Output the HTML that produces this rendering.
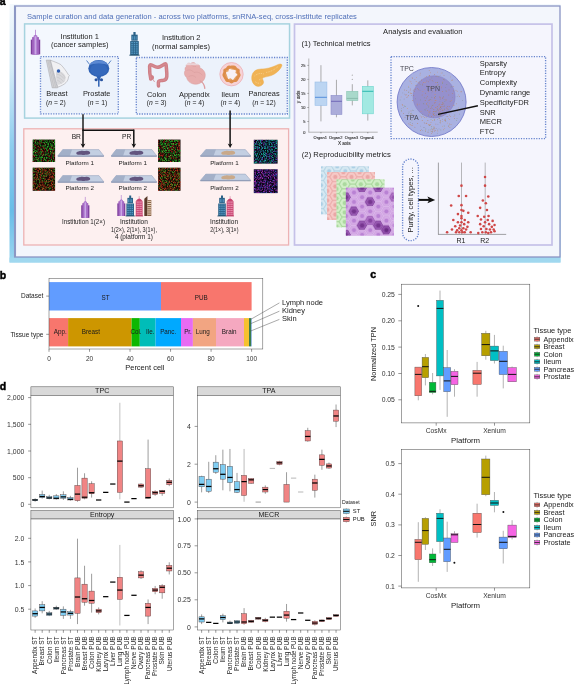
<!DOCTYPE html>
<html lang="en"><head><meta charset="utf-8"><title>Figure</title>
<style>
html,body{margin:0;padding:0;background:#fff;}
body{width:576px;height:685px;overflow:hidden;}
svg{display:block;font-family:"Liberation Sans", sans-serif;}
</style></head><body>
<svg width="576" height="685" viewBox="0 0 576 685">
<defs>

<linearGradient id="gband" x1="0" y1="0" x2="0" y2="1">
<stop offset="0" stop-color="#f4f9fd"/><stop offset="0.25" stop-color="#d6ecf8"/><stop offset="0.55" stop-color="#8ccdee"/><stop offset="0.8" stop-color="#68bde8"/><stop offset="0.95" stop-color="#8fd0ee"/><stop offset="1" stop-color="#a0d8ef"/>
</linearGradient>
<clipPath id="cph1"><rect x="321.0" y="166.4" width="47.8" height="47.8"/></clipPath><clipPath id="cph2"><rect x="327.2" y="172.2" width="47.8" height="47.8"/></clipPath><clipPath id="cph3"><rect x="336.6" y="179.5" width="47.8" height="47.8"/></clipPath><clipPath id="cph4"><rect x="345.9" y="187.8" width="47.8" height="47.8"/></clipPath>
</defs>
<rect x="9.50" y="4.00" width="551.00" height="258.50" fill="url(#gband)" stroke="none" stroke-width="1"/>
<rect x="9.50" y="257.60" width="551.00" height="4.90" fill="#a0d8ef" stroke="none" stroke-width="1"/>
<rect x="14.60" y="6.00" width="545.40" height="251.00" fill="#f3f6fc" stroke="#8a94c4" stroke-width="1.3"/>
<line x1="15.10" y1="6.00" x2="15.10" y2="257.00" stroke="#8d98c4" stroke-width="1.9"/>
<text x="27" y="19" font-size="7.55" fill="#4f6fb8" textLength="329.9">Sample curation and data generation - across two platforms, snRNA-seq, cross-institute replicates</text>
<rect x="24.60" y="23.90" width="264.95" height="94.20" fill="#f4f8fe" stroke="#a6d3df" stroke-width="1.5"/>
<rect x="23.80" y="128.80" width="264.80" height="116.20" fill="#fdf0f0" stroke="#edb2b4" stroke-width="1.3"/>
<rect x="294.50" y="24.10" width="257.50" height="220.90" fill="#f5f5fd" stroke="#c5c1e8" stroke-width="1.7"/>
<rect x="40.50" y="56.60" width="77.80" height="57.20" fill="#ecf2fb" stroke="#6583cd" stroke-width="1.35" stroke-dasharray="1.2 1.35"/>
<rect x="136.30" y="57.50" width="151.00" height="56.50" fill="#ecf2fb" stroke="#6583cd" stroke-width="1.35" stroke-dasharray="1.2 1.35"/>
<text x="79.8" y="38.8" font-size="7.5" text-anchor="middle" fill="#1c1c1c">Institution 1</text>
<text x="79.8" y="47.1" font-size="7.5" text-anchor="middle" fill="#1c1c1c">(cancer samples)</text>
<text x="181.2" y="40.3" font-size="7.5" text-anchor="middle" fill="#1c1c1c">Institution 2</text>
<text x="181" y="48.8" font-size="7.5" text-anchor="middle" fill="#1c1c1c">(normal samples)</text>
<text x="56.9" y="96" font-size="7.4" text-anchor="middle" fill="#1c1c1c">Breast</text>
<text x="55.9" y="104.5" font-size="6.75" text-anchor="middle" fill="#1c1c1c">(<tspan font-style="italic">n</tspan> = 2)</text>
<text x="96.7" y="96" font-size="7.4" text-anchor="middle" fill="#1c1c1c">Prostate</text>
<text x="97.3" y="104.5" font-size="6.75" text-anchor="middle" fill="#1c1c1c">(<tspan font-style="italic">n</tspan> = 1)</text>
<text x="156.6" y="96.5" font-size="7.4" text-anchor="middle" fill="#1c1c1c">Colon</text>
<text x="156.6" y="105" font-size="6.75" text-anchor="middle" fill="#1c1c1c">(<tspan font-style="italic">n</tspan> = 3)</text>
<text x="194.4" y="96.5" font-size="7.4" text-anchor="middle" fill="#1c1c1c">Appendix</text>
<text x="194.4" y="105" font-size="6.75" text-anchor="middle" fill="#1c1c1c">(<tspan font-style="italic">n</tspan> = 4)</text>
<text x="230.3" y="96.5" font-size="7.4" text-anchor="middle" fill="#1c1c1c">Ileum</text>
<text x="230.3" y="105" font-size="6.75" text-anchor="middle" fill="#1c1c1c">(<tspan font-style="italic">n</tspan> = 4)</text>
<text x="264" y="95.9" font-size="7.4" text-anchor="middle" fill="#1c1c1c">Pancreas</text>
<text x="264" y="104.5" font-size="6.75" text-anchor="middle" fill="#1c1c1c">(<tspan font-style="italic">n</tspan> = 12)</text>
<line x1="35.50" y1="29.80" x2="35.50" y2="36.20" stroke="#b482d0" stroke-width="0.799"/>
<rect x="30.80" y="39.64" width="9.40" height="14.76" fill="#7d3f9c" stroke="none" stroke-width="1"/>
<rect x="32.12" y="37.18" width="6.77" height="17.22" fill="#9450b2" stroke="none" stroke-width="1"/>
<path d="M33.62,54.40 V35.83 L35.50,34.72 L37.38,35.83 V54.40Z" fill="#a96fcb"/>
<rect x="34.65" y="36.20" width="1.69" height="18.20" fill="#caa8e4" stroke="none" stroke-width="1"/>
<rect x="32.68" y="38.16" width="0.56" height="16.24" fill="#b98ad6" stroke="none" stroke-width="1"/>
<rect x="37.76" y="38.16" width="0.56" height="16.24" fill="#b98ad6" stroke="none" stroke-width="1"/>
<rect x="133.38" y="32.00" width="2.24" height="3.02" fill="#2b6288" stroke="none" stroke-width="1"/>
<rect x="131.32" y="34.67" width="6.36" height="6.03" fill="#2b6288" stroke="none" stroke-width="1"/>
<rect x="130.20" y="41.05" width="8.60" height="14.15" fill="#2b6288" stroke="none" stroke-width="1"/>
<rect x="132.18" y="36.18" width="1.03" height="3.48" fill="#62aad6" stroke="none" stroke-width="1" opacity=".7"/>
<rect x="133.90" y="36.18" width="1.03" height="3.48" fill="#62aad6" stroke="none" stroke-width="1" opacity=".7"/>
<rect x="135.62" y="36.18" width="1.03" height="3.48" fill="#62aad6" stroke="none" stroke-width="1" opacity=".7"/>
<rect x="131.32" y="42.14" width="1.46" height="1.05" fill="#62aad6" stroke="none" stroke-width="1"/>
<rect x="133.73" y="42.14" width="1.46" height="1.05" fill="#62aad6" stroke="none" stroke-width="1"/>
<rect x="136.13" y="42.14" width="1.46" height="1.05" fill="#62aad6" stroke="none" stroke-width="1"/>
<rect x="131.32" y="44.25" width="1.46" height="1.05" fill="#62aad6" stroke="none" stroke-width="1"/>
<rect x="133.73" y="44.25" width="1.46" height="1.05" fill="#62aad6" stroke="none" stroke-width="1"/>
<rect x="136.13" y="44.25" width="1.46" height="1.05" fill="#62aad6" stroke="none" stroke-width="1"/>
<rect x="131.32" y="46.35" width="1.46" height="1.05" fill="#62aad6" stroke="none" stroke-width="1"/>
<rect x="133.73" y="46.35" width="1.46" height="1.05" fill="#62aad6" stroke="none" stroke-width="1"/>
<rect x="136.13" y="46.35" width="1.46" height="1.05" fill="#62aad6" stroke="none" stroke-width="1"/>
<rect x="131.32" y="48.45" width="1.46" height="1.05" fill="#62aad6" stroke="none" stroke-width="1"/>
<rect x="133.73" y="48.45" width="1.46" height="1.05" fill="#62aad6" stroke="none" stroke-width="1"/>
<rect x="136.13" y="48.45" width="1.46" height="1.05" fill="#62aad6" stroke="none" stroke-width="1"/>
<rect x="131.32" y="50.55" width="1.46" height="1.05" fill="#62aad6" stroke="none" stroke-width="1"/>
<rect x="133.73" y="50.55" width="1.46" height="1.05" fill="#62aad6" stroke="none" stroke-width="1"/>
<rect x="136.13" y="50.55" width="1.46" height="1.05" fill="#62aad6" stroke="none" stroke-width="1"/>
<rect x="131.32" y="52.66" width="1.46" height="1.05" fill="#62aad6" stroke="none" stroke-width="1"/>
<rect x="133.73" y="52.66" width="1.46" height="1.05" fill="#62aad6" stroke="none" stroke-width="1"/>
<rect x="136.13" y="52.66" width="1.46" height="1.05" fill="#62aad6" stroke="none" stroke-width="1"/>
<rect x="129.34" y="54.70" width="10.32" height="0.90" fill="#1f4f6c" stroke="none" stroke-width="1"/>
<g stroke-linejoin="round">
<path d="M46.2,60.1 L50.5,60.1 C52.4,69 54.6,79 57.6,87.9 L52.2,87.9 C50.2,79 48.2,69 46.2,60.1Z" fill="#d2d2d5" stroke="#a2a2a6" stroke-width=".45"/>
<path d="M47.9,60.3 C49.8,69 51.8,79 54,87.7 M49.2,60.3 C51.2,69 53.4,79 55.8,87.7" fill="none" stroke="#b0b0b4" stroke-width=".4"/>
<path d="M50.5,60.2 C54,61.6 58,63 60.8,64.6 C63.6,67.4 66.4,71.4 68.2,74.4 L69.4,75.6 L68.5,76.8 C68.4,79.4 67.4,81 66,82.6 C63.8,84.8 61,86 57.9,87.2 C55.4,79 52.6,69 50.5,60.2Z" fill="#f1f1f3" stroke="#9c9ca0" stroke-width=".5"/>
<path d="M56,72 C58,70.6 62,71.6 64.4,74.4 C66.4,77 65.8,80.6 63.4,82.6 C61.2,84.4 58.6,85 57.4,84.6 C56.2,80.6 55.8,76 56,72Z" fill="#d9d9dc"/>
<path d="M56.6,74 C59.5,74.6 62.5,76.5 64.6,79 M56.8,77 C59.5,77.8 62,79.5 63.6,81.8 M57.2,80.2 C59,80.8 60.6,82 61.6,83.6 M58.4,70.6 C61,72.4 63.6,75 65.2,78" fill="none" stroke="#b4b4b8" stroke-width=".35"/>
</g>
<circle cx="58.50" cy="71.10" r="1.75" fill="#2c5cb0" stroke="none" stroke-width="1"/>
<path d="M89.4,64.2 L86.8,60.8 M108.2,64.2 L110.8,60.8" fill="none" stroke="#4a79c2" stroke-width=".9" stroke-linecap="round"/>
<ellipse cx="98.8" cy="68.5" rx="10.5" ry="8.4" fill="#2f62b4"/>
<path d="M89.6,65.2 C91,61.6 95,60.4 98.8,60.4 C102.6,60.4 106.6,61.6 108,65.2 C105,63.4 92.6,63.4 89.6,65.2Z" fill="#5a88d2"/>
<ellipse cx="98.8" cy="69.6" rx="8.6" ry="6.2" fill="#3569bc"/>
<path d="M96.4,76 L101.2,76 L99.6,80.6 L98,80.6Z" fill="#2f62b4"/>
<rect x="98.05" y="76.00" width="1.50" height="10.70" fill="#2f62b4" stroke="none" stroke-width="1"/>
<circle cx="96.10" cy="79.80" r="1.55" fill="#28539f" stroke="none" stroke-width="1"/>
<circle cx="101.50" cy="79.80" r="1.55" fill="#28539f" stroke="none" stroke-width="1"/>
<path d="M150.8,79 C149.8,75 149.5,70 149.6,66.4 Q149.7,64.2 151.6,65 C153.6,65.9 155.4,67.1 157.4,67.3 C159.6,67.4 162.6,65.2 164.6,64 Q166.2,63.2 166.2,65.6 C166.4,69 167.1,73 166.8,76.6 Q166.5,80.2 162.6,80.5 C161,80.7 159.4,80.5 158.7,81.4 C158,82.6 158.4,84.4 158.5,86" fill="none" stroke="#cf7f86" stroke-width="3.5" stroke-linecap="round" stroke-linejoin="round"/>
<circle cx="151.50" cy="77.60" r="2.50" fill="#cf7f86" stroke="none" stroke-width="1"/>
<path d="M153.2,79.8 L154.4,81.7" stroke="#d48e94" stroke-width=".8" stroke-linecap="round" fill="none"/>
<path d="M150.8,79 C149.8,75 149.5,70 149.6,66.4 Q149.7,64.2 151.6,65 C153.6,65.9 155.4,67.1 157.4,67.3 C159.6,67.4 162.6,65.2 164.6,64 Q166.2,63.2 166.2,65.6 C166.4,69 167.1,73 166.8,76.6 Q166.5,80.2 162.6,80.5 C161,80.7 159.4,80.5 158.7,81.4 C158,82.6 158.4,84.4 158.5,86" fill="none" stroke="#d68b92" stroke-width="1.2" stroke-linecap="round" stroke-linejoin="round" stroke-dasharray="1.6 1.2"/>
<path d="M186.2,66.5 C185.6,63.6 188.6,62.4 190.6,63.6 C192,62 195.2,62.2 196,64.2 C198.6,63.6 200.4,65.6 199.8,67.8 C204,69.4 206.2,73.4 205,77.4 C203.8,81.6 199.6,84.4 195,84.2 C190.6,84 187.4,81.2 186.6,77.6 C184.2,75.6 183.8,72.4 185.2,70.2 C184.6,68.8 185.2,67.2 186.2,66.5Z" fill="#e7adad" stroke="#d69a9a" stroke-width=".45"/>
<path d="M186.6,70.4 C189.6,69.2 192.6,70.2 194,72.6 M190.6,64 C191.6,66 194,67 196,66.4 M194,72.6 C197,71.4 200.6,72.6 202.4,75.4 M188.6,76.6 C191.6,75 194.2,75.4 196,77.6" fill="none" stroke="#d69a9a" stroke-width=".5"/>
<path d="M186,63.2 L200,63.2 L200,65.2 L186,65.2Z" fill="#eef4fc" opacity=".55"/>
<path d="M200.2,81 C202.6,82 204.4,84.6 204.8,88.4" fill="none" stroke="#dc9ea0" stroke-width="1.3" stroke-linecap="round"/>
<circle cx="231.50" cy="74.20" r="11.70" fill="#f7d3d6" stroke="#e9aab2" stroke-width="0.7"/>
<path d="M240.5,74.2 L240.6,75.4 L240.1,76.5 L239.5,77.5 L239.0,78.5 L238.4,79.5 L237.8,80.5 L237.0,81.4 L236.0,82.0 L234.8,82.1 L233.7,82.3 L232.7,83.0 L231.5,83.5 L230.3,83.1 L229.3,82.3 L228.3,82.0 L227.0,82.0 L225.9,81.5 L225.2,80.5 L224.7,79.4 L224.0,78.5 L223.5,77.5 L222.9,76.5 L222.5,75.4 L222.5,74.2 L223.0,73.1 L223.4,72.0 L223.3,70.8 L223.4,69.5 L224.4,68.7 L225.6,68.3 L226.4,67.5 L227.0,66.4 L228.0,65.7 L229.2,65.6 L230.4,65.7 L231.5,65.6 L232.6,65.6 L233.8,65.6 L235.0,65.8 L236.0,66.4 L236.7,67.4 L237.4,68.3 L238.6,68.8 L239.6,69.5 L239.8,70.8 L239.6,72.0 L239.9,73.1Z" fill="#dd8d4a"/>
<path d="M237.9,74.2 L238.0,75.1 L237.3,75.8 L236.7,76.3 L236.3,77.0 L236.0,77.7 L235.7,78.4 L235.2,79.0 L234.6,79.6 L233.9,80.0 L233.0,80.0 L232.2,79.6 L231.5,79.4 L230.8,79.9 L229.8,80.4 L229.0,80.3 L228.5,79.4 L228.2,78.5 L227.7,78.0 L226.9,77.7 L226.2,77.3 L225.8,76.6 L225.6,75.8 L225.5,75.0 L225.6,74.2 L226.0,73.5 L226.3,72.8 L226.2,72.0 L225.9,71.0 L226.3,70.2 L227.2,69.9 L228.2,70.0 L228.9,69.7 L229.3,68.9 L229.9,68.1 L230.7,67.9 L231.5,68.1 L232.3,68.4 L233.0,68.7 L233.7,69.0 L234.3,69.3 L235.1,69.5 L236.0,69.7 L236.6,70.3 L236.7,71.2 L236.5,72.1 L236.5,72.9 L237.2,73.5Z" fill="#e6a468"/>
<path d="M237.0,74.2 L237.2,74.9 L236.7,75.6 L236.1,76.1 L235.6,76.5 L235.2,77.0 L234.8,77.5 L234.4,78.0 L234.0,78.5 L233.6,79.2 L233.0,79.7 L232.2,79.7 L231.5,79.0 L231.0,78.4 L230.4,78.2 L229.7,78.6 L228.7,79.0 L228.0,78.8 L227.7,78.0 L227.6,77.2 L227.4,76.5 L227.2,76.0 L227.0,75.4 L226.8,74.8 L226.6,74.2 L226.2,73.5 L226.0,72.7 L226.4,72.1 L227.3,71.8 L228.2,71.6 L228.5,71.2 L228.6,70.4 L228.7,69.4 L229.3,68.9 L230.1,69.0 L230.9,69.3 L231.5,69.5 L232.1,69.6 L232.7,69.7 L233.3,69.8 L234.0,69.9 L234.8,69.9 L235.5,70.2 L235.9,70.8 L235.7,71.8 L235.4,72.6 L235.5,73.1 L236.3,73.6Z" fill="#f7f0f5"/>
<path d="M251.7,78.6 C251.6,76 252.2,74 253.3,72.5 C254.4,71 255.8,70 257.5,69.5 C260,68.8 262.6,69 265.1,68.7 C267.8,68.4 270.2,67.7 272.7,66.8 C274.6,66.1 276.4,65.2 278.1,64.5 C278.8,64.2 279.4,64 280,64 C281.4,64 282.2,64.6 281.9,65.6 C281.7,66.4 281.3,67.2 280.8,67.9 C279.6,69.6 278.2,71.2 276.6,72.5 C275,73.8 273.2,74.9 271.2,75.6 C269.2,76.3 267.2,76.7 265.1,77.1 C264,77.4 263,77.8 262.4,78.6 C262.6,79.6 263.4,80.6 263.6,81.7 C263.7,83 263,84.2 262,85.1 C261,86 259.6,86.4 258.2,86.4 C256.8,86.4 255.4,85.8 254.4,84.7 C253.2,83.6 252.5,82.3 252.1,80.9 C251.9,80.1 251.7,79.4 251.7,78.6Z" fill="#f0b355" stroke="#eaa844" stroke-width=".4"/>
<path d="M254.5,76 C257.5,73.4 261,73 264,74 M259,80 C260.4,79 261.6,78.8 262.6,79.2 M266,72.4 C270,72 274,70 278,66.6 M255,81.5 C256.5,83 258.5,83.6 260.5,83" fill="none" stroke="#f6cf8c" stroke-width=".9" stroke-dasharray=".9 .9"/>
<path d="M83,114.2 V130.2 H133.8" fill="none" stroke="#111" stroke-width="1.4"/>
<line x1="83.00" y1="129.60" x2="83.00" y2="145.00" stroke="#111" stroke-width="1.5"/>
<path d="M80.60,143.50 L83.00,148.00 L85.40,143.50 L83.00,144.70Z" fill="#111"/>
<line x1="133.80" y1="129.60" x2="133.80" y2="145.00" stroke="#111" stroke-width="1.5"/>
<path d="M131.40,143.50 L133.80,148.00 L136.20,143.50 L133.80,144.70Z" fill="#111"/>
<line x1="230.10" y1="110.50" x2="230.10" y2="145.00" stroke="#111" stroke-width="1.5"/>
<path d="M227.70,143.50 L230.10,148.00 L232.50,143.50 L230.10,144.70Z" fill="#111"/>
<text x="76.3" y="138.5" font-size="6.7" text-anchor="middle" fill="#1c1c1c">BR</text>
<text x="126.6" y="138.5" font-size="6.7" text-anchor="middle" fill="#1c1c1c">PR</text>
<path d="M62.78,149.60 L98.92,149.60 L103.90,155.90 L57.80,155.90Z" fill="#c3cfe2" stroke="#8e9cb8" stroke-width=".5"/>
<path d="M62.78,149.60 L72.03,149.60 L69.79,155.90 L57.80,155.90Z" fill="#a3b0c8"/>
<line x1="57.80" y1="156.25" x2="103.90" y2="156.25" stroke="#7f8dac" stroke-width="0.9"/>
<path d="M76.29,153.15 C76.49,151.35 79.89,151.55 81.09,150.85 C82.79,150.35 84.79,151.25 86.29,150.85 C88.79,150.65 90.49,151.85 90.19,153.15 C89.89,154.45 87.29,154.35 85.69,154.85 C83.79,155.25 81.79,154.45 80.29,154.75 C78.29,155.05 76.19,154.35 76.29,153.15Z" fill="#62557f"/>
<path d="M62.78,175.60 L98.92,175.60 L103.90,181.90 L57.80,181.90Z" fill="#c3cfe2" stroke="#8e9cb8" stroke-width=".5"/>
<path d="M62.78,175.60 L72.03,175.60 L69.79,181.90 L57.80,181.90Z" fill="#a3b0c8"/>
<line x1="57.80" y1="182.25" x2="103.90" y2="182.25" stroke="#7f8dac" stroke-width="0.9"/>
<path d="M76.29,179.15 C76.49,177.35 79.89,177.55 81.09,176.85 C82.79,176.35 84.79,177.25 86.29,176.85 C88.79,176.65 90.49,177.85 90.19,179.15 C89.89,180.45 87.29,180.35 85.69,180.85 C83.79,181.25 81.79,180.45 80.29,180.75 C78.29,181.05 76.19,180.35 76.29,179.15Z" fill="#62557f"/>
<text x="79.64999999999999" y="164.8" font-size="6.25" text-anchor="middle" fill="#1c1c1c">Platform 1</text>
<text x="79.64999999999999" y="190.1" font-size="6.25" text-anchor="middle" fill="#1c1c1c">Platform 2</text>
<path d="M116.12,149.60 L151.88,149.60 L156.80,155.90 L111.20,155.90Z" fill="#c3cfe2" stroke="#8e9cb8" stroke-width=".5"/>
<path d="M116.12,149.60 L125.27,149.60 L123.06,155.90 L111.20,155.90Z" fill="#a3b0c8"/>
<line x1="111.20" y1="156.25" x2="156.80" y2="156.25" stroke="#7f8dac" stroke-width="0.9"/>
<path d="M129.42,153.15 C129.62,151.35 133.02,151.55 134.22,150.85 C135.92,150.35 137.92,151.25 139.42,150.85 C141.92,150.65 143.62,151.85 143.32,153.15 C143.02,154.45 140.42,154.35 138.82,154.85 C136.92,155.25 134.92,154.45 133.42,154.75 C131.42,155.05 129.32,154.35 129.42,153.15Z" fill="#62557f"/>
<path d="M116.12,175.60 L151.88,175.60 L156.80,181.90 L111.20,181.90Z" fill="#c3cfe2" stroke="#8e9cb8" stroke-width=".5"/>
<path d="M116.12,175.60 L125.27,175.60 L123.06,181.90 L111.20,181.90Z" fill="#a3b0c8"/>
<line x1="111.20" y1="182.25" x2="156.80" y2="182.25" stroke="#7f8dac" stroke-width="0.9"/>
<path d="M129.42,179.15 C129.62,177.35 133.02,177.55 134.22,176.85 C135.92,176.35 137.92,177.25 139.42,176.85 C141.92,176.65 143.62,177.85 143.32,179.15 C143.02,180.45 140.42,180.35 138.82,180.85 C136.92,181.25 134.92,180.45 133.42,180.75 C131.42,181.05 129.32,180.35 129.42,179.15Z" fill="#62557f"/>
<text x="132.8" y="164.8" font-size="6.25" text-anchor="middle" fill="#1c1c1c">Platform 1</text>
<text x="132.8" y="190.1" font-size="6.25" text-anchor="middle" fill="#1c1c1c">Platform 2</text>
<path d="M205.84,149.60 L245.36,149.60 L250.80,155.90 L200.40,155.90Z" fill="#c3cfe2" stroke="#8e9cb8" stroke-width=".5"/>
<path d="M205.84,149.60 L215.95,149.60 L213.50,155.90 L200.40,155.90Z" fill="#a3b0c8"/>
<line x1="200.40" y1="156.25" x2="250.80" y2="156.25" stroke="#7f8dac" stroke-width="0.9"/>
<path d="M221.27,153.15 C221.47,151.35 224.87,151.55 226.07,150.85 C227.77,150.35 229.77,151.25 231.27,150.85 C233.77,150.65 235.47,151.85 235.17,153.15 C234.87,154.45 232.27,154.35 230.67,154.85 C228.77,155.25 226.77,154.45 225.27,154.75 C223.27,155.05 221.17,154.35 221.27,153.15Z" fill="#c9a98a"/>
<path d="M205.84,174.10 L245.36,174.10 L250.80,180.40 L200.40,180.40Z" fill="#c3cfe2" stroke="#8e9cb8" stroke-width=".5"/>
<path d="M205.84,174.10 L215.95,174.10 L213.50,180.40 L200.40,180.40Z" fill="#a3b0c8"/>
<line x1="200.40" y1="180.75" x2="250.80" y2="180.75" stroke="#7f8dac" stroke-width="0.9"/>
<path d="M221.27,177.65 C221.47,175.85 224.87,176.05 226.07,175.35 C227.77,174.85 229.77,175.75 231.27,175.35 C233.77,175.15 235.47,176.35 235.17,177.65 C234.87,178.95 232.27,178.85 230.67,179.35 C228.77,179.75 226.77,178.95 225.27,179.25 C223.27,179.55 221.17,178.85 221.27,177.65Z" fill="#c9a98a"/>
<text x="224.40000000000003" y="164.8" font-size="6.25" text-anchor="middle" fill="#1c1c1c">Platform 1</text>
<text x="224.40000000000003" y="190.1" font-size="6.25" text-anchor="middle" fill="#1c1c1c">Platform 2</text>
<rect x="32.7" y="139.6" width="22.4" height="22.4" fill="#120806"/>
<path d="M33.6 140.1h0M33.2 141.7h0M33.2 144.4h0M33.2 146.1h0M33.2 149.6h0M33.5 152.3h0M33.6 154.2h0M33.3 160.2h0M34.7 146.1h0M34.3 148.1h0M34.5 150.0h0M34.7 151.6h0M35.3 154.9h0M34.5 155.4h0M34.9 159.1h0M36.1 140.1h0M35.7 141.3h0M35.6 142.5h0M36.0 143.9h0M35.7 147.7h0M35.9 150.5h0M36.8 151.5h0M36.5 155.7h0M35.9 157.5h0M36.2 159.7h0M37.8 142.3h0M37.3 144.1h0M38.0 149.9h0M37.0 157.7h0M37.7 161.0h0M39.5 140.1h0M38.4 146.3h0M39.1 152.9h0M39.1 157.7h0M38.5 158.4h0M38.5 160.1h0M40.9 140.9h0M40.0 144.3h0M40.5 145.8h0M40.8 151.2h0M40.9 153.3h0M40.9 154.4h0M39.8 155.9h0M41.0 157.3h0M40.8 158.0h0M40.2 160.0h0M39.9 161.3h0M41.4 140.1h0M41.6 142.0h0M42.1 146.0h0M41.8 149.1h0M41.2 152.4h0M41.5 157.0h0M41.5 159.1h0M41.2 161.2h0M43.1 142.5h0M43.3 145.9h0M43.8 148.3h0M42.7 157.5h0M43.6 160.2h0M44.1 140.1h0M44.9 142.3h0M44.6 143.3h0M44.9 145.7h0M44.0 147.0h0M45.2 152.0h0M45.2 155.3h0M44.6 157.7h0M45.1 159.9h0M45.8 141.2h0M46.4 142.5h0M45.4 148.2h0M46.5 149.8h0M46.3 157.3h0M46.5 158.0h0M45.7 160.2h0M46.2 161.0h0M47.0 140.1h0M47.2 144.0h0M47.5 146.4h0M47.3 147.3h0M46.8 148.4h0M47.4 150.3h0M47.1 151.2h0M48.0 153.3h0M46.8 154.6h0M46.9 158.1h0M49.3 141.9h0M48.5 143.3h0M48.3 144.5h0M48.5 146.0h0M49.4 148.9h0M49.0 155.3h0M49.2 158.2h0M48.5 161.2h0M50.7 143.6h0M50.0 147.1h0M49.9 148.5h0M50.8 149.7h0M50.7 153.9h0M49.9 160.5h0M50.5 161.1h0M51.9 140.8h0M51.6 145.0h0M51.1 149.5h0M52.2 152.0h0M51.1 152.4h0M51.3 159.5h0M52.6 145.1h0M53.3 147.9h0M52.6 149.8h0M53.1 155.9h0M53.2 157.0h0M53.6 158.3h0M52.9 160.4h0M52.6 161.5h0M54.6 140.2h0M54.6 141.7h0M54.5 143.3h0M54.6 144.3h0M54.1 145.9h0M54.4 147.7h0M53.9 149.3h0M54.5 161.2h0" stroke="#2ee034" stroke-width="1.0" stroke-linecap="round" fill="none"/>
<path d="M33.3 147.9h0M33.3 155.4h0M33.2 157.2h0M33.2 161.5h0M35.3 140.1h0M34.9 141.6h0M35.0 145.1h0M34.5 156.5h0M34.9 160.1h0M35.8 145.6h0M36.2 148.2h0M35.6 152.9h0M38.1 146.3h0M38.0 146.8h0M37.2 152.4h0M38.1 158.4h0M39.5 141.6h0M39.0 143.1h0M39.3 147.4h0M39.1 149.1h0M38.7 149.8h0M39.1 151.8h0M38.9 154.3h0M40.4 148.2h0M41.4 142.9h0M42.3 146.8h0M42.0 150.7h0M41.5 153.9h0M41.5 160.5h0M42.8 140.3h0M43.5 147.8h0M42.6 150.5h0M43.5 151.9h0M43.2 153.3h0M42.9 155.1h0M43.4 158.7h0M43.4 160.8h0M44.8 144.0h0M44.8 148.4h0M44.6 149.6h0M45.6 151.3h0M47.5 155.1h0M48.0 160.2h0M47.3 161.4h0M48.5 149.8h0M48.6 150.9h0M48.7 152.6h0M48.8 156.7h0M48.5 160.5h0M49.6 156.5h0M51.4 147.1h0M51.5 154.0h0M51.8 156.0h0M51.1 157.5h0M51.4 158.8h0M51.4 161.2h0M52.7 140.7h0M53.2 148.3h0M52.6 150.9h0M52.6 152.7h0M53.8 150.6h0M54.3 155.2h0M54.6 156.5h0M53.8 158.9h0M54.5 160.1h0" stroke="#a81c14" stroke-width="1.0" stroke-linecap="round" fill="none"/>
<path d="M33.2 151.6h0M35.3 152.6h0M37.2 159.6h0M40.0 143.0h0M41.0 149.6h0M42.1 151.7h0M42.3 155.9h0M43.3 154.8h0M45.2 154.2h0M44.6 159.0h0M45.5 145.0h0M50.6 151.4h0M51.9 146.3h0M51.1 148.3h0M53.5 142.5h0M53.1 153.7h0M54.0 152.8h0M54.0 153.9h0" stroke="#9ad84a" stroke-width="1.0" stroke-linecap="round" fill="none"/>
<path d="M33.7 158.2h0M34.8 143.3h0M35.2 161.5h0M36.4 154.0h0M36.6 158.9h0M38.2 143.7h0M38.0 149.0h0M37.5 151.4h0M38.0 153.9h0M37.8 155.5h0M39.3 156.2h0M38.6 161.5h0M40.3 141.7h0M45.7 145.7h0M46.1 147.1h0M46.4 153.1h0M46.1 154.6h0M47.4 141.3h0M47.3 142.6h0M47.8 157.5h0M48.5 153.7h0M49.8 140.2h0M49.7 141.1h0M50.7 144.3h0M50.5 145.3h0M49.6 155.6h0M49.9 158.8h0M51.0 141.4h0M52.2 143.0h0M52.5 141.7h0M52.8 146.4h0M54.6 151.9h0" stroke="#167a1a" stroke-width="1.0" stroke-linecap="round" fill="none"/>
<rect x="32.7" y="167.7" width="22.4" height="23.1" fill="#140a04"/>
<path d="M33.3 168.2h0M33.2 170.2h0M33.2 171.3h0M33.2 174.4h0M33.7 175.7h0M33.2 177.7h0M34.0 178.8h0M33.9 185.4h0M33.2 186.6h0M34.6 168.9h0M35.3 169.4h0M34.7 171.7h0M34.4 174.5h0M34.6 177.9h0M34.7 181.4h0M34.4 188.8h0M36.0 171.5h0M36.4 178.9h0M36.5 180.8h0M36.2 183.2h0M36.4 187.6h0M35.9 190.3h0M37.8 184.6h0M37.4 186.2h0M39.2 168.2h0M38.8 172.5h0M39.4 174.4h0M39.3 176.9h0M38.6 179.0h0M38.6 179.3h0M39.6 180.8h0M39.4 182.4h0M39.4 188.8h0M40.6 172.6h0M40.0 181.2h0M40.3 185.4h0M40.6 190.1h0M41.3 168.6h0M42.3 169.8h0M41.7 171.0h0M42.0 174.1h0M41.3 175.5h0M42.0 176.8h0M42.0 178.4h0M42.0 187.6h0M43.4 175.6h0M43.6 178.5h0M42.7 180.4h0M42.9 181.3h0M42.6 189.4h0M44.3 168.2h0M45.0 173.0h0M45.0 173.8h0M44.9 175.6h0M44.3 176.7h0M44.0 178.5h0M44.6 180.0h0M45.0 182.7h0M46.3 168.2h0M45.9 171.3h0M46.6 173.0h0M46.4 175.0h0M46.4 180.5h0M46.2 181.7h0M45.6 183.1h0M45.5 183.9h0M46.1 188.3h0M47.5 171.9h0M47.0 175.2h0M47.0 182.3h0M47.8 184.6h0M47.7 185.7h0M48.3 168.2h0M48.7 174.0h0M48.6 179.9h0M48.5 182.2h0M48.5 187.6h0M49.3 188.4h0M49.2 189.7h0M49.8 169.5h0M50.1 170.8h0M49.9 172.9h0M50.0 181.4h0M50.1 187.8h0M50.8 188.3h0M51.8 180.6h0M53.2 169.8h0M53.0 171.5h0M52.6 179.9h0M52.5 189.7h0M54.0 168.2h0M54.4 169.6h0M54.6 171.7h0M53.8 174.6h0M54.6 175.6h0M54.6 178.2h0M54.2 179.5h0M53.8 181.4h0M53.9 183.1h0M53.8 186.2h0M54.4 187.2h0" stroke="#52a428" stroke-width="1.0" stroke-linecap="round" fill="none"/>
<path d="M33.3 172.2h0M34.0 180.0h0M33.2 183.2h0M33.9 188.9h0M33.8 189.6h0M35.0 177.7h0M34.5 183.1h0M34.6 186.8h0M35.4 189.7h0M36.4 168.9h0M35.9 169.2h0M36.2 174.1h0M36.6 175.0h0M35.9 179.4h0M35.7 184.0h0M36.3 188.6h0M38.1 168.2h0M37.9 170.4h0M38.1 171.1h0M37.2 177.2h0M38.0 190.3h0M39.3 169.5h0M38.4 171.0h0M39.4 184.0h0M38.6 186.0h0M39.2 186.6h0M38.9 190.3h0M40.4 171.4h0M40.8 174.4h0M40.3 176.0h0M40.4 177.6h0M40.1 178.8h0M40.0 179.6h0M40.3 184.9h0M40.0 187.0h0M41.8 182.0h0M42.2 184.9h0M41.9 185.8h0M42.4 188.3h0M42.1 189.6h0M42.6 168.2h0M43.1 169.8h0M42.9 171.0h0M42.8 173.7h0M43.8 176.9h0M42.8 182.2h0M42.9 184.0h0M43.4 186.0h0M44.9 169.7h0M45.0 181.4h0M44.7 186.0h0M45.2 187.2h0M45.1 189.9h0M46.1 170.3h0M45.8 173.9h0M45.6 179.1h0M45.8 190.0h0M47.3 172.9h0M48.0 179.4h0M46.8 181.7h0M48.0 187.5h0M49.3 169.8h0M48.9 171.2h0M49.2 172.6h0M49.4 177.3h0M48.9 179.1h0M49.0 181.5h0M48.9 184.7h0M49.2 186.2h0M49.8 175.2h0M50.3 177.0h0M49.6 179.2h0M50.4 180.3h0M51.1 168.2h0M51.7 171.2h0M52.2 176.3h0M51.3 176.9h0M51.9 182.0h0M51.7 183.2h0M51.3 183.8h0M51.3 185.3h0M51.9 186.8h0M52.1 190.3h0M52.9 168.2h0M52.4 173.0h0M53.5 173.9h0M52.7 176.1h0M53.0 176.8h0M53.6 178.0h0M52.6 181.2h0M52.4 187.6h0M52.9 189.2h0M53.9 173.1h0M54.6 188.3h0M54.1 190.3h0" stroke="#e23c22" stroke-width="1.0" stroke-linecap="round" fill="none"/>
<path d="M33.2 181.8h0M33.2 184.7h0M37.8 173.0h0M37.5 175.9h0M37.2 177.9h0M37.1 187.7h0M39.8 168.2h0M40.4 169.7h0M42.1 173.0h0M43.6 188.2h0M45.0 170.9h0M44.0 188.9h0M46.1 176.5h0M46.2 187.0h0M50.2 174.2h0M50.2 185.8h0M51.5 170.4h0M52.0 177.9h0M52.4 184.6h0M54.2 184.6h0" stroke="#e08a30" stroke-width="1.0" stroke-linecap="round" fill="none"/>
<path d="M34.9 172.6h0M36.5 172.4h0M35.7 176.7h0M37.6 174.6h0M37.4 179.5h0M37.1 188.3h0M40.7 182.3h0M41.4 180.2h0M43.2 172.4h0M43.6 186.6h0M44.1 184.5h0M46.8 168.5h0M47.4 174.1h0M49.2 175.7h0M49.9 168.6h0M51.3 172.8h0M51.8 174.1h0M53.5 182.3h0M52.4 186.1h0" stroke="#7a2a10" stroke-width="1.0" stroke-linecap="round" fill="none"/>
<rect x="158.1" y="139.6" width="22.4" height="22.4" fill="#120806"/>
<path d="M158.6 141.1h0M158.8 143.4h0M158.8 145.6h0M159.4 154.7h0M158.6 158.5h0M158.8 159.3h0M160.8 145.6h0M159.7 147.4h0M159.9 148.7h0M160.6 153.0h0M159.8 154.6h0M160.3 155.7h0M159.6 158.3h0M161.9 147.3h0M162.1 148.2h0M161.9 154.0h0M161.5 155.5h0M163.5 142.0h0M163.6 149.9h0M163.4 154.9h0M162.6 155.4h0M162.6 156.7h0M162.8 159.1h0M162.4 161.1h0M164.6 140.1h0M164.1 141.9h0M164.1 153.7h0M165.3 147.0h0M167.0 140.3h0M166.9 143.0h0M166.6 150.9h0M166.8 156.1h0M166.9 157.0h0M168.5 142.0h0M168.5 145.3h0M168.6 147.8h0M168.3 150.9h0M168.8 154.0h0M168.5 156.2h0M169.4 149.2h0M170.5 150.3h0M170.4 161.5h0M171.1 147.5h0M171.2 148.6h0M171.5 151.3h0M171.8 155.1h0M171.1 157.2h0M171.6 158.2h0M170.9 161.5h0M172.7 140.3h0M172.3 143.6h0M172.5 146.0h0M172.9 146.8h0M173.1 149.6h0M172.3 151.9h0M173.3 158.6h0M173.7 145.3h0M174.0 148.3h0M174.4 150.5h0M173.7 156.9h0M175.3 142.8h0M175.6 151.7h0M175.5 152.3h0M175.4 158.1h0M176.6 145.8h0M177.5 147.5h0M177.6 148.8h0M176.9 154.5h0M176.4 159.0h0M178.5 141.8h0M178.2 143.4h0M178.7 144.8h0M179.0 146.8h0M178.7 149.9h0M178.9 156.7h0M179.7 142.2h0M179.7 143.6h0M179.5 144.2h0M179.5 145.5h0M179.5 147.9h0M179.4 149.2h0M179.9 152.8h0M179.3 159.5h0" stroke="#c8281c" stroke-width="1.0" stroke-linecap="round" fill="none"/>
<path d="M159.1 143.9h0M158.8 151.4h0M159.3 156.8h0M159.1 161.5h0M160.4 144.2h0M159.9 161.5h0M162.0 145.9h0M161.7 151.4h0M161.7 152.7h0M161.6 157.0h0M162.2 160.9h0M162.4 140.1h0M163.0 143.1h0M163.2 145.9h0M163.6 148.7h0M164.5 143.0h0M164.5 153.5h0M164.2 156.2h0M164.1 158.4h0M165.4 152.1h0M165.6 161.5h0M168.8 144.8h0M169.7 152.5h0M170.5 153.9h0M171.4 140.3h0M171.9 154.9h0M170.8 159.5h0M172.4 160.2h0M174.6 152.3h0M174.3 157.9h0M175.0 146.0h0M175.9 147.5h0M175.8 149.9h0M175.4 161.5h0M176.6 152.7h0M176.4 160.0h0M178.2 155.3h0M179.3 140.6h0M179.4 154.8h0M179.5 156.5h0M179.2 159.0h0" stroke="#167a1a" stroke-width="1.0" stroke-linecap="round" fill="none"/>
<path d="M158.6 147.4h0M158.9 149.0h0M160.4 142.8h0M159.7 149.6h0M159.9 151.2h0M159.8 157.1h0M160.3 159.9h0M162.1 140.2h0M161.5 142.0h0M162.2 143.4h0M161.4 144.7h0M161.9 150.2h0M161.2 158.6h0M162.1 159.7h0M162.8 144.6h0M162.9 147.4h0M162.9 160.3h0M164.7 144.0h0M164.4 146.3h0M164.7 148.5h0M163.9 150.6h0M164.3 151.4h0M164.5 157.7h0M164.2 160.4h0M166.4 140.1h0M165.8 141.6h0M165.3 143.5h0M165.4 144.2h0M166.0 145.7h0M165.7 149.1h0M165.6 150.4h0M165.7 152.4h0M166.3 154.4h0M165.9 155.3h0M165.8 157.2h0M165.7 159.4h0M167.0 141.4h0M166.6 146.1h0M167.1 147.5h0M167.6 148.5h0M166.7 150.6h0M167.0 152.7h0M166.6 158.9h0M166.6 160.3h0M166.9 160.8h0M169.1 140.6h0M168.1 143.7h0M168.7 150.7h0M168.2 152.7h0M169.1 156.6h0M169.0 158.6h0M168.8 160.0h0M169.6 140.1h0M170.3 141.6h0M170.0 142.9h0M169.4 145.1h0M170.3 146.5h0M170.0 147.2h0M169.5 150.9h0M170.4 158.2h0M171.5 141.2h0M171.3 143.7h0M171.3 144.1h0M171.8 146.3h0M171.2 152.9h0M172.3 141.3h0M172.8 144.2h0M172.7 149.2h0M173.4 153.0h0M173.1 153.7h0M172.2 155.8h0M173.1 157.0h0M174.5 140.9h0M174.3 141.2h0M173.8 144.4h0M174.0 151.1h0M174.6 155.6h0M174.2 160.0h0M173.6 161.4h0M175.5 140.9h0M175.7 144.5h0M175.3 149.1h0M176.2 154.3h0M175.3 155.5h0M176.1 157.0h0M175.4 160.2h0M176.6 140.4h0M177.3 141.6h0M177.0 143.6h0M176.4 144.1h0M177.0 152.0h0M176.9 155.1h0M177.0 157.2h0M176.5 160.9h0M178.7 151.0h0M178.4 154.4h0M179.0 159.9h0M178.8 161.2h0M180.0 150.5h0M179.8 152.0h0M179.6 161.5h0" stroke="#2ee034" stroke-width="1.0" stroke-linecap="round" fill="none"/>
<path d="M159.4 150.0h0M158.6 152.6h0M159.2 155.1h0M160.7 140.8h0M162.6 151.3h0M163.0 152.4h0M163.8 146.7h0M164.1 160.9h0M165.7 158.7h0M167.7 145.0h0M168.0 149.0h0M169.0 160.8h0M170.3 155.5h0M169.8 156.9h0M171.9 149.7h0M173.0 161.5h0M173.7 143.6h0M173.8 147.4h0M174.4 154.2h0M177.5 149.9h0M177.9 140.7h0M179.0 145.8h0M180.0 155.3h0" stroke="#9ad84a" stroke-width="1.0" stroke-linecap="round" fill="none"/>
<rect x="158.1" y="167.7" width="22.4" height="23.1" fill="#140a04"/>
<path d="M159.4 168.2h0M159.1 187.1h0M159.9 170.0h0M160.7 189.5h0M162.9 172.7h0M163.1 188.6h0M164.5 172.2h0M164.0 185.2h0M167.2 176.6h0M166.7 178.5h0M166.7 190.2h0M171.0 188.7h0M172.7 184.7h0M174.2 178.6h0M173.7 179.8h0M174.5 187.6h0M173.7 188.9h0M177.4 184.3h0M178.3 175.1h0M179.2 176.1h0" stroke="#e08a30" stroke-width="1.0" stroke-linecap="round" fill="none"/>
<path d="M159.0 169.3h0M158.9 186.0h0M160.7 172.2h0M160.3 177.7h0M160.5 178.4h0M159.9 183.4h0M160.2 184.3h0M160.6 186.9h0M160.1 188.8h0M162.0 168.2h0M161.5 170.8h0M161.9 173.7h0M161.0 178.1h0M161.4 189.5h0M162.4 170.0h0M163.4 171.2h0M163.2 174.5h0M162.5 176.7h0M162.5 178.0h0M162.4 180.2h0M162.4 181.7h0M163.6 183.3h0M164.1 168.2h0M164.2 169.8h0M164.2 171.7h0M164.3 174.3h0M164.5 177.0h0M164.9 178.0h0M163.8 180.4h0M164.0 182.0h0M164.4 183.1h0M165.0 187.1h0M165.4 170.4h0M165.4 171.7h0M165.7 175.9h0M165.3 177.6h0M165.8 180.5h0M166.3 181.5h0M165.5 184.9h0M165.4 190.3h0M167.3 169.8h0M167.0 181.0h0M167.7 183.7h0M167.6 185.8h0M169.0 168.7h0M169.0 172.5h0M169.1 173.6h0M168.8 176.6h0M169.0 181.9h0M168.2 183.0h0M168.1 184.6h0M169.0 189.0h0M169.0 190.3h0M169.7 170.9h0M169.9 174.6h0M170.6 176.1h0M170.4 178.9h0M169.9 182.6h0M170.4 186.7h0M171.9 168.3h0M171.0 171.3h0M171.2 177.6h0M170.9 178.7h0M171.2 183.5h0M171.6 184.4h0M171.9 186.0h0M172.6 171.9h0M172.5 172.3h0M173.2 174.0h0M173.3 175.2h0M172.3 181.1h0M172.6 185.3h0M172.9 187.4h0M174.5 171.5h0M173.7 172.5h0M174.1 183.0h0M174.6 184.7h0M174.5 185.7h0M173.9 189.5h0M175.3 168.2h0M175.0 176.1h0M175.2 178.9h0M176.0 180.0h0M175.9 184.4h0M175.7 185.4h0M175.8 190.3h0M177.3 173.4h0M177.2 176.8h0M176.9 180.9h0M177.6 189.3h0M176.9 190.3h0M177.8 171.8h0M178.6 173.8h0M178.7 178.4h0M177.8 179.9h0M178.7 181.1h0M178.4 182.4h0M177.8 184.0h0M178.7 186.6h0M180.0 169.6h0M179.4 173.2h0M179.3 174.6h0M179.8 177.2h0M179.3 177.9h0" stroke="#52a428" stroke-width="1.0" stroke-linecap="round" fill="none"/>
<path d="M158.7 170.8h0M159.3 173.7h0M158.7 175.2h0M159.1 177.1h0M158.8 179.1h0M159.4 180.5h0M158.6 181.1h0M158.8 182.7h0M158.6 184.5h0M159.4 188.5h0M158.6 190.3h0M159.8 170.8h0M160.4 174.3h0M160.2 180.1h0M160.4 181.5h0M160.7 185.8h0M161.1 169.7h0M161.6 175.3h0M161.5 176.5h0M161.4 179.6h0M161.8 181.9h0M162.0 183.0h0M161.5 184.1h0M161.5 185.9h0M161.5 187.3h0M162.2 188.9h0M163.0 168.4h0M163.2 175.7h0M162.8 184.3h0M162.7 186.9h0M162.8 190.3h0M164.8 175.4h0M164.0 184.7h0M164.9 188.9h0M164.6 189.5h0M165.5 168.5h0M165.2 172.6h0M165.9 173.7h0M165.3 182.6h0M165.6 188.6h0M167.3 168.2h0M167.4 172.3h0M167.0 174.4h0M167.8 175.4h0M167.2 179.5h0M166.7 182.5h0M167.5 186.7h0M167.1 188.7h0M168.7 170.5h0M168.5 175.1h0M168.2 178.2h0M169.2 186.0h0M169.0 187.8h0M170.6 168.5h0M170.6 170.2h0M170.0 173.3h0M170.2 177.5h0M169.5 181.8h0M170.4 184.5h0M169.7 186.0h0M170.4 188.2h0M170.9 175.7h0M171.4 181.6h0M171.2 186.7h0M171.3 190.3h0M173.1 168.2h0M173.4 170.1h0M172.6 176.5h0M173.4 179.1h0M173.4 179.6h0M173.4 182.6h0M172.6 189.2h0M173.0 189.8h0M174.6 168.5h0M174.8 176.0h0M174.6 176.9h0M174.2 181.9h0M175.8 170.5h0M175.9 170.8h0M175.0 172.9h0M175.0 174.1h0M175.8 176.9h0M175.6 182.8h0M176.6 168.3h0M177.3 169.9h0M177.3 170.9h0M176.6 175.0h0M177.2 179.2h0M176.6 179.8h0M177.3 182.8h0M176.5 185.8h0M176.7 186.6h0M177.8 168.2h0M177.8 170.3h0M178.2 172.9h0M178.0 177.0h0M178.3 186.1h0M180.0 170.8h0M179.7 179.3h0M180.0 181.8h0M180.0 182.5h0M180.0 184.4h0M180.0 186.2h0M179.6 186.9h0M179.9 189.3h0M179.3 189.6h0" stroke="#e23c22" stroke-width="1.0" stroke-linecap="round" fill="none"/>
<path d="M159.6 176.0h0M161.8 172.7h0M165.8 178.3h0M165.6 187.8h0M169.2 180.4h0M169.8 189.7h0M171.4 170.5h0M171.3 174.6h0M171.2 180.2h0M173.9 169.5h0M174.4 174.4h0M176.0 187.8h0M175.1 188.6h0M177.5 174.5h0M178.8 188.0h0M179.4 168.6h0" stroke="#7a2a10" stroke-width="1.0" stroke-linecap="round" fill="none"/>
<rect x="253.8" y="139.8" width="23.8" height="23.8" fill="#08060e"/>
<path d="M254.5 140.4h0M254.7 142.4h0M254.3 147.2h0M255.0 150.6h0M255.1 158.3h0M254.5 160.7h0M256.5 141.5h0M256.1 143.6h0M256.1 147.6h0M255.6 153.4h0M257.8 149.7h0M257.9 157.4h0M257.0 161.1h0M259.0 140.3h0M258.9 148.5h0M259.3 161.7h0M260.0 150.2h0M260.6 152.3h0M259.8 162.6h0M261.7 140.3h0M261.5 142.1h0M261.1 145.3h0M260.9 156.1h0M261.7 159.0h0M261.1 162.3h0M262.6 140.3h0M262.3 143.0h0M263.5 144.1h0M262.7 147.4h0M262.5 157.6h0M262.4 159.7h0M264.8 142.9h0M264.0 144.3h0M264.6 159.0h0M265.9 140.3h0M266.3 156.9h0M265.1 161.8h0M266.5 153.6h0M266.9 154.9h0M267.6 163.1h0M268.4 147.0h0M268.1 156.5h0M268.9 156.9h0M268.8 159.2h0M270.2 147.8h0M269.6 149.3h0M270.1 153.7h0M269.5 158.7h0M271.8 144.6h0M271.3 154.3h0M271.1 157.2h0M273.2 142.8h0M273.3 146.9h0M273.3 151.5h0M272.5 161.4h0M273.9 147.3h0M273.8 153.6h0M274.6 156.0h0M273.8 160.4h0M273.8 162.7h0M275.3 147.2h0M275.8 151.5h0M275.9 163.1h0M276.5 145.2h0M277.0 150.9h0M276.4 157.7h0M277.1 159.3h0M276.3 159.5h0" stroke="#7a3ad0" stroke-width="1.0" stroke-linecap="round" fill="none"/>
<path d="M255.0 143.7h0M257.0 144.5h0M258.7 147.2h0M260.6 160.7h0M261.3 149.1h0M263.2 151.5h0M262.6 158.2h0M264.7 146.4h0M264.1 147.3h0M266.0 141.8h0M265.5 155.6h0M266.8 145.2h0M268.9 149.9h0M268.1 154.6h0M269.8 140.6h0M269.6 144.4h0M269.6 154.1h0M271.4 149.1h0M271.0 158.5h0M273.0 142.4h0M272.8 160.0h0M274.1 142.7h0M275.8 141.8h0M275.1 144.9h0M275.7 161.8h0" stroke="#3a70e0" stroke-width="1.0" stroke-linecap="round" fill="none"/>
<path d="M254.7 145.1h0M254.3 148.8h0M254.3 152.8h0M254.3 163.1h0M255.6 144.1h0M255.6 146.7h0M255.4 148.4h0M255.4 151.7h0M255.7 154.4h0M256.2 155.4h0M256.3 156.7h0M256.3 159.1h0M255.3 159.7h0M256.1 161.6h0M255.5 162.4h0M257.5 140.6h0M256.7 142.3h0M257.0 146.5h0M257.6 147.2h0M257.2 148.7h0M257.2 153.4h0M257.3 154.1h0M256.8 155.4h0M257.6 158.8h0M256.8 162.6h0M258.3 142.1h0M259.3 143.3h0M258.9 144.7h0M258.3 156.2h0M258.7 160.1h0M260.7 140.3h0M260.3 141.3h0M260.5 142.7h0M260.0 144.8h0M259.8 145.6h0M259.6 147.5h0M259.5 154.2h0M259.8 158.9h0M260.6 161.6h0M261.5 143.5h0M261.4 146.7h0M262.1 148.0h0M261.2 149.9h0M261.0 151.6h0M261.6 153.7h0M261.8 154.4h0M262.1 157.6h0M261.8 159.8h0M262.3 148.4h0M263.1 150.5h0M263.4 153.2h0M263.1 154.4h0M263.3 156.3h0M263.1 161.2h0M262.9 163.1h0M264.0 142.1h0M264.4 148.4h0M264.8 152.2h0M263.8 153.1h0M264.6 154.5h0M263.8 155.8h0M264.5 156.9h0M264.8 160.6h0M264.2 161.7h0M264.9 163.1h0M265.2 143.9h0M266.0 144.2h0M265.3 146.1h0M265.3 147.8h0M265.2 148.6h0M265.4 150.6h0M265.7 153.4h0M265.3 155.1h0M265.3 159.0h0M265.6 160.5h0M266.9 141.4h0M267.3 147.3h0M267.1 148.7h0M267.5 150.7h0M267.7 152.0h0M266.9 156.7h0M266.6 158.2h0M267.1 160.0h0M269.1 144.9h0M269.8 141.9h0M269.3 143.1h0M270.0 146.6h0M270.5 150.2h0M270.3 151.9h0M270.0 155.7h0M269.4 156.9h0M270.0 161.1h0M270.2 163.1h0M271.2 140.3h0M270.9 142.4h0M271.7 143.6h0M271.4 146.3h0M271.8 152.1h0M271.3 156.4h0M271.8 160.1h0M271.7 161.1h0M270.9 162.3h0M272.4 140.3h0M272.3 145.0h0M272.2 146.6h0M272.1 149.2h0M272.3 149.9h0M272.6 152.8h0M272.3 155.7h0M272.7 157.5h0M274.0 140.7h0M274.3 144.8h0M274.7 146.7h0M274.2 151.3h0M273.6 159.2h0M274.1 161.8h0M276.1 143.3h0M275.5 148.4h0M275.0 153.5h0M275.5 154.3h0M277.1 140.6h0M276.4 141.9h0M276.7 143.4h0M276.5 148.4h0M277.1 151.9h0M277.1 154.2h0M276.3 156.0h0" stroke="#20d8cc" stroke-width="1.0" stroke-linecap="round" fill="none"/>
<path d="M254.3 146.7h0M254.8 151.4h0M254.3 154.8h0M254.9 155.9h0M254.3 157.5h0M254.7 162.1h0M257.1 143.6h0M257.0 151.1h0M257.8 159.6h0M259.0 150.8h0M258.3 151.4h0M258.2 152.7h0M258.6 157.5h0M258.3 163.1h0M259.5 148.6h0M260.0 152.5h0M260.6 155.8h0M260.5 157.5h0M261.6 161.9h0M263.5 145.7h0M265.7 152.3h0M266.3 162.7h0M266.8 140.3h0M267.0 143.5h0M267.4 146.4h0M266.7 155.7h0M266.9 161.7h0M268.6 140.3h0M268.5 141.9h0M268.7 142.9h0M267.9 146.2h0M268.9 148.7h0M268.4 151.5h0M268.1 152.9h0M268.1 159.5h0M269.0 162.1h0M268.6 162.5h0M269.9 160.7h0M270.9 147.3h0M271.4 150.2h0M273.3 154.8h0M273.2 163.0h0M274.5 149.3h0M274.3 150.1h0M274.4 154.1h0M273.6 157.6h0M276.1 140.4h0M275.6 146.4h0M274.9 150.3h0M275.5 156.3h0M275.1 157.8h0M275.8 158.9h0M275.4 159.6h0M277.1 145.6h0M276.8 147.6h0M277.1 152.9h0M276.7 161.6h0" stroke="#106a70" stroke-width="1.0" stroke-linecap="round" fill="none"/>
<rect x="253.8" y="169.3" width="23.8" height="23.8" fill="#0a0612"/>
<path d="M254.6 170.4h0M254.4 175.8h0M255.1 180.4h0M256.0 169.8h0M256.2 175.5h0M255.7 186.5h0M255.4 191.0h0M257.5 180.8h0M257.1 185.9h0M257.4 187.4h0M257.4 187.8h0M258.5 191.4h0M259.6 184.6h0M259.8 185.5h0M260.2 190.9h0M261.0 170.0h0M261.3 176.8h0M261.7 189.8h0M263.2 180.9h0M262.5 187.3h0M262.8 192.6h0M264.7 170.3h0M263.9 173.1h0M264.1 178.4h0M264.3 184.0h0M265.3 170.9h0M267.0 175.8h0M266.6 178.2h0M266.5 180.0h0M267.1 180.7h0M268.4 169.9h0M268.3 171.6h0M268.3 181.3h0M268.0 191.9h0M270.5 179.0h0M269.5 182.3h0M271.8 171.1h0M271.7 174.4h0M271.1 178.8h0M270.7 188.5h0M272.2 177.9h0M274.2 170.1h0M274.5 180.3h0M274.3 186.8h0M273.5 191.4h0M274.9 176.7h0M275.1 178.8h0M275.9 185.1h0M276.0 190.8h0M276.6 171.6h0M276.5 176.5h0M277.1 186.8h0M277.1 188.1h0M276.6 189.3h0M276.9 192.3h0" stroke="#401a80" stroke-width="1.0" stroke-linecap="round" fill="none"/>
<path d="M254.9 172.3h0M255.0 174.2h0M254.3 178.2h0M255.0 182.3h0M254.3 184.1h0M254.5 185.5h0M254.6 186.2h0M254.3 191.3h0M255.7 170.9h0M255.5 174.0h0M255.4 177.4h0M256.1 177.8h0M255.4 180.1h0M255.5 184.9h0M255.8 188.4h0M255.4 189.7h0M256.1 192.4h0M257.8 170.4h0M257.3 170.9h0M257.6 178.1h0M256.7 183.8h0M258.6 175.4h0M259.0 177.3h0M259.1 178.6h0M258.1 181.8h0M258.2 184.4h0M258.3 189.3h0M260.6 169.9h0M259.5 172.6h0M260.3 174.4h0M260.3 175.7h0M260.5 177.5h0M259.9 182.5h0M260.5 187.2h0M259.8 189.8h0M259.8 192.6h0M261.0 170.9h0M261.0 180.0h0M261.3 181.6h0M261.7 184.2h0M261.2 185.8h0M262.7 173.0h0M262.8 177.6h0M263.3 182.6h0M262.7 187.7h0M263.4 191.5h0M264.8 171.5h0M264.6 176.0h0M264.6 180.1h0M263.9 181.0h0M264.6 185.2h0M264.0 187.0h0M264.4 187.8h0M264.7 189.3h0M265.3 173.8h0M265.7 175.6h0M265.1 178.7h0M265.7 182.1h0M266.1 185.9h0M265.2 186.5h0M266.1 189.9h0M265.1 190.8h0M267.4 169.9h0M266.9 170.9h0M267.2 185.2h0M267.6 189.0h0M266.7 190.9h0M266.6 192.4h0M268.8 172.5h0M268.4 174.7h0M268.6 178.3h0M269.0 182.1h0M268.0 186.4h0M268.9 188.1h0M268.9 189.0h0M269.1 190.9h0M269.8 171.1h0M269.6 173.0h0M270.4 176.7h0M269.9 184.3h0M269.8 188.0h0M271.6 170.3h0M271.4 175.2h0M270.9 177.3h0M271.2 179.2h0M270.7 181.7h0M271.9 182.3h0M270.8 184.3h0M271.9 187.3h0M273.2 171.2h0M273.0 173.3h0M273.3 180.4h0M272.2 182.5h0M273.3 185.3h0M272.8 190.2h0M272.1 190.5h0M274.3 172.3h0M274.1 174.1h0M274.6 178.6h0M274.0 185.5h0M275.5 174.1h0M275.0 181.0h0M275.9 184.4h0M277.0 169.8h0M277.1 173.1h0M276.6 174.5h0M277.1 177.9h0M276.7 180.9h0M276.8 183.7h0" stroke="#8a3ae0" stroke-width="1.0" stroke-linecap="round" fill="none"/>
<path d="M255.1 176.5h0M254.3 189.1h0M254.9 192.3h0M257.4 173.4h0M256.8 175.4h0M256.8 182.4h0M258.7 171.1h0M259.1 174.2h0M259.3 183.0h0M259.2 187.2h0M260.1 188.8h0M261.3 187.1h0M261.2 192.6h0M264.2 173.8h0M264.2 176.7h0M264.0 192.6h0M266.1 169.9h0M265.4 181.3h0M265.3 184.1h0M266.1 192.6h0M267.1 173.8h0M267.4 182.2h0M266.8 187.2h0M267.9 183.8h0M269.9 173.9h0M270.0 179.4h0M269.3 186.4h0M270.1 189.5h0M270.5 192.4h0M271.4 190.0h0M271.4 192.6h0M272.9 180.8h0M272.8 186.5h0M274.5 175.7h0M275.2 169.9h0M275.5 171.5h0M275.1 175.7h0M275.0 188.5h0M275.9 192.5h0M276.5 175.1h0M277.1 182.6h0M276.5 185.2h0" stroke="#3a60e0" stroke-width="1.0" stroke-linecap="round" fill="none"/>
<path d="M254.3 181.5h0M254.3 188.5h0M255.7 172.8h0M255.5 181.4h0M255.4 183.1h0M257.6 176.8h0M256.7 179.3h0M257.1 189.4h0M257.0 190.7h0M257.2 192.6h0M258.4 170.3h0M258.5 172.5h0M258.9 179.5h0M258.5 185.1h0M258.6 188.0h0M258.3 192.6h0M259.8 170.8h0M260.2 178.2h0M260.2 181.2h0M261.5 172.5h0M262.1 173.8h0M261.3 176.1h0M261.2 177.9h0M262.1 182.4h0M261.1 190.6h0M262.5 170.0h0M262.4 171.4h0M263.3 174.3h0M263.3 175.7h0M262.4 178.5h0M263.3 185.6h0M262.4 189.2h0M264.2 182.6h0M264.4 191.2h0M265.3 172.4h0M266.1 176.4h0M265.3 180.2h0M265.4 187.9h0M267.0 172.7h0M267.2 176.7h0M267.3 183.4h0M267.5 187.7h0M268.8 175.3h0M268.4 177.6h0M267.9 185.0h0M270.2 169.8h0M269.9 175.9h0M270.3 181.3h0M269.4 185.4h0M269.5 191.6h0M271.1 172.6h0M271.0 185.1h0M271.0 190.9h0M273.2 170.4h0M273.3 174.6h0M273.0 175.4h0M273.1 176.7h0M272.6 188.4h0M273.1 192.6h0M274.6 177.6h0M273.9 180.9h0M273.9 182.7h0M274.6 184.1h0M274.4 188.8h0M276.1 173.2h0M276.0 179.3h0M275.0 183.0h0M275.9 190.2h0M277.1 179.7h0M277.1 190.6h0" stroke="#d038d8" stroke-width="1.0" stroke-linecap="round" fill="none"/>
<line x1="85.30" y1="196.90" x2="85.30" y2="202.36" stroke="#b482d0" stroke-width="0.697"/>
<rect x="81.20" y="205.30" width="8.20" height="12.60" fill="#7d3f9c" stroke="none" stroke-width="1"/>
<rect x="82.35" y="203.20" width="5.90" height="14.70" fill="#9450b2" stroke="none" stroke-width="1"/>
<path d="M83.66,217.90 V202.05 L85.30,201.10 L86.94,202.05 V217.90Z" fill="#a96fcb"/>
<rect x="84.56" y="202.36" width="1.48" height="15.54" fill="#caa8e4" stroke="none" stroke-width="1"/>
<rect x="82.84" y="204.04" width="0.49" height="13.86" fill="#b98ad6" stroke="none" stroke-width="1"/>
<rect x="87.27" y="204.04" width="0.49" height="13.86" fill="#b98ad6" stroke="none" stroke-width="1"/>
<line x1="121.30" y1="195.00" x2="121.30" y2="200.46" stroke="#b482d0" stroke-width="0.68"/>
<rect x="117.30" y="203.40" width="8.00" height="12.60" fill="#7d3f9c" stroke="none" stroke-width="1"/>
<rect x="118.42" y="201.30" width="5.76" height="14.70" fill="#9450b2" stroke="none" stroke-width="1"/>
<path d="M119.70,216.00 V200.15 L121.30,199.20 L122.90,200.15 V216.00Z" fill="#a96fcb"/>
<rect x="120.58" y="200.46" width="1.44" height="15.54" fill="#caa8e4" stroke="none" stroke-width="1"/>
<rect x="118.90" y="202.14" width="0.48" height="13.86" fill="#b98ad6" stroke="none" stroke-width="1"/>
<rect x="123.22" y="202.14" width="0.48" height="13.86" fill="#b98ad6" stroke="none" stroke-width="1"/>
<rect x="129.21" y="195.50" width="1.98" height="2.67" fill="#2b6288" stroke="none" stroke-width="1"/>
<rect x="127.39" y="197.86" width="5.62" height="5.33" fill="#2b6288" stroke="none" stroke-width="1"/>
<rect x="126.40" y="203.50" width="7.60" height="12.50" fill="#2b6288" stroke="none" stroke-width="1"/>
<rect x="128.15" y="199.19" width="0.91" height="3.07" fill="#62aad6" stroke="none" stroke-width="1" opacity=".7"/>
<rect x="129.67" y="199.19" width="0.91" height="3.07" fill="#62aad6" stroke="none" stroke-width="1" opacity=".7"/>
<rect x="131.19" y="199.19" width="0.91" height="3.07" fill="#62aad6" stroke="none" stroke-width="1" opacity=".7"/>
<rect x="127.39" y="204.46" width="1.29" height="0.93" fill="#62aad6" stroke="none" stroke-width="1"/>
<rect x="129.52" y="204.46" width="1.29" height="0.93" fill="#62aad6" stroke="none" stroke-width="1"/>
<rect x="131.64" y="204.46" width="1.29" height="0.93" fill="#62aad6" stroke="none" stroke-width="1"/>
<rect x="127.39" y="206.32" width="1.29" height="0.93" fill="#62aad6" stroke="none" stroke-width="1"/>
<rect x="129.52" y="206.32" width="1.29" height="0.93" fill="#62aad6" stroke="none" stroke-width="1"/>
<rect x="131.64" y="206.32" width="1.29" height="0.93" fill="#62aad6" stroke="none" stroke-width="1"/>
<rect x="127.39" y="208.18" width="1.29" height="0.93" fill="#62aad6" stroke="none" stroke-width="1"/>
<rect x="129.52" y="208.18" width="1.29" height="0.93" fill="#62aad6" stroke="none" stroke-width="1"/>
<rect x="131.64" y="208.18" width="1.29" height="0.93" fill="#62aad6" stroke="none" stroke-width="1"/>
<rect x="127.39" y="210.04" width="1.29" height="0.93" fill="#62aad6" stroke="none" stroke-width="1"/>
<rect x="129.52" y="210.04" width="1.29" height="0.93" fill="#62aad6" stroke="none" stroke-width="1"/>
<rect x="131.64" y="210.04" width="1.29" height="0.93" fill="#62aad6" stroke="none" stroke-width="1"/>
<rect x="127.39" y="211.89" width="1.29" height="0.93" fill="#62aad6" stroke="none" stroke-width="1"/>
<rect x="129.52" y="211.89" width="1.29" height="0.93" fill="#62aad6" stroke="none" stroke-width="1"/>
<rect x="131.64" y="211.89" width="1.29" height="0.93" fill="#62aad6" stroke="none" stroke-width="1"/>
<rect x="127.39" y="213.75" width="1.29" height="0.93" fill="#62aad6" stroke="none" stroke-width="1"/>
<rect x="129.52" y="213.75" width="1.29" height="0.93" fill="#62aad6" stroke="none" stroke-width="1"/>
<rect x="131.64" y="213.75" width="1.29" height="0.93" fill="#62aad6" stroke="none" stroke-width="1"/>
<rect x="125.64" y="215.50" width="9.12" height="0.90" fill="#1f4f6c" stroke="none" stroke-width="1"/>
<line x1="139.20" y1="196.20" x2="139.20" y2="199.17" stroke="#cf5a86" stroke-width="0.5"/>
<path d="M135.75,201.35 Q139.20,195.80 142.65,201.35Z" fill="#c8456f"/>
<rect x="135.75" y="201.25" width="6.90" height="14.75" fill="#cc4a76" stroke="none" stroke-width="1"/>
<rect x="136.58" y="202.41" width="5.24" height="0.80" fill="#eb9ab6" stroke="none" stroke-width="1"/>
<rect x="136.58" y="204.31" width="5.24" height="0.80" fill="#eb9ab6" stroke="none" stroke-width="1"/>
<rect x="136.58" y="206.21" width="5.24" height="0.80" fill="#eb9ab6" stroke="none" stroke-width="1"/>
<rect x="136.58" y="208.11" width="5.24" height="0.80" fill="#eb9ab6" stroke="none" stroke-width="1"/>
<rect x="136.58" y="210.01" width="5.24" height="0.80" fill="#eb9ab6" stroke="none" stroke-width="1"/>
<rect x="136.58" y="211.91" width="5.24" height="0.80" fill="#eb9ab6" stroke="none" stroke-width="1"/>
<rect x="136.58" y="213.81" width="5.24" height="0.80" fill="#eb9ab6" stroke="none" stroke-width="1"/>
<line x1="139.20" y1="201.35" x2="139.20" y2="216.00" stroke="#cc4a76" stroke-width="0.5"/>
<rect x="135.34" y="215.50" width="7.73" height="0.90" fill="#b83a64" stroke="none" stroke-width="1"/>
<path d="M144.30,216.00 V198.80 L147.45,196.00 V216.00Z" fill="#5a3a2a"/>
<rect x="147.45" y="200.00" width="3.85" height="16.00" fill="#8a6248" stroke="none" stroke-width="1"/>
<rect x="147.45" y="200.85" width="3.85" height="0.96" fill="#e8d8c0" stroke="none" stroke-width="1"/>
<rect x="147.45" y="202.99" width="3.85" height="0.96" fill="#e8d8c0" stroke="none" stroke-width="1"/>
<rect x="147.45" y="205.12" width="3.85" height="0.96" fill="#e8d8c0" stroke="none" stroke-width="1"/>
<rect x="147.45" y="207.25" width="3.85" height="0.96" fill="#e8d8c0" stroke="none" stroke-width="1"/>
<rect x="147.45" y="209.39" width="3.85" height="0.96" fill="#e8d8c0" stroke="none" stroke-width="1"/>
<rect x="147.45" y="211.52" width="3.85" height="0.96" fill="#e8d8c0" stroke="none" stroke-width="1"/>
<rect x="147.45" y="213.65" width="3.85" height="0.96" fill="#e8d8c0" stroke="none" stroke-width="1"/>
<rect x="221.01" y="195.50" width="1.98" height="2.67" fill="#2b6288" stroke="none" stroke-width="1"/>
<rect x="219.19" y="197.86" width="5.62" height="5.33" fill="#2b6288" stroke="none" stroke-width="1"/>
<rect x="218.20" y="203.50" width="7.60" height="12.50" fill="#2b6288" stroke="none" stroke-width="1"/>
<rect x="219.95" y="199.19" width="0.91" height="3.07" fill="#62aad6" stroke="none" stroke-width="1" opacity=".7"/>
<rect x="221.47" y="199.19" width="0.91" height="3.07" fill="#62aad6" stroke="none" stroke-width="1" opacity=".7"/>
<rect x="222.99" y="199.19" width="0.91" height="3.07" fill="#62aad6" stroke="none" stroke-width="1" opacity=".7"/>
<rect x="219.19" y="204.46" width="1.29" height="0.93" fill="#62aad6" stroke="none" stroke-width="1"/>
<rect x="221.32" y="204.46" width="1.29" height="0.93" fill="#62aad6" stroke="none" stroke-width="1"/>
<rect x="223.44" y="204.46" width="1.29" height="0.93" fill="#62aad6" stroke="none" stroke-width="1"/>
<rect x="219.19" y="206.32" width="1.29" height="0.93" fill="#62aad6" stroke="none" stroke-width="1"/>
<rect x="221.32" y="206.32" width="1.29" height="0.93" fill="#62aad6" stroke="none" stroke-width="1"/>
<rect x="223.44" y="206.32" width="1.29" height="0.93" fill="#62aad6" stroke="none" stroke-width="1"/>
<rect x="219.19" y="208.18" width="1.29" height="0.93" fill="#62aad6" stroke="none" stroke-width="1"/>
<rect x="221.32" y="208.18" width="1.29" height="0.93" fill="#62aad6" stroke="none" stroke-width="1"/>
<rect x="223.44" y="208.18" width="1.29" height="0.93" fill="#62aad6" stroke="none" stroke-width="1"/>
<rect x="219.19" y="210.04" width="1.29" height="0.93" fill="#62aad6" stroke="none" stroke-width="1"/>
<rect x="221.32" y="210.04" width="1.29" height="0.93" fill="#62aad6" stroke="none" stroke-width="1"/>
<rect x="223.44" y="210.04" width="1.29" height="0.93" fill="#62aad6" stroke="none" stroke-width="1"/>
<rect x="219.19" y="211.89" width="1.29" height="0.93" fill="#62aad6" stroke="none" stroke-width="1"/>
<rect x="221.32" y="211.89" width="1.29" height="0.93" fill="#62aad6" stroke="none" stroke-width="1"/>
<rect x="223.44" y="211.89" width="1.29" height="0.93" fill="#62aad6" stroke="none" stroke-width="1"/>
<rect x="219.19" y="213.75" width="1.29" height="0.93" fill="#62aad6" stroke="none" stroke-width="1"/>
<rect x="221.32" y="213.75" width="1.29" height="0.93" fill="#62aad6" stroke="none" stroke-width="1"/>
<rect x="223.44" y="213.75" width="1.29" height="0.93" fill="#62aad6" stroke="none" stroke-width="1"/>
<rect x="217.44" y="215.50" width="9.12" height="0.90" fill="#1f4f6c" stroke="none" stroke-width="1"/>
<line x1="230.10" y1="196.20" x2="230.10" y2="199.17" stroke="#cf5a86" stroke-width="0.5"/>
<path d="M226.65,201.35 Q230.10,195.80 233.55,201.35Z" fill="#c8456f"/>
<rect x="226.65" y="201.25" width="6.90" height="14.75" fill="#cc4a76" stroke="none" stroke-width="1"/>
<rect x="227.48" y="202.41" width="5.24" height="0.80" fill="#eb9ab6" stroke="none" stroke-width="1"/>
<rect x="227.48" y="204.31" width="5.24" height="0.80" fill="#eb9ab6" stroke="none" stroke-width="1"/>
<rect x="227.48" y="206.21" width="5.24" height="0.80" fill="#eb9ab6" stroke="none" stroke-width="1"/>
<rect x="227.48" y="208.11" width="5.24" height="0.80" fill="#eb9ab6" stroke="none" stroke-width="1"/>
<rect x="227.48" y="210.01" width="5.24" height="0.80" fill="#eb9ab6" stroke="none" stroke-width="1"/>
<rect x="227.48" y="211.91" width="5.24" height="0.80" fill="#eb9ab6" stroke="none" stroke-width="1"/>
<rect x="227.48" y="213.81" width="5.24" height="0.80" fill="#eb9ab6" stroke="none" stroke-width="1"/>
<line x1="230.10" y1="201.35" x2="230.10" y2="216.00" stroke="#cc4a76" stroke-width="0.5"/>
<rect x="226.24" y="215.50" width="7.73" height="0.90" fill="#b83a64" stroke="none" stroke-width="1"/>
<text x="83.5" y="224.3" font-size="6.5" text-anchor="middle" fill="#1c1c1c" textLength="43" lengthAdjust="spacingAndGlyphs">Institution 1(2×)</text>
<text x="133.9" y="224.1" font-size="6.55" text-anchor="middle" fill="#1c1c1c">Institution</text>
<text x="133.9" y="231.5" font-size="6.4" text-anchor="middle" fill="#1c1c1c" textLength="46" lengthAdjust="spacingAndGlyphs">1(2×), 2(1×), 3(1×),</text>
<text x="133.9" y="238.7" font-size="6.4" text-anchor="middle" fill="#1c1c1c">4 (platform 1)</text>
<text x="224.1" y="224.1" font-size="6.55" text-anchor="middle" fill="#1c1c1c">Institution</text>
<text x="224.4" y="231.5" font-size="6.4" text-anchor="middle" fill="#1c1c1c" textLength="28.2" lengthAdjust="spacingAndGlyphs">2(1×), 3(1×)</text>
<text x="383.1" y="34.3" font-size="7.55" fill="#1c1c1c">Analysis and evaluation</text>
<text x="301.5" y="46" font-size="7.55" fill="#1c1c1c">(1) Technical metrics</text>
<text x="301.8" y="156.9" font-size="7.65" fill="#1c1c1c" textLength="89">(2) Reproducibility metrics</text>
<line x1="308.80" y1="58.50" x2="308.80" y2="132.40" stroke="#9a9a9a" stroke-width="0.7"/>
<line x1="308.50" y1="132.20" x2="377.70" y2="132.20" stroke="#9a9a9a" stroke-width="0.7"/>
<line x1="307.30" y1="65.40" x2="308.80" y2="65.40" stroke="#555" stroke-width="0.5"/>
<text x="305.3" y="66.80000000000001" font-size="3.9" text-anchor="end" fill="#333" stroke="#333" stroke-width=".12">25</text>
<line x1="307.30" y1="79.40" x2="308.80" y2="79.40" stroke="#555" stroke-width="0.5"/>
<text x="305.3" y="80.80000000000001" font-size="3.9" text-anchor="end" fill="#333" stroke="#333" stroke-width=".12">20</text>
<line x1="307.30" y1="93.40" x2="308.80" y2="93.40" stroke="#555" stroke-width="0.5"/>
<text x="305.3" y="94.80000000000001" font-size="3.9" text-anchor="end" fill="#333" stroke="#333" stroke-width=".12">15</text>
<line x1="307.30" y1="107.50" x2="308.80" y2="107.50" stroke="#555" stroke-width="0.5"/>
<text x="305.3" y="108.9" font-size="3.9" text-anchor="end" fill="#333" stroke="#333" stroke-width=".12">10</text>
<line x1="307.30" y1="121.50" x2="308.80" y2="121.50" stroke="#555" stroke-width="0.5"/>
<text x="305.3" y="122.9" font-size="3.9" text-anchor="end" fill="#333" stroke="#333" stroke-width=".12">5</text>
<text x="305.3" y="134.2" font-size="3.9" text-anchor="end" fill="#333" stroke="#333" stroke-width=".12">0</text>
<line x1="320.95" y1="65.20" x2="320.95" y2="121.40" stroke="#8a8a8a" stroke-width="0.7"/>
<rect x="315.00" y="82.00" width="11.90" height="23.40" fill="#bcd5f2" stroke="#9abfe8" stroke-width="0.6"/>
<line x1="315.00" y1="97.30" x2="326.90" y2="97.30" stroke="#4a86d8" stroke-width="0.9"/>
<line x1="320.95" y1="132.00" x2="320.95" y2="133.40" stroke="#555" stroke-width="0.5"/>
<line x1="336.45" y1="79.80" x2="336.45" y2="117.30" stroke="#8a8a8a" stroke-width="0.7"/>
<rect x="331.00" y="95.40" width="10.90" height="19.00" fill="#abacda" stroke="#8c8dcb" stroke-width="0.6"/>
<line x1="331.00" y1="101.30" x2="341.90" y2="101.30" stroke="#6a60b2" stroke-width="0.9"/>
<line x1="336.45" y1="132.00" x2="336.45" y2="133.40" stroke="#555" stroke-width="0.5"/>
<line x1="352.30" y1="84.20" x2="352.30" y2="105.40" stroke="#8a8a8a" stroke-width="0.7"/>
<rect x="346.70" y="91.30" width="11.20" height="9.30" fill="#a9d9cb" stroke="#8cc6b4" stroke-width="0.6"/>
<line x1="346.70" y1="98.40" x2="357.90" y2="98.40" stroke="#86b8a8" stroke-width="0.9"/>
<line x1="352.30" y1="132.00" x2="352.30" y2="133.40" stroke="#555" stroke-width="0.5"/>
<line x1="367.80" y1="80.40" x2="367.80" y2="120.60" stroke="#8a8a8a" stroke-width="0.7"/>
<rect x="362.30" y="86.30" width="11.00" height="27.50" fill="#a2e9e2" stroke="#6ed6ce" stroke-width="0.6"/>
<line x1="362.30" y1="91.30" x2="373.30" y2="91.30" stroke="#22b2aa" stroke-width="0.9"/>
<line x1="367.80" y1="132.00" x2="367.80" y2="133.40" stroke="#555" stroke-width="0.5"/>
<circle cx="352.30" cy="75.20" r="0.60" fill="#a8a8a8" stroke="none" stroke-width="1"/>
<circle cx="352.30" cy="79.40" r="0.60" fill="#a8a8a8" stroke="none" stroke-width="1"/>
<text x="320.2" y="139" font-size="4.0" text-anchor="middle" fill="#333" stroke="#333" stroke-width=".12">Organ1</text>
<text x="335.7" y="139" font-size="4.0" text-anchor="middle" fill="#333" stroke="#333" stroke-width=".12">Organ2</text>
<text x="351.5" y="139" font-size="4.0" text-anchor="middle" fill="#333" stroke="#333" stroke-width=".12">Organ3</text>
<text x="367.0" y="139" font-size="4.0" text-anchor="middle" fill="#333" stroke="#333" stroke-width=".12">Organ4</text>
<text x="344.3" y="144.9" font-size="4.7" text-anchor="middle" fill="#333" stroke="#333" stroke-width=".12">X axis</text>
<text x="299.8" y="96.8" font-size="5.0" text-anchor="middle" fill="#333" transform="rotate(-90 299.8 96.8)" stroke="#333" stroke-width=".12">y axis</text>
<rect x="391.00" y="56.60" width="154.60" height="82.00" fill="none" stroke="#6583cd" stroke-width="1.35" stroke-dasharray="1.2 1.35"/>
<circle cx="431.60" cy="102.00" r="34.50" fill="#a9b1e1" stroke="#6c72c6" stroke-width="0.8"/>
<circle cx="434.10" cy="96.80" r="21.00" fill="#9590cd" stroke="#837dc2" stroke-width="0.5"/>
<g opacity=".9"><circle cx="424.7" cy="109.8" r=".42" fill="#7a9860"/><circle cx="416.5" cy="77.7" r=".42" fill="#d89050"/><circle cx="425.2" cy="100.7" r=".42" fill="#c87a3a"/><circle cx="434.2" cy="111.3" r=".42" fill="#7a9860"/><circle cx="439.0" cy="86.2" r=".42" fill="#7a9860"/><circle cx="422.2" cy="120.5" r=".42" fill="#c87a3a"/><circle cx="433.1" cy="115.6" r=".42" fill="#8a8a90"/><circle cx="418.5" cy="89.8" r=".42" fill="#c87a3a"/><circle cx="423.5" cy="127.7" r=".42" fill="#8a8a90"/><circle cx="408.8" cy="123.8" r=".42" fill="#c87a3a"/><circle cx="424.7" cy="127.4" r=".42" fill="#8a8a90"/><circle cx="426.7" cy="123.7" r=".42" fill="#c07038"/><circle cx="451.6" cy="100.5" r=".42" fill="#d89050"/><circle cx="444.2" cy="126.0" r=".42" fill="#7a9860"/><circle cx="437.5" cy="109.9" r=".42" fill="#7a9860"/><circle cx="420.0" cy="90.7" r=".42" fill="#8a8a90"/><circle cx="447.7" cy="106.3" r=".42" fill="#c07038"/><circle cx="416.1" cy="85.2" r=".42" fill="#8a8a90"/><circle cx="442.0" cy="112.6" r=".42" fill="#8a8a90"/><circle cx="439.0" cy="128.9" r=".42" fill="#8a8a90"/><circle cx="456.7" cy="120.3" r=".42" fill="#7a9860"/><circle cx="408.3" cy="116.6" r=".42" fill="#c87a3a"/><circle cx="453.5" cy="105.5" r=".42" fill="#d89050"/><circle cx="460.9" cy="91.8" r=".42" fill="#c87a3a"/><circle cx="435.4" cy="96.5" r=".42" fill="#7a9860"/><circle cx="438.2" cy="86.7" r=".42" fill="#7a9860"/><circle cx="430.8" cy="108.4" r=".42" fill="#c07038"/><circle cx="430.7" cy="87.5" r=".42" fill="#c87a3a"/><circle cx="419.2" cy="81.2" r=".42" fill="#8a8a90"/><circle cx="445.7" cy="87.5" r=".42" fill="#8a8a90"/><circle cx="430.0" cy="111.1" r=".42" fill="#c87a3a"/><circle cx="437.9" cy="109.3" r=".42" fill="#c07038"/><circle cx="446.2" cy="116.4" r=".42" fill="#8a8a90"/><circle cx="408.5" cy="86.2" r=".42" fill="#d89050"/><circle cx="447.3" cy="123.1" r=".42" fill="#d89050"/><circle cx="410.0" cy="124.6" r=".42" fill="#c87a3a"/><circle cx="436.6" cy="111.8" r=".42" fill="#7a9860"/><circle cx="426.8" cy="123.1" r=".42" fill="#c87a3a"/><circle cx="449.0" cy="89.9" r=".42" fill="#c07038"/><circle cx="426.9" cy="81.0" r=".42" fill="#c87a3a"/><circle cx="457.2" cy="91.2" r=".42" fill="#c87a3a"/><circle cx="456.0" cy="90.2" r=".42" fill="#c07038"/><circle cx="446.8" cy="84.4" r=".42" fill="#7a9860"/><circle cx="428.3" cy="132.1" r=".42" fill="#8a8a90"/><circle cx="403.6" cy="113.4" r=".42" fill="#c07038"/><circle cx="450.5" cy="76.9" r=".42" fill="#d89050"/><circle cx="431.5" cy="133.4" r=".42" fill="#c87a3a"/><circle cx="440.4" cy="107.7" r=".42" fill="#8a8a90"/><circle cx="425.5" cy="93.2" r=".42" fill="#c07038"/><circle cx="404.6" cy="90.0" r=".42" fill="#c87a3a"/><circle cx="443.0" cy="110.4" r=".42" fill="#7a9860"/><circle cx="419.1" cy="83.1" r=".42" fill="#c87a3a"/><circle cx="410.5" cy="113.7" r=".42" fill="#d89050"/><circle cx="437.1" cy="82.5" r=".42" fill="#c87a3a"/><circle cx="443.5" cy="115.6" r=".42" fill="#d89050"/><circle cx="412.1" cy="114.8" r=".42" fill="#c87a3a"/><circle cx="430.0" cy="113.1" r=".42" fill="#c87a3a"/><circle cx="437.1" cy="85.4" r=".42" fill="#c07038"/><circle cx="420.1" cy="84.6" r=".42" fill="#7a9860"/><circle cx="425.4" cy="131.7" r=".42" fill="#7a9860"/><circle cx="410.9" cy="81.8" r=".42" fill="#c07038"/><circle cx="434.7" cy="103.0" r=".42" fill="#c07038"/><circle cx="410.2" cy="122.7" r=".42" fill="#7a9860"/><circle cx="459.6" cy="96.4" r=".42" fill="#c07038"/><circle cx="427.6" cy="96.6" r=".42" fill="#c87a3a"/><circle cx="448.7" cy="112.6" r=".42" fill="#c87a3a"/><circle cx="435.6" cy="94.3" r=".42" fill="#d89050"/><circle cx="432.7" cy="120.5" r=".42" fill="#d89050"/><circle cx="429.2" cy="70.6" r=".42" fill="#c87a3a"/><circle cx="449.3" cy="124.0" r=".42" fill="#c87a3a"/><circle cx="435.9" cy="124.1" r=".42" fill="#c07038"/><circle cx="429.5" cy="125.7" r=".42" fill="#7a9860"/><circle cx="428.8" cy="106.1" r=".42" fill="#c87a3a"/><circle cx="425.0" cy="77.2" r=".42" fill="#d89050"/><circle cx="440.8" cy="129.9" r=".42" fill="#7a9860"/><circle cx="441.5" cy="87.8" r=".42" fill="#c87a3a"/><circle cx="454.0" cy="116.7" r=".42" fill="#d89050"/><circle cx="446.7" cy="108.0" r=".42" fill="#c87a3a"/><circle cx="446.0" cy="100.2" r=".42" fill="#c87a3a"/><circle cx="433.6" cy="117.1" r=".42" fill="#7a9860"/><circle cx="435.7" cy="111.3" r=".42" fill="#8a8a90"/><circle cx="410.9" cy="93.6" r=".42" fill="#c07038"/><circle cx="422.3" cy="85.1" r=".42" fill="#7a9860"/><circle cx="441.0" cy="113.9" r=".42" fill="#d89050"/><circle cx="447.7" cy="109.0" r=".42" fill="#c87a3a"/><circle cx="421.5" cy="117.0" r=".42" fill="#c87a3a"/><circle cx="432.0" cy="100.0" r=".42" fill="#d89050"/><circle cx="430.5" cy="72.8" r=".42" fill="#c87a3a"/><circle cx="429.2" cy="75.5" r=".42" fill="#c87a3a"/><circle cx="402.8" cy="105.7" r=".42" fill="#c87a3a"/><circle cx="429.7" cy="99.9" r=".42" fill="#c07038"/><circle cx="434.3" cy="119.9" r=".42" fill="#c87a3a"/><circle cx="432.3" cy="108.4" r=".42" fill="#8a8a90"/><circle cx="440.4" cy="106.6" r=".42" fill="#c87a3a"/><circle cx="402.2" cy="104.5" r=".42" fill="#c87a3a"/><circle cx="443.6" cy="96.6" r=".42" fill="#7a9860"/><circle cx="405.4" cy="94.9" r=".42" fill="#c07038"/><circle cx="438.3" cy="112.8" r=".42" fill="#d89050"/><circle cx="421.0" cy="111.7" r=".42" fill="#d89050"/><circle cx="420.0" cy="75.0" r=".42" fill="#d89050"/><circle cx="420.1" cy="115.9" r=".42" fill="#d89050"/><circle cx="430.0" cy="79.8" r=".42" fill="#c07038"/><circle cx="442.6" cy="82.8" r=".42" fill="#7a9860"/><circle cx="401.4" cy="111.1" r=".42" fill="#c07038"/><circle cx="417.4" cy="88.6" r=".42" fill="#c87a3a"/><circle cx="422.8" cy="130.6" r=".42" fill="#8a8a90"/><circle cx="454.5" cy="118.7" r=".42" fill="#c07038"/><circle cx="435.3" cy="115.1" r=".42" fill="#8a8a90"/><circle cx="444.3" cy="109.8" r=".42" fill="#7a9860"/><circle cx="458.3" cy="94.9" r=".42" fill="#d89050"/><circle cx="433.1" cy="126.3" r=".42" fill="#d89050"/><circle cx="441.2" cy="73.0" r=".42" fill="#d89050"/><circle cx="436.4" cy="128.3" r=".42" fill="#8a8a90"/><circle cx="424.9" cy="123.2" r=".42" fill="#c07038"/><circle cx="407.3" cy="108.5" r=".42" fill="#d89050"/><circle cx="427.9" cy="120.5" r=".42" fill="#c87a3a"/><circle cx="434.5" cy="120.0" r=".42" fill="#7a9860"/><circle cx="407.9" cy="96.8" r=".42" fill="#c87a3a"/><circle cx="449.6" cy="115.1" r=".42" fill="#c87a3a"/><circle cx="444.7" cy="120.1" r=".42" fill="#c07038"/><circle cx="429.4" cy="112.1" r=".42" fill="#c87a3a"/><circle cx="442.7" cy="98.7" r=".42" fill="#c07038"/><circle cx="439.9" cy="101.2" r=".42" fill="#8a8a90"/><circle cx="437.8" cy="131.0" r=".42" fill="#d89050"/><circle cx="456.3" cy="103.8" r=".42" fill="#c87a3a"/><circle cx="442.5" cy="91.5" r=".42" fill="#c87a3a"/><circle cx="446.7" cy="112.1" r=".42" fill="#8a8a90"/><circle cx="437.3" cy="106.5" r=".42" fill="#c87a3a"/><circle cx="420.2" cy="73.1" r=".42" fill="#c07038"/><circle cx="408.7" cy="92.6" r=".42" fill="#7a9860"/><circle cx="441.4" cy="104.3" r=".42" fill="#c87a3a"/><circle cx="440.7" cy="107.0" r=".42" fill="#8a8a90"/><circle cx="405.2" cy="106.5" r=".42" fill="#7a9860"/><circle cx="430.0" cy="125.1" r=".42" fill="#8a8a90"/><circle cx="439.8" cy="96.9" r=".42" fill="#c07038"/><circle cx="430.9" cy="131.0" r=".42" fill="#d89050"/><circle cx="421.4" cy="80.0" r=".42" fill="#c07038"/><circle cx="425.4" cy="82.4" r=".42" fill="#d89050"/><circle cx="426.2" cy="98.0" r=".42" fill="#c87a3a"/><circle cx="438.5" cy="84.8" r=".42" fill="#7a9860"/><circle cx="430.8" cy="99.4" r=".42" fill="#7a9860"/><circle cx="434.1" cy="113.7" r=".42" fill="#7a9860"/><circle cx="454.8" cy="115.0" r=".42" fill="#7a9860"/><circle cx="431.0" cy="119.3" r=".42" fill="#7a9860"/><circle cx="433.3" cy="114.5" r=".42" fill="#c87a3a"/><circle cx="439.3" cy="108.1" r=".42" fill="#d89050"/><circle cx="442.4" cy="126.2" r=".42" fill="#d89050"/><circle cx="442.6" cy="83.4" r=".42" fill="#7a9860"/><circle cx="430.7" cy="124.6" r=".42" fill="#d89050"/><circle cx="431.0" cy="122.3" r=".42" fill="#c87a3a"/><circle cx="439.7" cy="104.8" r=".42" fill="#c87a3a"/><circle cx="445.9" cy="90.9" r=".42" fill="#7a9860"/><circle cx="416.2" cy="81.4" r=".42" fill="#c87a3a"/><circle cx="410.7" cy="124.3" r=".42" fill="#d89050"/><circle cx="439.6" cy="118.6" r=".42" fill="#c87a3a"/><circle cx="438.9" cy="104.9" r=".42" fill="#c87a3a"/><circle cx="426.1" cy="108.2" r=".42" fill="#8a8a90"/><circle cx="437.9" cy="124.2" r=".42" fill="#8a8a90"/><circle cx="451.0" cy="124.7" r=".42" fill="#c87a3a"/><circle cx="437.5" cy="72.1" r=".42" fill="#d89050"/><circle cx="440.7" cy="107.5" r=".42" fill="#c07038"/><circle cx="434.6" cy="131.0" r=".42" fill="#c07038"/><circle cx="431.9" cy="92.8" r=".42" fill="#8a8a90"/><circle cx="431.4" cy="116.5" r=".42" fill="#c87a3a"/><circle cx="452.6" cy="97.7" r=".42" fill="#8a8a90"/><circle cx="412.5" cy="110.1" r=".42" fill="#7a9860"/><circle cx="443.6" cy="79.3" r=".42" fill="#c87a3a"/><circle cx="434.4" cy="127.1" r=".42" fill="#c87a3a"/><circle cx="440.2" cy="99.0" r=".42" fill="#c87a3a"/><circle cx="413.1" cy="90.8" r=".42" fill="#8a8a90"/><circle cx="435.2" cy="102.7" r=".42" fill="#c87a3a"/><circle cx="420.5" cy="99.9" r=".42" fill="#7a9860"/><circle cx="425.6" cy="109.9" r=".42" fill="#7a9860"/><circle cx="445.0" cy="119.2" r=".42" fill="#7a9860"/><circle cx="433.8" cy="109.7" r=".42" fill="#c07038"/><circle cx="440.1" cy="97.7" r=".42" fill="#c87a3a"/><circle cx="428.5" cy="124.5" r=".42" fill="#d89050"/><circle cx="445.1" cy="120.7" r=".42" fill="#8a8a90"/><circle cx="454.5" cy="105.1" r=".42" fill="#8a8a90"/><circle cx="435.5" cy="91.3" r=".42" fill="#c87a3a"/><circle cx="442.8" cy="102.5" r=".42" fill="#c87a3a"/><circle cx="451.6" cy="111.8" r=".42" fill="#c07038"/><circle cx="410.5" cy="92.9" r=".42" fill="#d89050"/><circle cx="439.8" cy="103.3" r=".42" fill="#d89050"/><circle cx="404.4" cy="106.0" r=".42" fill="#7a9860"/><circle cx="411.5" cy="83.3" r=".42" fill="#d89050"/><circle cx="442.4" cy="121.6" r=".42" fill="#d89050"/><circle cx="406.4" cy="94.8" r=".42" fill="#c87a3a"/><circle cx="428.4" cy="81.8" r=".42" fill="#c07038"/><circle cx="453.7" cy="86.4" r=".42" fill="#c87a3a"/><circle cx="427.8" cy="102.6" r=".42" fill="#8a8a90"/><circle cx="431.9" cy="77.9" r=".42" fill="#7a9860"/><circle cx="435.9" cy="76.3" r=".42" fill="#8a8a90"/><circle cx="437.5" cy="129.9" r=".42" fill="#8a8a90"/><circle cx="437.2" cy="76.4" r=".42" fill="#d89050"/><circle cx="442.8" cy="82.0" r=".42" fill="#d89050"/><circle cx="412.4" cy="125.2" r=".42" fill="#c87a3a"/><circle cx="437.3" cy="119.6" r=".42" fill="#8a8a90"/><circle cx="434.3" cy="119.7" r=".42" fill="#d89050"/><circle cx="418.2" cy="82.7" r=".42" fill="#d89050"/><circle cx="440.3" cy="115.3" r=".42" fill="#7a9860"/><circle cx="462.3" cy="109.5" r=".42" fill="#c07038"/><circle cx="444.1" cy="99.7" r=".42" fill="#8a8a90"/><circle cx="428.5" cy="91.7" r=".42" fill="#c87a3a"/><circle cx="408.8" cy="87.3" r=".42" fill="#7a9860"/><circle cx="426.5" cy="76.3" r=".42" fill="#c87a3a"/><circle cx="462.7" cy="100.5" r=".42" fill="#8a8a90"/><circle cx="435.4" cy="82.6" r=".42" fill="#c87a3a"/><circle cx="406.7" cy="90.3" r=".42" fill="#c07038"/><circle cx="410.2" cy="90.1" r=".42" fill="#c87a3a"/><circle cx="428.9" cy="129.9" r=".42" fill="#7a9860"/><circle cx="412.4" cy="78.6" r=".42" fill="#c87a3a"/><circle cx="448.8" cy="95.0" r=".42" fill="#c07038"/><circle cx="444.7" cy="128.6" r=".42" fill="#d89050"/><circle cx="408.5" cy="113.4" r=".42" fill="#8a8a90"/><circle cx="436.6" cy="115.0" r=".42" fill="#7a9860"/><circle cx="444.5" cy="106.0" r=".42" fill="#7a9860"/><circle cx="431.5" cy="107.0" r=".42" fill="#c87a3a"/><circle cx="411.9" cy="120.2" r=".42" fill="#7a9860"/><circle cx="420.5" cy="130.5" r=".42" fill="#c87a3a"/><circle cx="434.5" cy="97.5" r=".42" fill="#c87a3a"/><circle cx="414.9" cy="79.6" r=".42" fill="#c87a3a"/><circle cx="434.5" cy="115.4" r=".42" fill="#c87a3a"/><circle cx="411.4" cy="113.2" r=".42" fill="#7a9860"/><circle cx="428.4" cy="107.1" r=".42" fill="#7a9860"/><circle cx="423.9" cy="104.0" r=".42" fill="#8a8a90"/><circle cx="404.3" cy="94.1" r=".42" fill="#8a8a90"/><circle cx="433.0" cy="81.4" r=".42" fill="#8a8a90"/><circle cx="432.8" cy="129.2" r=".42" fill="#c07038"/><circle cx="441.3" cy="108.5" r=".42" fill="#8a8a90"/><circle cx="443.8" cy="103.9" r=".42" fill="#c87a3a"/><circle cx="437.6" cy="84.6" r=".42" fill="#d89050"/><circle cx="448.4" cy="118.7" r=".42" fill="#d89050"/><circle cx="424.6" cy="89.6" r=".42" fill="#d89050"/><circle cx="442.9" cy="103.2" r=".42" fill="#7a9860"/><circle cx="440.1" cy="75.2" r=".42" fill="#8a8a90"/><circle cx="426.4" cy="103.4" r=".42" fill="#d89050"/><circle cx="443.0" cy="97.7" r=".42" fill="#c07038"/><circle cx="434.9" cy="128.2" r=".42" fill="#c87a3a"/><circle cx="423.3" cy="103.3" r=".42" fill="#7a9860"/><circle cx="461.4" cy="91.8" r=".42" fill="#c07038"/><circle cx="419.4" cy="104.2" r=".42" fill="#d89050"/><circle cx="439.8" cy="112.0" r=".42" fill="#c87a3a"/><circle cx="428.7" cy="112.0" r=".42" fill="#d89050"/><circle cx="424.6" cy="117.7" r=".42" fill="#c87a3a"/><circle cx="437.3" cy="133.2" r=".42" fill="#8a8a90"/><circle cx="403.6" cy="107.3" r=".42" fill="#8a8a90"/><circle cx="433.4" cy="111.6" r=".42" fill="#c87a3a"/><circle cx="435.2" cy="100.4" r=".42" fill="#c87a3a"/><circle cx="409.0" cy="112.0" r=".42" fill="#7a9860"/><circle cx="433.7" cy="128.8" r=".42" fill="#c07038"/><circle cx="422.9" cy="91.5" r=".42" fill="#d89050"/><circle cx="426.8" cy="85.9" r=".42" fill="#c87a3a"/><circle cx="402.8" cy="92.9" r=".42" fill="#8a8a90"/><circle cx="451.0" cy="87.0" r=".42" fill="#7a9860"/><circle cx="423.4" cy="82.3" r=".42" fill="#c87a3a"/><circle cx="435.5" cy="107.4" r=".42" fill="#c87a3a"/><circle cx="423.1" cy="116.3" r=".42" fill="#c87a3a"/><circle cx="442.4" cy="119.2" r=".42" fill="#c87a3a"/><circle cx="451.9" cy="80.3" r=".42" fill="#c87a3a"/><circle cx="452.2" cy="80.0" r=".42" fill="#c87a3a"/><circle cx="440.0" cy="122.3" r=".42" fill="#7a9860"/><circle cx="431.7" cy="131.6" r=".42" fill="#7a9860"/><circle cx="401.3" cy="110.6" r=".42" fill="#7a9860"/><circle cx="408.3" cy="95.5" r=".42" fill="#c07038"/><circle cx="409.8" cy="80.9" r=".42" fill="#d89050"/><circle cx="412.5" cy="123.5" r=".42" fill="#8a8a90"/><circle cx="436.4" cy="107.3" r=".42" fill="#d89050"/><circle cx="424.0" cy="82.5" r=".42" fill="#d89050"/><circle cx="425.8" cy="129.0" r=".42" fill="#7a9860"/><circle cx="425.5" cy="130.3" r=".42" fill="#d89050"/><circle cx="432.6" cy="88.1" r=".42" fill="#c87a3a"/><circle cx="421.6" cy="129.3" r=".42" fill="#8a8a90"/><circle cx="442.4" cy="109.3" r=".42" fill="#d89050"/><circle cx="413.9" cy="90.0" r=".42" fill="#c87a3a"/><circle cx="449.9" cy="127.4" r=".42" fill="#c87a3a"/><circle cx="453.7" cy="90.9" r=".42" fill="#c87a3a"/><circle cx="432.2" cy="80.6" r=".42" fill="#c07038"/><circle cx="445.4" cy="118.9" r=".42" fill="#c87a3a"/><circle cx="445.4" cy="120.5" r=".42" fill="#c87a3a"/><circle cx="440.3" cy="122.9" r=".42" fill="#c87a3a"/><circle cx="436.9" cy="76.1" r=".42" fill="#8a8a90"/><circle cx="436.1" cy="86.6" r=".42" fill="#7a9860"/><circle cx="457.4" cy="110.5" r=".42" fill="#d89050"/><circle cx="440.8" cy="111.9" r=".42" fill="#c07038"/><circle cx="444.9" cy="101.6" r=".42" fill="#7a9860"/><circle cx="413.7" cy="95.7" r=".42" fill="#c07038"/><circle cx="432.2" cy="105.5" r=".42" fill="#7a9860"/><circle cx="428.0" cy="88.9" r=".42" fill="#7a9860"/><circle cx="442.3" cy="104.5" r=".42" fill="#c07038"/><circle cx="459.3" cy="114.1" r=".42" fill="#7a9860"/><circle cx="436.2" cy="100.2" r=".42" fill="#d89050"/><circle cx="445.8" cy="121.5" r=".42" fill="#8a8a90"/><circle cx="446.7" cy="91.1" r=".42" fill="#c87a3a"/><circle cx="427.9" cy="132.1" r=".42" fill="#c07038"/><circle cx="408.8" cy="91.9" r=".42" fill="#c87a3a"/><circle cx="411.0" cy="110.9" r=".42" fill="#c07038"/><circle cx="431.5" cy="126.7" r=".42" fill="#7a9860"/><circle cx="422.4" cy="84.1" r=".42" fill="#c07038"/><circle cx="426.5" cy="104.0" r=".42" fill="#c87a3a"/><circle cx="452.7" cy="93.3" r=".42" fill="#c87a3a"/><circle cx="444.6" cy="79.9" r=".42" fill="#8a8a90"/><circle cx="448.9" cy="125.6" r=".42" fill="#7a9860"/><circle cx="436.4" cy="110.4" r=".42" fill="#8a8a90"/><circle cx="439.3" cy="108.9" r=".42" fill="#c87a3a"/><circle cx="438.4" cy="110.8" r=".42" fill="#c07038"/><circle cx="435.5" cy="111.8" r=".42" fill="#c87a3a"/><circle cx="429.5" cy="75.8" r=".42" fill="#c87a3a"/><circle cx="449.7" cy="119.5" r=".42" fill="#d89050"/><circle cx="446.0" cy="99.3" r=".42" fill="#c87a3a"/><circle cx="434.3" cy="128.9" r=".42" fill="#8a8a90"/><circle cx="432.4" cy="132.1" r=".42" fill="#c07038"/><circle cx="451.9" cy="86.5" r=".42" fill="#8a8a90"/><circle cx="404.1" cy="99.0" r=".42" fill="#8a8a90"/><circle cx="458.4" cy="107.9" r=".42" fill="#d89050"/><circle cx="441.9" cy="106.6" r=".42" fill="#c87a3a"/><circle cx="415.7" cy="85.6" r=".42" fill="#d89050"/><circle cx="432.9" cy="129.9" r=".42" fill="#c87a3a"/><circle cx="431.8" cy="97.2" r=".42" fill="#7a9860"/><circle cx="430.9" cy="88.6" r=".42" fill="#c07038"/><circle cx="441.7" cy="86.2" r=".42" fill="#d89050"/><circle cx="433.8" cy="127.8" r=".42" fill="#7a9860"/><circle cx="450.2" cy="101.2" r=".42" fill="#c07038"/><circle cx="440.5" cy="121.1" r=".42" fill="#c87a3a"/><circle cx="417.1" cy="104.0" r=".42" fill="#d89050"/><circle cx="415.6" cy="119.0" r=".42" fill="#8a8a90"/><circle cx="405.0" cy="117.3" r=".42" fill="#c07038"/><circle cx="415.6" cy="89.1" r=".42" fill="#c07038"/><circle cx="448.6" cy="126.3" r=".42" fill="#c07038"/><circle cx="432.3" cy="131.2" r=".42" fill="#c07038"/><circle cx="425.2" cy="100.3" r=".42" fill="#8a8a90"/><circle cx="437.5" cy="82.5" r=".42" fill="#7a9860"/><circle cx="411.7" cy="95.5" r=".42" fill="#8a8a90"/><circle cx="439.0" cy="118.6" r=".42" fill="#7a9860"/><circle cx="443.1" cy="106.3" r=".42" fill="#c87a3a"/><circle cx="457.4" cy="111.0" r=".42" fill="#d89050"/><circle cx="444.0" cy="75.2" r=".42" fill="#c07038"/><circle cx="417.1" cy="85.6" r=".42" fill="#8a8a90"/><circle cx="457.0" cy="118.3" r=".42" fill="#7a9860"/><circle cx="440.2" cy="109.7" r=".42" fill="#c07038"/><circle cx="450.4" cy="111.2" r=".42" fill="#7a9860"/><circle cx="442.2" cy="110.5" r=".42" fill="#c07038"/><circle cx="440.0" cy="120.8" r=".42" fill="#d89050"/><circle cx="439.0" cy="115.1" r=".42" fill="#7a9860"/><circle cx="429.1" cy="125.0" r=".42" fill="#c07038"/><circle cx="422.5" cy="114.3" r=".42" fill="#7a9860"/><circle cx="449.2" cy="106.5" r=".42" fill="#c87a3a"/><circle cx="412.8" cy="100.5" r=".42" fill="#c07038"/><circle cx="437.2" cy="108.2" r=".42" fill="#7a9860"/><circle cx="410.9" cy="114.1" r=".42" fill="#7a9860"/><circle cx="438.8" cy="76.8" r=".42" fill="#7a9860"/><circle cx="420.7" cy="126.1" r=".42" fill="#8a8a90"/><circle cx="427.7" cy="110.4" r=".42" fill="#c87a3a"/><circle cx="406.9" cy="97.6" r=".42" fill="#c07038"/><circle cx="414.5" cy="91.6" r=".42" fill="#c87a3a"/><circle cx="433.5" cy="111.4" r=".42" fill="#c87a3a"/><circle cx="440.5" cy="120.4" r=".42" fill="#8a8a90"/><circle cx="434.5" cy="74.4" r=".42" fill="#c07038"/><circle cx="410.7" cy="88.9" r=".42" fill="#c87a3a"/><circle cx="429.6" cy="103.1" r=".42" fill="#d89050"/><circle cx="427.8" cy="105.1" r=".42" fill="#7a9860"/><circle cx="414.2" cy="115.5" r=".42" fill="#c07038"/><circle cx="415.6" cy="98.8" r=".42" fill="#7a9860"/><circle cx="438.2" cy="115.9" r=".42" fill="#7a9860"/><circle cx="439.9" cy="115.8" r=".42" fill="#c87a3a"/><circle cx="411.2" cy="125.6" r=".42" fill="#c87a3a"/><circle cx="424.3" cy="97.8" r=".42" fill="#7a9860"/><circle cx="428.8" cy="100.2" r=".42" fill="#c87a3a"/><circle cx="443.6" cy="129.8" r=".42" fill="#c87a3a"/><circle cx="442.7" cy="72.9" r=".42" fill="#8a8a90"/><circle cx="446.1" cy="110.9" r=".42" fill="#8a8a90"/><circle cx="413.7" cy="110.7" r=".42" fill="#8a8a90"/><circle cx="435.6" cy="100.3" r=".42" fill="#d89050"/><circle cx="431.7" cy="128.1" r=".42" fill="#7a9860"/><circle cx="417.4" cy="104.9" r=".42" fill="#c87a3a"/><circle cx="417.7" cy="123.5" r=".42" fill="#c07038"/><circle cx="428.5" cy="115.1" r=".42" fill="#7a9860"/><circle cx="433.5" cy="114.2" r=".42" fill="#c87a3a"/><circle cx="400.1" cy="99.9" r=".42" fill="#7a9860"/><circle cx="444.5" cy="108.9" r=".42" fill="#c87a3a"/><circle cx="447.8" cy="116.5" r=".42" fill="#c07038"/><circle cx="448.6" cy="109.4" r=".42" fill="#8a8a90"/><circle cx="411.8" cy="93.5" r=".42" fill="#c87a3a"/><circle cx="422.1" cy="95.0" r=".42" fill="#c87a3a"/><circle cx="426.2" cy="117.7" r=".42" fill="#d89050"/><circle cx="443.9" cy="79.7" r=".42" fill="#8a8a90"/><circle cx="434.6" cy="94.8" r=".42" fill="#d89050"/><circle cx="414.9" cy="127.2" r=".42" fill="#c07038"/><circle cx="412.2" cy="119.1" r=".42" fill="#c87a3a"/><circle cx="428.7" cy="114.8" r=".42" fill="#d89050"/><circle cx="430.0" cy="124.8" r=".42" fill="#c87a3a"/><circle cx="433.0" cy="113.1" r=".42" fill="#c87a3a"/><circle cx="450.7" cy="116.3" r=".42" fill="#c07038"/><circle cx="401.4" cy="108.4" r=".42" fill="#8a8a90"/><circle cx="435.7" cy="130.2" r=".42" fill="#c07038"/><circle cx="434.8" cy="98.2" r=".42" fill="#c87a3a"/><circle cx="401.1" cy="96.9" r=".42" fill="#d89050"/><circle cx="432.7" cy="91.1" r=".42" fill="#c07038"/><circle cx="433.0" cy="105.1" r=".42" fill="#c87a3a"/><circle cx="412.2" cy="77.8" r=".42" fill="#c07038"/><circle cx="424.2" cy="122.6" r=".42" fill="#8a8a90"/><circle cx="457.1" cy="96.5" r=".42" fill="#8a8a90"/><circle cx="431.0" cy="129.6" r=".42" fill="#7a9860"/><circle cx="439.4" cy="112.6" r=".42" fill="#7a9860"/></g>
<text x="399.9" y="70.9" font-size="7.0" fill="#4a4a55">TPC</text>
<text x="433" y="90.5" font-size="7.0" text-anchor="middle" fill="#4a4a55">TPN</text>
<text x="405.6" y="120" font-size="7.0" fill="#4a4a55">TPA</text>
<line x1="438.00" y1="114.40" x2="477.90" y2="105.70" stroke="#111" stroke-width="1.4"/>
<text x="479.8" y="65.6" font-size="7.5" fill="#1c1c1c">Sparsity</text>
<text x="479.8" y="75.39999999999999" font-size="7.5" fill="#1c1c1c">Entropy</text>
<text x="479.8" y="85.19999999999999" font-size="7.5" fill="#1c1c1c">Complexity</text>
<text x="479.8" y="95.0" font-size="7.5" fill="#1c1c1c">Dynamic range</text>
<text x="479.8" y="104.8" font-size="7.5" fill="#1c1c1c">SpecificityFDR</text>
<text x="479.8" y="114.6" font-size="7.5" fill="#1c1c1c">SNR</text>
<text x="479.8" y="124.4" font-size="7.5" fill="#1c1c1c">MECR</text>
<text x="479.8" y="134.2" font-size="7.5" fill="#1c1c1c">FTC</text>
<g clip-path="url(#cph1)"><rect x="321.0" y="166.4" width="47.8" height="47.8" fill="#d0e4ef"/><path d="M326.4,166.4 L323.7,171.1 L318.3,171.1 L315.6,166.4 L318.3,161.7 L323.7,161.7Z" fill="#d0e4ef" stroke="#a8cce0" stroke-width=".45"/><path d="M324.7,166.4 L322.8,169.6 L319.2,169.6 L317.3,166.4 L319.2,163.2 L322.8,163.2Z" fill="none" stroke="#d9ebf4" stroke-width=".9"/><circle cx="321.0" cy="166.4" r="1.9" fill="#accfe5"/><path d="M326.4,175.8 L323.7,180.5 L318.3,180.5 L315.6,175.8 L318.3,171.1 L323.7,171.1Z" fill="#d0e4ef" stroke="#a8cce0" stroke-width=".45"/><path d="M324.7,175.8 L322.8,179.0 L319.2,179.0 L317.3,175.8 L319.2,172.6 L322.8,172.6Z" fill="none" stroke="#d9ebf4" stroke-width=".9"/><circle cx="321.0" cy="175.8" r="1.9" fill="#accfe5"/><path d="M326.4,185.2 L323.7,189.9 L318.3,189.9 L315.6,185.2 L318.3,180.5 L323.7,180.5Z" fill="#d0e4ef" stroke="#a8cce0" stroke-width=".45"/><path d="M324.7,185.2 L322.8,188.4 L319.2,188.4 L317.3,185.2 L319.2,182.0 L322.8,182.0Z" fill="none" stroke="#d9ebf4" stroke-width=".9"/><circle cx="321.0" cy="185.2" r="1.9" fill="#accfe5"/><path d="M326.4,194.6 L323.7,199.3 L318.3,199.3 L315.6,194.6 L318.3,189.9 L323.7,189.9Z" fill="#d0e4ef" stroke="#a8cce0" stroke-width=".45"/><path d="M324.7,194.6 L322.8,197.8 L319.2,197.8 L317.3,194.6 L319.2,191.4 L322.8,191.4Z" fill="none" stroke="#d9ebf4" stroke-width=".9"/><circle cx="321.0" cy="194.6" r="1.9" fill="#accfe5"/><path d="M326.4,204.0 L323.7,208.7 L318.3,208.7 L315.6,204.0 L318.3,199.3 L323.7,199.3Z" fill="#d0e4ef" stroke="#a8cce0" stroke-width=".45"/><path d="M324.7,204.0 L322.8,207.2 L319.2,207.2 L317.3,204.0 L319.2,200.8 L322.8,200.8Z" fill="none" stroke="#d9ebf4" stroke-width=".9"/><circle cx="321.0" cy="204.0" r="1.9" fill="#accfe5"/><path d="M326.4,213.4 L323.7,218.1 L318.3,218.1 L315.6,213.4 L318.3,208.7 L323.7,208.7Z" fill="#d0e4ef" stroke="#a8cce0" stroke-width=".45"/><path d="M324.7,213.4 L322.8,216.6 L319.2,216.6 L317.3,213.4 L319.2,210.2 L322.8,210.2Z" fill="none" stroke="#d9ebf4" stroke-width=".9"/><circle cx="321.0" cy="213.4" r="1.9" fill="#accfe5"/><path d="M334.5,161.7 L331.8,166.4 L326.4,166.4 L323.7,161.7 L326.4,157.0 L331.8,157.0Z" fill="#d0e4ef" stroke="#a8cce0" stroke-width=".45"/><path d="M332.8,161.7 L330.9,164.9 L327.3,164.9 L325.4,161.7 L327.3,158.5 L330.9,158.5Z" fill="none" stroke="#d9ebf4" stroke-width=".9"/><circle cx="329.1" cy="161.7" r="1.9" fill="#accfe5"/><path d="M334.5,171.1 L331.8,175.8 L326.4,175.8 L323.7,171.1 L326.4,166.4 L331.8,166.4Z" fill="#d0e4ef" stroke="#a8cce0" stroke-width=".45"/><path d="M332.8,171.1 L330.9,174.3 L327.3,174.3 L325.4,171.1 L327.3,167.9 L330.9,167.9Z" fill="none" stroke="#d9ebf4" stroke-width=".9"/><circle cx="329.1" cy="171.1" r="1.9" fill="#accfe5"/><path d="M334.5,180.5 L331.8,185.2 L326.4,185.2 L323.7,180.5 L326.4,175.8 L331.8,175.8Z" fill="#d0e4ef" stroke="#a8cce0" stroke-width=".45"/><path d="M332.8,180.5 L330.9,183.7 L327.3,183.7 L325.4,180.5 L327.3,177.3 L330.9,177.3Z" fill="none" stroke="#d9ebf4" stroke-width=".9"/><circle cx="329.1" cy="180.5" r="1.9" fill="#accfe5"/><path d="M334.5,189.9 L331.8,194.6 L326.4,194.6 L323.7,189.9 L326.4,185.2 L331.8,185.2Z" fill="#d0e4ef" stroke="#a8cce0" stroke-width=".45"/><path d="M332.8,189.9 L330.9,193.1 L327.3,193.1 L325.4,189.9 L327.3,186.7 L330.9,186.7Z" fill="none" stroke="#d9ebf4" stroke-width=".9"/><circle cx="329.1" cy="189.9" r="1.9" fill="#accfe5"/><path d="M334.5,199.3 L331.8,204.0 L326.4,204.0 L323.7,199.3 L326.4,194.6 L331.8,194.6Z" fill="#d0e4ef" stroke="#a8cce0" stroke-width=".45"/><path d="M332.8,199.3 L330.9,202.5 L327.3,202.5 L325.4,199.3 L327.3,196.1 L330.9,196.1Z" fill="none" stroke="#d9ebf4" stroke-width=".9"/><circle cx="329.1" cy="199.3" r="1.9" fill="#accfe5"/><path d="M334.5,208.7 L331.8,213.4 L326.4,213.4 L323.7,208.7 L326.4,204.0 L331.8,204.0Z" fill="#d0e4ef" stroke="#a8cce0" stroke-width=".45"/><path d="M332.8,208.7 L330.9,211.9 L327.3,211.9 L325.4,208.7 L327.3,205.5 L330.9,205.5Z" fill="none" stroke="#d9ebf4" stroke-width=".9"/><circle cx="329.1" cy="208.7" r="1.9" fill="#accfe5"/><path d="M334.5,218.1 L331.8,222.8 L326.4,222.8 L323.7,218.1 L326.4,213.4 L331.8,213.4Z" fill="#d0e4ef" stroke="#a8cce0" stroke-width=".45"/><path d="M332.8,218.1 L330.9,221.3 L327.3,221.3 L325.4,218.1 L327.3,214.9 L330.9,214.9Z" fill="none" stroke="#d9ebf4" stroke-width=".9"/><circle cx="329.1" cy="218.1" r="1.9" fill="#accfe5"/><path d="M342.6,166.4 L339.9,171.1 L334.5,171.1 L331.8,166.4 L334.5,161.7 L339.9,161.7Z" fill="#d0e4ef" stroke="#a8cce0" stroke-width=".45"/><path d="M340.9,166.4 L339.0,169.6 L335.4,169.6 L333.5,166.4 L335.4,163.2 L339.0,163.2Z" fill="none" stroke="#d9ebf4" stroke-width=".9"/><circle cx="337.2" cy="166.4" r="1.9" fill="#accfe5"/><path d="M342.6,175.8 L339.9,180.5 L334.5,180.5 L331.8,175.8 L334.5,171.1 L339.9,171.1Z" fill="#d0e4ef" stroke="#a8cce0" stroke-width=".45"/><path d="M340.9,175.8 L339.0,179.0 L335.4,179.0 L333.5,175.8 L335.4,172.6 L339.0,172.6Z" fill="none" stroke="#d9ebf4" stroke-width=".9"/><circle cx="337.2" cy="175.8" r="1.9" fill="#accfe5"/><path d="M342.6,185.2 L339.9,189.9 L334.5,189.9 L331.8,185.2 L334.5,180.5 L339.9,180.5Z" fill="#d0e4ef" stroke="#a8cce0" stroke-width=".45"/><path d="M340.9,185.2 L339.0,188.4 L335.4,188.4 L333.5,185.2 L335.4,182.0 L339.0,182.0Z" fill="none" stroke="#d9ebf4" stroke-width=".9"/><circle cx="337.2" cy="185.2" r="1.9" fill="#accfe5"/><path d="M342.6,194.6 L339.9,199.3 L334.5,199.3 L331.8,194.6 L334.5,189.9 L339.9,189.9Z" fill="#d0e4ef" stroke="#a8cce0" stroke-width=".45"/><path d="M340.9,194.6 L339.0,197.8 L335.4,197.8 L333.5,194.6 L335.4,191.4 L339.0,191.4Z" fill="none" stroke="#d9ebf4" stroke-width=".9"/><circle cx="337.2" cy="194.6" r="1.9" fill="#accfe5"/><path d="M342.6,204.0 L339.9,208.7 L334.5,208.7 L331.8,204.0 L334.5,199.3 L339.9,199.3Z" fill="#d0e4ef" stroke="#a8cce0" stroke-width=".45"/><path d="M340.9,204.0 L339.0,207.2 L335.4,207.2 L333.5,204.0 L335.4,200.8 L339.0,200.8Z" fill="none" stroke="#d9ebf4" stroke-width=".9"/><circle cx="337.2" cy="204.0" r="1.9" fill="#accfe5"/><path d="M342.6,213.4 L339.9,218.1 L334.5,218.1 L331.8,213.4 L334.5,208.7 L339.9,208.7Z" fill="#d0e4ef" stroke="#a8cce0" stroke-width=".45"/><path d="M340.9,213.4 L339.0,216.6 L335.4,216.6 L333.5,213.4 L335.4,210.2 L339.0,210.2Z" fill="none" stroke="#d9ebf4" stroke-width=".9"/><circle cx="337.2" cy="213.4" r="1.9" fill="#accfe5"/><path d="M350.7,161.7 L348.0,166.4 L342.6,166.4 L339.9,161.7 L342.6,157.0 L348.0,157.0Z" fill="#d0e4ef" stroke="#a8cce0" stroke-width=".45"/><path d="M349.0,161.7 L347.1,164.9 L343.5,164.9 L341.6,161.7 L343.5,158.5 L347.1,158.5Z" fill="none" stroke="#d9ebf4" stroke-width=".9"/><circle cx="345.3" cy="161.7" r="1.9" fill="#accfe5"/><path d="M350.7,171.1 L348.0,175.8 L342.6,175.8 L339.9,171.1 L342.6,166.4 L348.0,166.4Z" fill="#d0e4ef" stroke="#a8cce0" stroke-width=".45"/><path d="M349.0,171.1 L347.1,174.3 L343.5,174.3 L341.6,171.1 L343.5,167.9 L347.1,167.9Z" fill="none" stroke="#d9ebf4" stroke-width=".9"/><circle cx="345.3" cy="171.1" r="1.9" fill="#accfe5"/><path d="M350.7,180.5 L348.0,185.2 L342.6,185.2 L339.9,180.5 L342.6,175.8 L348.0,175.8Z" fill="#d0e4ef" stroke="#a8cce0" stroke-width=".45"/><path d="M349.0,180.5 L347.1,183.7 L343.5,183.7 L341.6,180.5 L343.5,177.3 L347.1,177.3Z" fill="none" stroke="#d9ebf4" stroke-width=".9"/><circle cx="345.3" cy="180.5" r="1.9" fill="#accfe5"/><path d="M350.7,189.9 L348.0,194.6 L342.6,194.6 L339.9,189.9 L342.6,185.2 L348.0,185.2Z" fill="#d0e4ef" stroke="#a8cce0" stroke-width=".45"/><path d="M349.0,189.9 L347.1,193.1 L343.5,193.1 L341.6,189.9 L343.5,186.7 L347.1,186.7Z" fill="none" stroke="#d9ebf4" stroke-width=".9"/><circle cx="345.3" cy="189.9" r="1.9" fill="#accfe5"/><path d="M350.7,199.3 L348.0,204.0 L342.6,204.0 L339.9,199.3 L342.6,194.6 L348.0,194.6Z" fill="#d0e4ef" stroke="#a8cce0" stroke-width=".45"/><path d="M349.0,199.3 L347.1,202.5 L343.5,202.5 L341.6,199.3 L343.5,196.1 L347.1,196.1Z" fill="none" stroke="#d9ebf4" stroke-width=".9"/><circle cx="345.3" cy="199.3" r="1.9" fill="#accfe5"/><path d="M350.7,208.7 L348.0,213.4 L342.6,213.4 L339.9,208.7 L342.6,204.0 L348.0,204.0Z" fill="#d0e4ef" stroke="#a8cce0" stroke-width=".45"/><path d="M349.0,208.7 L347.1,211.9 L343.5,211.9 L341.6,208.7 L343.5,205.5 L347.1,205.5Z" fill="none" stroke="#d9ebf4" stroke-width=".9"/><circle cx="345.3" cy="208.7" r="1.9" fill="#accfe5"/><path d="M350.7,218.1 L348.0,222.8 L342.6,222.8 L339.9,218.1 L342.6,213.4 L348.0,213.4Z" fill="#d0e4ef" stroke="#a8cce0" stroke-width=".45"/><path d="M349.0,218.1 L347.1,221.3 L343.5,221.3 L341.6,218.1 L343.5,214.9 L347.1,214.9Z" fill="none" stroke="#d9ebf4" stroke-width=".9"/><circle cx="345.3" cy="218.1" r="1.9" fill="#accfe5"/><path d="M358.8,166.4 L356.1,171.1 L350.7,171.1 L348.0,166.4 L350.7,161.7 L356.1,161.7Z" fill="#d0e4ef" stroke="#a8cce0" stroke-width=".45"/><path d="M357.1,166.4 L355.2,169.6 L351.6,169.6 L349.7,166.4 L351.6,163.2 L355.2,163.2Z" fill="none" stroke="#d9ebf4" stroke-width=".9"/><circle cx="353.4" cy="166.4" r="1.9" fill="#accfe5"/><path d="M358.8,175.8 L356.1,180.5 L350.7,180.5 L348.0,175.8 L350.7,171.1 L356.1,171.1Z" fill="#d0e4ef" stroke="#a8cce0" stroke-width=".45"/><path d="M357.1,175.8 L355.2,179.0 L351.6,179.0 L349.7,175.8 L351.6,172.6 L355.2,172.6Z" fill="none" stroke="#d9ebf4" stroke-width=".9"/><circle cx="353.4" cy="175.8" r="1.9" fill="#accfe5"/><path d="M358.8,185.2 L356.1,189.9 L350.7,189.9 L348.0,185.2 L350.7,180.5 L356.1,180.5Z" fill="#d0e4ef" stroke="#a8cce0" stroke-width=".45"/><path d="M357.1,185.2 L355.2,188.4 L351.6,188.4 L349.7,185.2 L351.6,182.0 L355.2,182.0Z" fill="none" stroke="#d9ebf4" stroke-width=".9"/><circle cx="353.4" cy="185.2" r="1.9" fill="#accfe5"/><path d="M358.8,194.6 L356.1,199.3 L350.7,199.3 L348.0,194.6 L350.7,189.9 L356.1,189.9Z" fill="#d0e4ef" stroke="#a8cce0" stroke-width=".45"/><path d="M357.1,194.6 L355.2,197.8 L351.6,197.8 L349.7,194.6 L351.6,191.4 L355.2,191.4Z" fill="none" stroke="#d9ebf4" stroke-width=".9"/><circle cx="353.4" cy="194.6" r="1.9" fill="#accfe5"/><path d="M358.8,204.0 L356.1,208.7 L350.7,208.7 L348.0,204.0 L350.7,199.3 L356.1,199.3Z" fill="#d0e4ef" stroke="#a8cce0" stroke-width=".45"/><path d="M357.1,204.0 L355.2,207.2 L351.6,207.2 L349.7,204.0 L351.6,200.8 L355.2,200.8Z" fill="none" stroke="#d9ebf4" stroke-width=".9"/><circle cx="353.4" cy="204.0" r="1.9" fill="#accfe5"/><path d="M358.8,213.4 L356.1,218.1 L350.7,218.1 L348.0,213.4 L350.7,208.7 L356.1,208.7Z" fill="#d0e4ef" stroke="#a8cce0" stroke-width=".45"/><path d="M357.1,213.4 L355.2,216.6 L351.6,216.6 L349.7,213.4 L351.6,210.2 L355.2,210.2Z" fill="none" stroke="#d9ebf4" stroke-width=".9"/><circle cx="353.4" cy="213.4" r="1.9" fill="#accfe5"/><path d="M366.9,161.7 L364.2,166.4 L358.8,166.4 L356.1,161.7 L358.8,157.0 L364.2,157.0Z" fill="#d0e4ef" stroke="#a8cce0" stroke-width=".45"/><path d="M365.2,161.7 L363.3,164.9 L359.7,164.9 L357.8,161.7 L359.7,158.5 L363.3,158.5Z" fill="none" stroke="#d9ebf4" stroke-width=".9"/><circle cx="361.5" cy="161.7" r="1.9" fill="#accfe5"/><path d="M366.9,171.1 L364.2,175.8 L358.8,175.8 L356.1,171.1 L358.8,166.4 L364.2,166.4Z" fill="#d0e4ef" stroke="#a8cce0" stroke-width=".45"/><path d="M365.2,171.1 L363.3,174.3 L359.7,174.3 L357.8,171.1 L359.7,167.9 L363.3,167.9Z" fill="none" stroke="#d9ebf4" stroke-width=".9"/><circle cx="361.5" cy="171.1" r="1.9" fill="#accfe5"/><path d="M366.9,180.5 L364.2,185.2 L358.8,185.2 L356.1,180.5 L358.8,175.8 L364.2,175.8Z" fill="#d0e4ef" stroke="#a8cce0" stroke-width=".45"/><path d="M365.2,180.5 L363.3,183.7 L359.7,183.7 L357.8,180.5 L359.7,177.3 L363.3,177.3Z" fill="none" stroke="#d9ebf4" stroke-width=".9"/><circle cx="361.5" cy="180.5" r="1.9" fill="#accfe5"/><path d="M366.9,189.9 L364.2,194.6 L358.8,194.6 L356.1,189.9 L358.8,185.2 L364.2,185.2Z" fill="#d0e4ef" stroke="#a8cce0" stroke-width=".45"/><path d="M365.2,189.9 L363.3,193.1 L359.7,193.1 L357.8,189.9 L359.7,186.7 L363.3,186.7Z" fill="none" stroke="#d9ebf4" stroke-width=".9"/><circle cx="361.5" cy="189.9" r="1.9" fill="#accfe5"/><path d="M366.9,199.3 L364.2,204.0 L358.8,204.0 L356.1,199.3 L358.8,194.6 L364.2,194.6Z" fill="#d0e4ef" stroke="#a8cce0" stroke-width=".45"/><path d="M365.2,199.3 L363.3,202.5 L359.7,202.5 L357.8,199.3 L359.7,196.1 L363.3,196.1Z" fill="none" stroke="#d9ebf4" stroke-width=".9"/><circle cx="361.5" cy="199.3" r="1.9" fill="#accfe5"/><path d="M366.9,208.7 L364.2,213.4 L358.8,213.4 L356.1,208.7 L358.8,204.0 L364.2,204.0Z" fill="#d0e4ef" stroke="#a8cce0" stroke-width=".45"/><path d="M365.2,208.7 L363.3,211.9 L359.7,211.9 L357.8,208.7 L359.7,205.5 L363.3,205.5Z" fill="none" stroke="#d9ebf4" stroke-width=".9"/><circle cx="361.5" cy="208.7" r="1.9" fill="#accfe5"/><path d="M366.9,218.1 L364.2,222.8 L358.8,222.8 L356.1,218.1 L358.8,213.4 L364.2,213.4Z" fill="#d0e4ef" stroke="#a8cce0" stroke-width=".45"/><path d="M365.2,218.1 L363.3,221.3 L359.7,221.3 L357.8,218.1 L359.7,214.9 L363.3,214.9Z" fill="none" stroke="#d9ebf4" stroke-width=".9"/><circle cx="361.5" cy="218.1" r="1.9" fill="#accfe5"/><path d="M375.0,166.4 L372.3,171.1 L366.9,171.1 L364.2,166.4 L366.9,161.7 L372.3,161.7Z" fill="#d0e4ef" stroke="#a8cce0" stroke-width=".45"/><path d="M373.3,166.4 L371.4,169.6 L367.8,169.6 L365.9,166.4 L367.8,163.2 L371.4,163.2Z" fill="none" stroke="#d9ebf4" stroke-width=".9"/><circle cx="369.6" cy="166.4" r="1.9" fill="#accfe5"/><path d="M375.0,175.8 L372.3,180.5 L366.9,180.5 L364.2,175.8 L366.9,171.1 L372.3,171.1Z" fill="#d0e4ef" stroke="#a8cce0" stroke-width=".45"/><path d="M373.3,175.8 L371.4,179.0 L367.8,179.0 L365.9,175.8 L367.8,172.6 L371.4,172.6Z" fill="none" stroke="#d9ebf4" stroke-width=".9"/><circle cx="369.6" cy="175.8" r="1.9" fill="#accfe5"/><path d="M375.0,185.2 L372.3,189.9 L366.9,189.9 L364.2,185.2 L366.9,180.5 L372.3,180.5Z" fill="#d0e4ef" stroke="#a8cce0" stroke-width=".45"/><path d="M373.3,185.2 L371.4,188.4 L367.8,188.4 L365.9,185.2 L367.8,182.0 L371.4,182.0Z" fill="none" stroke="#d9ebf4" stroke-width=".9"/><circle cx="369.6" cy="185.2" r="1.9" fill="#accfe5"/><path d="M375.0,194.6 L372.3,199.3 L366.9,199.3 L364.2,194.6 L366.9,189.9 L372.3,189.9Z" fill="#d0e4ef" stroke="#a8cce0" stroke-width=".45"/><path d="M373.3,194.6 L371.4,197.8 L367.8,197.8 L365.9,194.6 L367.8,191.4 L371.4,191.4Z" fill="none" stroke="#d9ebf4" stroke-width=".9"/><circle cx="369.6" cy="194.6" r="1.9" fill="#accfe5"/><path d="M375.0,204.0 L372.3,208.7 L366.9,208.7 L364.2,204.0 L366.9,199.3 L372.3,199.3Z" fill="#d0e4ef" stroke="#a8cce0" stroke-width=".45"/><path d="M373.3,204.0 L371.4,207.2 L367.8,207.2 L365.9,204.0 L367.8,200.8 L371.4,200.8Z" fill="none" stroke="#d9ebf4" stroke-width=".9"/><circle cx="369.6" cy="204.0" r="1.9" fill="#accfe5"/><path d="M375.0,213.4 L372.3,218.1 L366.9,218.1 L364.2,213.4 L366.9,208.7 L372.3,208.7Z" fill="#d0e4ef" stroke="#a8cce0" stroke-width=".45"/><path d="M373.3,213.4 L371.4,216.6 L367.8,216.6 L365.9,213.4 L367.8,210.2 L371.4,210.2Z" fill="none" stroke="#d9ebf4" stroke-width=".9"/><circle cx="369.6" cy="213.4" r="1.9" fill="#accfe5"/></g>
<g clip-path="url(#cph2)"><rect x="327.2" y="172.2" width="47.8" height="47.8" fill="#f4c1bf"/><path d="M332.6,172.2 L329.9,176.9 L324.5,176.9 L321.8,172.2 L324.5,167.5 L329.9,167.5Z" fill="#f4c1bf" stroke="#e6a3a1" stroke-width=".45"/><path d="M330.9,172.2 L329.0,175.4 L325.4,175.4 L323.5,172.2 L325.4,169.0 L329.0,169.0Z" fill="none" stroke="#f7cecc" stroke-width=".9"/><circle cx="327.2" cy="172.2" r="1.9" fill="#eaa7a6"/><path d="M332.6,181.6 L329.9,186.3 L324.5,186.3 L321.8,181.6 L324.5,176.9 L329.9,176.9Z" fill="#f4c1bf" stroke="#e6a3a1" stroke-width=".45"/><path d="M330.9,181.6 L329.0,184.8 L325.4,184.8 L323.5,181.6 L325.4,178.4 L329.0,178.4Z" fill="none" stroke="#f7cecc" stroke-width=".9"/><circle cx="327.2" cy="181.6" r="1.9" fill="#eaa7a6"/><path d="M332.6,191.0 L329.9,195.7 L324.5,195.7 L321.8,191.0 L324.5,186.3 L329.9,186.3Z" fill="#f4c1bf" stroke="#e6a3a1" stroke-width=".45"/><path d="M330.9,191.0 L329.0,194.2 L325.4,194.2 L323.5,191.0 L325.4,187.8 L329.0,187.8Z" fill="none" stroke="#f7cecc" stroke-width=".9"/><circle cx="327.2" cy="191.0" r="1.9" fill="#eaa7a6"/><path d="M332.6,200.4 L329.9,205.1 L324.5,205.1 L321.8,200.4 L324.5,195.7 L329.9,195.7Z" fill="#f4c1bf" stroke="#e6a3a1" stroke-width=".45"/><path d="M330.9,200.4 L329.0,203.6 L325.4,203.6 L323.5,200.4 L325.4,197.2 L329.0,197.2Z" fill="none" stroke="#f7cecc" stroke-width=".9"/><circle cx="327.2" cy="200.4" r="1.9" fill="#eaa7a6"/><path d="M332.6,209.8 L329.9,214.5 L324.5,214.5 L321.8,209.8 L324.5,205.1 L329.9,205.1Z" fill="#f4c1bf" stroke="#e6a3a1" stroke-width=".45"/><path d="M330.9,209.8 L329.0,213.0 L325.4,213.0 L323.5,209.8 L325.4,206.6 L329.0,206.6Z" fill="none" stroke="#f7cecc" stroke-width=".9"/><circle cx="327.2" cy="209.8" r="1.9" fill="#eaa7a6"/><path d="M332.6,219.2 L329.9,223.9 L324.5,223.9 L321.8,219.2 L324.5,214.5 L329.9,214.5Z" fill="#f4c1bf" stroke="#e6a3a1" stroke-width=".45"/><path d="M330.9,219.2 L329.0,222.4 L325.4,222.4 L323.5,219.2 L325.4,216.0 L329.0,216.0Z" fill="none" stroke="#f7cecc" stroke-width=".9"/><circle cx="327.2" cy="219.2" r="1.9" fill="#eaa7a6"/><path d="M340.7,167.5 L338.0,172.2 L332.6,172.2 L329.9,167.5 L332.6,162.8 L338.0,162.8Z" fill="#f4c1bf" stroke="#e6a3a1" stroke-width=".45"/><path d="M339.0,167.5 L337.1,170.7 L333.5,170.7 L331.6,167.5 L333.5,164.3 L337.1,164.3Z" fill="none" stroke="#f7cecc" stroke-width=".9"/><circle cx="335.3" cy="167.5" r="1.9" fill="#eaa7a6"/><path d="M340.7,176.9 L338.0,181.6 L332.6,181.6 L329.9,176.9 L332.6,172.2 L338.0,172.2Z" fill="#f4c1bf" stroke="#e6a3a1" stroke-width=".45"/><path d="M339.0,176.9 L337.1,180.1 L333.5,180.1 L331.6,176.9 L333.5,173.7 L337.1,173.7Z" fill="none" stroke="#f7cecc" stroke-width=".9"/><circle cx="335.3" cy="176.9" r="1.9" fill="#eaa7a6"/><path d="M340.7,186.3 L338.0,191.0 L332.6,191.0 L329.9,186.3 L332.6,181.6 L338.0,181.6Z" fill="#f4c1bf" stroke="#e6a3a1" stroke-width=".45"/><path d="M339.0,186.3 L337.1,189.5 L333.5,189.5 L331.6,186.3 L333.5,183.1 L337.1,183.1Z" fill="none" stroke="#f7cecc" stroke-width=".9"/><circle cx="335.3" cy="186.3" r="1.9" fill="#eaa7a6"/><path d="M340.7,195.7 L338.0,200.4 L332.6,200.4 L329.9,195.7 L332.6,191.0 L338.0,191.0Z" fill="#f4c1bf" stroke="#e6a3a1" stroke-width=".45"/><path d="M339.0,195.7 L337.1,198.9 L333.5,198.9 L331.6,195.7 L333.5,192.5 L337.1,192.5Z" fill="none" stroke="#f7cecc" stroke-width=".9"/><circle cx="335.3" cy="195.7" r="1.9" fill="#eaa7a6"/><path d="M340.7,205.1 L338.0,209.8 L332.6,209.8 L329.9,205.1 L332.6,200.4 L338.0,200.4Z" fill="#f4c1bf" stroke="#e6a3a1" stroke-width=".45"/><path d="M339.0,205.1 L337.1,208.3 L333.5,208.3 L331.6,205.1 L333.5,201.9 L337.1,201.9Z" fill="none" stroke="#f7cecc" stroke-width=".9"/><circle cx="335.3" cy="205.1" r="1.9" fill="#eaa7a6"/><path d="M340.7,214.5 L338.0,219.2 L332.6,219.2 L329.9,214.5 L332.6,209.8 L338.0,209.8Z" fill="#f4c1bf" stroke="#e6a3a1" stroke-width=".45"/><path d="M339.0,214.5 L337.1,217.7 L333.5,217.7 L331.6,214.5 L333.5,211.3 L337.1,211.3Z" fill="none" stroke="#f7cecc" stroke-width=".9"/><circle cx="335.3" cy="214.5" r="1.9" fill="#eaa7a6"/><path d="M340.7,223.9 L338.0,228.6 L332.6,228.6 L329.9,223.9 L332.6,219.2 L338.0,219.2Z" fill="#f4c1bf" stroke="#e6a3a1" stroke-width=".45"/><path d="M339.0,223.9 L337.1,227.1 L333.5,227.1 L331.6,223.9 L333.5,220.7 L337.1,220.7Z" fill="none" stroke="#f7cecc" stroke-width=".9"/><circle cx="335.3" cy="223.9" r="1.9" fill="#eaa7a6"/><path d="M348.8,172.2 L346.1,176.9 L340.7,176.9 L338.0,172.2 L340.7,167.5 L346.1,167.5Z" fill="#f4c1bf" stroke="#e6a3a1" stroke-width=".45"/><path d="M347.1,172.2 L345.2,175.4 L341.6,175.4 L339.7,172.2 L341.6,169.0 L345.2,169.0Z" fill="none" stroke="#f7cecc" stroke-width=".9"/><circle cx="343.4" cy="172.2" r="1.9" fill="#eaa7a6"/><path d="M348.8,181.6 L346.1,186.3 L340.7,186.3 L338.0,181.6 L340.7,176.9 L346.1,176.9Z" fill="#f4c1bf" stroke="#e6a3a1" stroke-width=".45"/><path d="M347.1,181.6 L345.2,184.8 L341.6,184.8 L339.7,181.6 L341.6,178.4 L345.2,178.4Z" fill="none" stroke="#f7cecc" stroke-width=".9"/><circle cx="343.4" cy="181.6" r="1.9" fill="#eaa7a6"/><path d="M348.8,191.0 L346.1,195.7 L340.7,195.7 L338.0,191.0 L340.7,186.3 L346.1,186.3Z" fill="#f4c1bf" stroke="#e6a3a1" stroke-width=".45"/><path d="M347.1,191.0 L345.2,194.2 L341.6,194.2 L339.7,191.0 L341.6,187.8 L345.2,187.8Z" fill="none" stroke="#f7cecc" stroke-width=".9"/><circle cx="343.4" cy="191.0" r="1.9" fill="#eaa7a6"/><path d="M348.8,200.4 L346.1,205.1 L340.7,205.1 L338.0,200.4 L340.7,195.7 L346.1,195.7Z" fill="#f4c1bf" stroke="#e6a3a1" stroke-width=".45"/><path d="M347.1,200.4 L345.2,203.6 L341.6,203.6 L339.7,200.4 L341.6,197.2 L345.2,197.2Z" fill="none" stroke="#f7cecc" stroke-width=".9"/><circle cx="343.4" cy="200.4" r="1.9" fill="#eaa7a6"/><path d="M348.8,209.8 L346.1,214.5 L340.7,214.5 L338.0,209.8 L340.7,205.1 L346.1,205.1Z" fill="#f4c1bf" stroke="#e6a3a1" stroke-width=".45"/><path d="M347.1,209.8 L345.2,213.0 L341.6,213.0 L339.7,209.8 L341.6,206.6 L345.2,206.6Z" fill="none" stroke="#f7cecc" stroke-width=".9"/><circle cx="343.4" cy="209.8" r="1.9" fill="#eaa7a6"/><path d="M348.8,219.2 L346.1,223.9 L340.7,223.9 L338.0,219.2 L340.7,214.5 L346.1,214.5Z" fill="#f4c1bf" stroke="#e6a3a1" stroke-width=".45"/><path d="M347.1,219.2 L345.2,222.4 L341.6,222.4 L339.7,219.2 L341.6,216.0 L345.2,216.0Z" fill="none" stroke="#f7cecc" stroke-width=".9"/><circle cx="343.4" cy="219.2" r="1.9" fill="#eaa7a6"/><path d="M356.9,167.5 L354.2,172.2 L348.8,172.2 L346.1,167.5 L348.8,162.8 L354.2,162.8Z" fill="#f4c1bf" stroke="#e6a3a1" stroke-width=".45"/><path d="M355.2,167.5 L353.3,170.7 L349.7,170.7 L347.8,167.5 L349.7,164.3 L353.3,164.3Z" fill="none" stroke="#f7cecc" stroke-width=".9"/><circle cx="351.5" cy="167.5" r="1.9" fill="#eaa7a6"/><path d="M356.9,176.9 L354.2,181.6 L348.8,181.6 L346.1,176.9 L348.8,172.2 L354.2,172.2Z" fill="#f4c1bf" stroke="#e6a3a1" stroke-width=".45"/><path d="M355.2,176.9 L353.3,180.1 L349.7,180.1 L347.8,176.9 L349.7,173.7 L353.3,173.7Z" fill="none" stroke="#f7cecc" stroke-width=".9"/><circle cx="351.5" cy="176.9" r="1.9" fill="#eaa7a6"/><path d="M356.9,186.3 L354.2,191.0 L348.8,191.0 L346.1,186.3 L348.8,181.6 L354.2,181.6Z" fill="#f4c1bf" stroke="#e6a3a1" stroke-width=".45"/><path d="M355.2,186.3 L353.3,189.5 L349.7,189.5 L347.8,186.3 L349.7,183.1 L353.3,183.1Z" fill="none" stroke="#f7cecc" stroke-width=".9"/><circle cx="351.5" cy="186.3" r="1.9" fill="#eaa7a6"/><path d="M356.9,195.7 L354.2,200.4 L348.8,200.4 L346.1,195.7 L348.8,191.0 L354.2,191.0Z" fill="#f4c1bf" stroke="#e6a3a1" stroke-width=".45"/><path d="M355.2,195.7 L353.3,198.9 L349.7,198.9 L347.8,195.7 L349.7,192.5 L353.3,192.5Z" fill="none" stroke="#f7cecc" stroke-width=".9"/><circle cx="351.5" cy="195.7" r="1.9" fill="#eaa7a6"/><path d="M356.9,205.1 L354.2,209.8 L348.8,209.8 L346.1,205.1 L348.8,200.4 L354.2,200.4Z" fill="#f4c1bf" stroke="#e6a3a1" stroke-width=".45"/><path d="M355.2,205.1 L353.3,208.3 L349.7,208.3 L347.8,205.1 L349.7,201.9 L353.3,201.9Z" fill="none" stroke="#f7cecc" stroke-width=".9"/><circle cx="351.5" cy="205.1" r="1.9" fill="#eaa7a6"/><path d="M356.9,214.5 L354.2,219.2 L348.8,219.2 L346.1,214.5 L348.8,209.8 L354.2,209.8Z" fill="#f4c1bf" stroke="#e6a3a1" stroke-width=".45"/><path d="M355.2,214.5 L353.3,217.7 L349.7,217.7 L347.8,214.5 L349.7,211.3 L353.3,211.3Z" fill="none" stroke="#f7cecc" stroke-width=".9"/><circle cx="351.5" cy="214.5" r="1.9" fill="#eaa7a6"/><path d="M356.9,223.9 L354.2,228.6 L348.8,228.6 L346.1,223.9 L348.8,219.2 L354.2,219.2Z" fill="#f4c1bf" stroke="#e6a3a1" stroke-width=".45"/><path d="M355.2,223.9 L353.3,227.1 L349.7,227.1 L347.8,223.9 L349.7,220.7 L353.3,220.7Z" fill="none" stroke="#f7cecc" stroke-width=".9"/><circle cx="351.5" cy="223.9" r="1.9" fill="#eaa7a6"/><path d="M365.0,172.2 L362.3,176.9 L356.9,176.9 L354.2,172.2 L356.9,167.5 L362.3,167.5Z" fill="#f4c1bf" stroke="#e6a3a1" stroke-width=".45"/><path d="M363.3,172.2 L361.4,175.4 L357.8,175.4 L355.9,172.2 L357.8,169.0 L361.4,169.0Z" fill="none" stroke="#f7cecc" stroke-width=".9"/><circle cx="359.6" cy="172.2" r="1.9" fill="#eaa7a6"/><path d="M365.0,181.6 L362.3,186.3 L356.9,186.3 L354.2,181.6 L356.9,176.9 L362.3,176.9Z" fill="#f4c1bf" stroke="#e6a3a1" stroke-width=".45"/><path d="M363.3,181.6 L361.4,184.8 L357.8,184.8 L355.9,181.6 L357.8,178.4 L361.4,178.4Z" fill="none" stroke="#f7cecc" stroke-width=".9"/><circle cx="359.6" cy="181.6" r="1.9" fill="#eaa7a6"/><path d="M365.0,191.0 L362.3,195.7 L356.9,195.7 L354.2,191.0 L356.9,186.3 L362.3,186.3Z" fill="#f4c1bf" stroke="#e6a3a1" stroke-width=".45"/><path d="M363.3,191.0 L361.4,194.2 L357.8,194.2 L355.9,191.0 L357.8,187.8 L361.4,187.8Z" fill="none" stroke="#f7cecc" stroke-width=".9"/><circle cx="359.6" cy="191.0" r="1.9" fill="#eaa7a6"/><path d="M365.0,200.4 L362.3,205.1 L356.9,205.1 L354.2,200.4 L356.9,195.7 L362.3,195.7Z" fill="#f4c1bf" stroke="#e6a3a1" stroke-width=".45"/><path d="M363.3,200.4 L361.4,203.6 L357.8,203.6 L355.9,200.4 L357.8,197.2 L361.4,197.2Z" fill="none" stroke="#f7cecc" stroke-width=".9"/><circle cx="359.6" cy="200.4" r="1.9" fill="#eaa7a6"/><path d="M365.0,209.8 L362.3,214.5 L356.9,214.5 L354.2,209.8 L356.9,205.1 L362.3,205.1Z" fill="#f4c1bf" stroke="#e6a3a1" stroke-width=".45"/><path d="M363.3,209.8 L361.4,213.0 L357.8,213.0 L355.9,209.8 L357.8,206.6 L361.4,206.6Z" fill="none" stroke="#f7cecc" stroke-width=".9"/><circle cx="359.6" cy="209.8" r="1.9" fill="#eaa7a6"/><path d="M365.0,219.2 L362.3,223.9 L356.9,223.9 L354.2,219.2 L356.9,214.5 L362.3,214.5Z" fill="#f4c1bf" stroke="#e6a3a1" stroke-width=".45"/><path d="M363.3,219.2 L361.4,222.4 L357.8,222.4 L355.9,219.2 L357.8,216.0 L361.4,216.0Z" fill="none" stroke="#f7cecc" stroke-width=".9"/><circle cx="359.6" cy="219.2" r="1.9" fill="#eaa7a6"/><path d="M373.1,167.5 L370.4,172.2 L365.0,172.2 L362.3,167.5 L365.0,162.8 L370.4,162.8Z" fill="#f4c1bf" stroke="#e6a3a1" stroke-width=".45"/><path d="M371.4,167.5 L369.5,170.7 L365.9,170.7 L364.0,167.5 L365.9,164.3 L369.5,164.3Z" fill="none" stroke="#f7cecc" stroke-width=".9"/><circle cx="367.7" cy="167.5" r="1.9" fill="#eaa7a6"/><path d="M373.1,176.9 L370.4,181.6 L365.0,181.6 L362.3,176.9 L365.0,172.2 L370.4,172.2Z" fill="#f4c1bf" stroke="#e6a3a1" stroke-width=".45"/><path d="M371.4,176.9 L369.5,180.1 L365.9,180.1 L364.0,176.9 L365.9,173.7 L369.5,173.7Z" fill="none" stroke="#f7cecc" stroke-width=".9"/><circle cx="367.7" cy="176.9" r="1.9" fill="#eaa7a6"/><path d="M373.1,186.3 L370.4,191.0 L365.0,191.0 L362.3,186.3 L365.0,181.6 L370.4,181.6Z" fill="#f4c1bf" stroke="#e6a3a1" stroke-width=".45"/><path d="M371.4,186.3 L369.5,189.5 L365.9,189.5 L364.0,186.3 L365.9,183.1 L369.5,183.1Z" fill="none" stroke="#f7cecc" stroke-width=".9"/><circle cx="367.7" cy="186.3" r="1.9" fill="#eaa7a6"/><path d="M373.1,195.7 L370.4,200.4 L365.0,200.4 L362.3,195.7 L365.0,191.0 L370.4,191.0Z" fill="#f4c1bf" stroke="#e6a3a1" stroke-width=".45"/><path d="M371.4,195.7 L369.5,198.9 L365.9,198.9 L364.0,195.7 L365.9,192.5 L369.5,192.5Z" fill="none" stroke="#f7cecc" stroke-width=".9"/><circle cx="367.7" cy="195.7" r="1.9" fill="#eaa7a6"/><path d="M373.1,205.1 L370.4,209.8 L365.0,209.8 L362.3,205.1 L365.0,200.4 L370.4,200.4Z" fill="#f4c1bf" stroke="#e6a3a1" stroke-width=".45"/><path d="M371.4,205.1 L369.5,208.3 L365.9,208.3 L364.0,205.1 L365.9,201.9 L369.5,201.9Z" fill="none" stroke="#f7cecc" stroke-width=".9"/><circle cx="367.7" cy="205.1" r="1.9" fill="#eaa7a6"/><path d="M373.1,214.5 L370.4,219.2 L365.0,219.2 L362.3,214.5 L365.0,209.8 L370.4,209.8Z" fill="#f4c1bf" stroke="#e6a3a1" stroke-width=".45"/><path d="M371.4,214.5 L369.5,217.7 L365.9,217.7 L364.0,214.5 L365.9,211.3 L369.5,211.3Z" fill="none" stroke="#f7cecc" stroke-width=".9"/><circle cx="367.7" cy="214.5" r="1.9" fill="#eaa7a6"/><path d="M373.1,223.9 L370.4,228.6 L365.0,228.6 L362.3,223.9 L365.0,219.2 L370.4,219.2Z" fill="#f4c1bf" stroke="#e6a3a1" stroke-width=".45"/><path d="M371.4,223.9 L369.5,227.1 L365.9,227.1 L364.0,223.9 L365.9,220.7 L369.5,220.7Z" fill="none" stroke="#f7cecc" stroke-width=".9"/><circle cx="367.7" cy="223.9" r="1.9" fill="#eaa7a6"/><path d="M381.2,172.2 L378.5,176.9 L373.1,176.9 L370.4,172.2 L373.1,167.5 L378.5,167.5Z" fill="#f4c1bf" stroke="#e6a3a1" stroke-width=".45"/><path d="M379.5,172.2 L377.6,175.4 L374.0,175.4 L372.1,172.2 L374.0,169.0 L377.6,169.0Z" fill="none" stroke="#f7cecc" stroke-width=".9"/><circle cx="375.8" cy="172.2" r="1.9" fill="#eaa7a6"/><path d="M381.2,181.6 L378.5,186.3 L373.1,186.3 L370.4,181.6 L373.1,176.9 L378.5,176.9Z" fill="#f4c1bf" stroke="#e6a3a1" stroke-width=".45"/><path d="M379.5,181.6 L377.6,184.8 L374.0,184.8 L372.1,181.6 L374.0,178.4 L377.6,178.4Z" fill="none" stroke="#f7cecc" stroke-width=".9"/><circle cx="375.8" cy="181.6" r="1.9" fill="#eaa7a6"/><path d="M381.2,191.0 L378.5,195.7 L373.1,195.7 L370.4,191.0 L373.1,186.3 L378.5,186.3Z" fill="#f4c1bf" stroke="#e6a3a1" stroke-width=".45"/><path d="M379.5,191.0 L377.6,194.2 L374.0,194.2 L372.1,191.0 L374.0,187.8 L377.6,187.8Z" fill="none" stroke="#f7cecc" stroke-width=".9"/><circle cx="375.8" cy="191.0" r="1.9" fill="#eaa7a6"/><path d="M381.2,200.4 L378.5,205.1 L373.1,205.1 L370.4,200.4 L373.1,195.7 L378.5,195.7Z" fill="#f4c1bf" stroke="#e6a3a1" stroke-width=".45"/><path d="M379.5,200.4 L377.6,203.6 L374.0,203.6 L372.1,200.4 L374.0,197.2 L377.6,197.2Z" fill="none" stroke="#f7cecc" stroke-width=".9"/><circle cx="375.8" cy="200.4" r="1.9" fill="#eaa7a6"/><path d="M381.2,209.8 L378.5,214.5 L373.1,214.5 L370.4,209.8 L373.1,205.1 L378.5,205.1Z" fill="#f4c1bf" stroke="#e6a3a1" stroke-width=".45"/><path d="M379.5,209.8 L377.6,213.0 L374.0,213.0 L372.1,209.8 L374.0,206.6 L377.6,206.6Z" fill="none" stroke="#f7cecc" stroke-width=".9"/><circle cx="375.8" cy="209.8" r="1.9" fill="#eaa7a6"/><path d="M381.2,219.2 L378.5,223.9 L373.1,223.9 L370.4,219.2 L373.1,214.5 L378.5,214.5Z" fill="#f4c1bf" stroke="#e6a3a1" stroke-width=".45"/><path d="M379.5,219.2 L377.6,222.4 L374.0,222.4 L372.1,219.2 L374.0,216.0 L377.6,216.0Z" fill="none" stroke="#f7cecc" stroke-width=".9"/><circle cx="375.8" cy="219.2" r="1.9" fill="#eaa7a6"/></g>
<g clip-path="url(#cph3)"><rect x="336.6" y="179.5" width="47.8" height="47.8" fill="#c9ebbe"/><path d="M342.0,179.5 L339.3,184.2 L333.9,184.2 L331.2,179.5 L333.9,174.8 L339.3,174.8Z" fill="#c9ebbe" stroke="#98cc8c" stroke-width=".45"/><path d="M340.3,179.5 L338.4,182.7 L334.8,182.7 L332.9,179.5 L334.8,176.3 L338.4,176.3Z" fill="none" stroke="#d6f1cd" stroke-width=".9"/><circle cx="336.6" cy="179.5" r="1.9" fill="#abd99f"/><path d="M342.0,188.9 L339.3,193.6 L333.9,193.6 L331.2,188.9 L333.9,184.2 L339.3,184.2Z" fill="#c9ebbe" stroke="#98cc8c" stroke-width=".45"/><path d="M340.3,188.9 L338.4,192.1 L334.8,192.1 L332.9,188.9 L334.8,185.7 L338.4,185.7Z" fill="none" stroke="#d6f1cd" stroke-width=".9"/><circle cx="336.6" cy="188.9" r="1.9" fill="#abd99f"/><path d="M342.0,198.3 L339.3,203.0 L333.9,203.0 L331.2,198.3 L333.9,193.6 L339.3,193.6Z" fill="#c9ebbe" stroke="#98cc8c" stroke-width=".45"/><path d="M340.3,198.3 L338.4,201.5 L334.8,201.5 L332.9,198.3 L334.8,195.1 L338.4,195.1Z" fill="none" stroke="#d6f1cd" stroke-width=".9"/><circle cx="336.6" cy="198.3" r="1.9" fill="#abd99f"/><path d="M342.0,207.7 L339.3,212.4 L333.9,212.4 L331.2,207.7 L333.9,203.0 L339.3,203.0Z" fill="#c9ebbe" stroke="#98cc8c" stroke-width=".45"/><path d="M340.3,207.7 L338.4,210.9 L334.8,210.9 L332.9,207.7 L334.8,204.5 L338.4,204.5Z" fill="none" stroke="#d6f1cd" stroke-width=".9"/><circle cx="336.6" cy="207.7" r="1.9" fill="#abd99f"/><path d="M342.0,217.1 L339.3,221.8 L333.9,221.8 L331.2,217.1 L333.9,212.4 L339.3,212.4Z" fill="#c9ebbe" stroke="#98cc8c" stroke-width=".45"/><path d="M340.3,217.1 L338.4,220.3 L334.8,220.3 L332.9,217.1 L334.8,213.9 L338.4,213.9Z" fill="none" stroke="#d6f1cd" stroke-width=".9"/><circle cx="336.6" cy="217.1" r="1.9" fill="#abd99f"/><path d="M342.0,226.5 L339.3,231.2 L333.9,231.2 L331.2,226.5 L333.9,221.8 L339.3,221.8Z" fill="#c9ebbe" stroke="#98cc8c" stroke-width=".45"/><path d="M340.3,226.5 L338.4,229.7 L334.8,229.7 L332.9,226.5 L334.8,223.3 L338.4,223.3Z" fill="none" stroke="#d6f1cd" stroke-width=".9"/><circle cx="336.6" cy="226.5" r="1.9" fill="#abd99f"/><path d="M350.1,174.8 L347.4,179.5 L342.0,179.5 L339.3,174.8 L342.0,170.1 L347.4,170.1Z" fill="#c9ebbe" stroke="#98cc8c" stroke-width=".45"/><path d="M348.4,174.8 L346.5,178.0 L342.9,178.0 L341.0,174.8 L342.9,171.6 L346.5,171.6Z" fill="none" stroke="#d6f1cd" stroke-width=".9"/><circle cx="344.7" cy="174.8" r="1.9" fill="#abd99f"/><path d="M350.1,184.2 L347.4,188.9 L342.0,188.9 L339.3,184.2 L342.0,179.5 L347.4,179.5Z" fill="#c9ebbe" stroke="#98cc8c" stroke-width=".45"/><path d="M348.4,184.2 L346.5,187.4 L342.9,187.4 L341.0,184.2 L342.9,181.0 L346.5,181.0Z" fill="none" stroke="#d6f1cd" stroke-width=".9"/><circle cx="344.7" cy="184.2" r="1.9" fill="#abd99f"/><path d="M350.1,193.6 L347.4,198.3 L342.0,198.3 L339.3,193.6 L342.0,188.9 L347.4,188.9Z" fill="#c9ebbe" stroke="#98cc8c" stroke-width=".45"/><path d="M348.4,193.6 L346.5,196.8 L342.9,196.8 L341.0,193.6 L342.9,190.4 L346.5,190.4Z" fill="none" stroke="#d6f1cd" stroke-width=".9"/><circle cx="344.7" cy="193.6" r="1.9" fill="#abd99f"/><path d="M350.1,203.0 L347.4,207.7 L342.0,207.7 L339.3,203.0 L342.0,198.3 L347.4,198.3Z" fill="#c9ebbe" stroke="#98cc8c" stroke-width=".45"/><path d="M348.4,203.0 L346.5,206.2 L342.9,206.2 L341.0,203.0 L342.9,199.8 L346.5,199.8Z" fill="none" stroke="#d6f1cd" stroke-width=".9"/><circle cx="344.7" cy="203.0" r="1.9" fill="#abd99f"/><path d="M350.1,212.4 L347.4,217.1 L342.0,217.1 L339.3,212.4 L342.0,207.7 L347.4,207.7Z" fill="#c9ebbe" stroke="#98cc8c" stroke-width=".45"/><path d="M348.4,212.4 L346.5,215.6 L342.9,215.6 L341.0,212.4 L342.9,209.2 L346.5,209.2Z" fill="none" stroke="#d6f1cd" stroke-width=".9"/><circle cx="344.7" cy="212.4" r="1.9" fill="#abd99f"/><path d="M350.1,221.8 L347.4,226.5 L342.0,226.5 L339.3,221.8 L342.0,217.1 L347.4,217.1Z" fill="#c9ebbe" stroke="#98cc8c" stroke-width=".45"/><path d="M348.4,221.8 L346.5,225.0 L342.9,225.0 L341.0,221.8 L342.9,218.6 L346.5,218.6Z" fill="none" stroke="#d6f1cd" stroke-width=".9"/><circle cx="344.7" cy="221.8" r="1.9" fill="#abd99f"/><path d="M350.1,231.2 L347.4,235.9 L342.0,235.9 L339.3,231.2 L342.0,226.5 L347.4,226.5Z" fill="#c9ebbe" stroke="#98cc8c" stroke-width=".45"/><path d="M348.4,231.2 L346.5,234.4 L342.9,234.4 L341.0,231.2 L342.9,228.0 L346.5,228.0Z" fill="none" stroke="#d6f1cd" stroke-width=".9"/><circle cx="344.7" cy="231.2" r="1.9" fill="#abd99f"/><path d="M358.2,179.5 L355.5,184.2 L350.1,184.2 L347.4,179.5 L350.1,174.8 L355.5,174.8Z" fill="#c9ebbe" stroke="#98cc8c" stroke-width=".45"/><path d="M356.5,179.5 L354.6,182.7 L351.0,182.7 L349.1,179.5 L351.0,176.3 L354.6,176.3Z" fill="none" stroke="#d6f1cd" stroke-width=".9"/><circle cx="352.8" cy="179.5" r="1.9" fill="#abd99f"/><path d="M358.2,188.9 L355.5,193.6 L350.1,193.6 L347.4,188.9 L350.1,184.2 L355.5,184.2Z" fill="#c9ebbe" stroke="#98cc8c" stroke-width=".45"/><path d="M356.5,188.9 L354.6,192.1 L351.0,192.1 L349.1,188.9 L351.0,185.7 L354.6,185.7Z" fill="none" stroke="#d6f1cd" stroke-width=".9"/><circle cx="352.8" cy="188.9" r="1.9" fill="#abd99f"/><path d="M358.2,198.3 L355.5,203.0 L350.1,203.0 L347.4,198.3 L350.1,193.6 L355.5,193.6Z" fill="#c9ebbe" stroke="#98cc8c" stroke-width=".45"/><path d="M356.5,198.3 L354.6,201.5 L351.0,201.5 L349.1,198.3 L351.0,195.1 L354.6,195.1Z" fill="none" stroke="#d6f1cd" stroke-width=".9"/><circle cx="352.8" cy="198.3" r="1.9" fill="#abd99f"/><path d="M358.2,207.7 L355.5,212.4 L350.1,212.4 L347.4,207.7 L350.1,203.0 L355.5,203.0Z" fill="#c9ebbe" stroke="#98cc8c" stroke-width=".45"/><path d="M356.5,207.7 L354.6,210.9 L351.0,210.9 L349.1,207.7 L351.0,204.5 L354.6,204.5Z" fill="none" stroke="#d6f1cd" stroke-width=".9"/><circle cx="352.8" cy="207.7" r="1.9" fill="#abd99f"/><path d="M358.2,217.1 L355.5,221.8 L350.1,221.8 L347.4,217.1 L350.1,212.4 L355.5,212.4Z" fill="#c9ebbe" stroke="#98cc8c" stroke-width=".45"/><path d="M356.5,217.1 L354.6,220.3 L351.0,220.3 L349.1,217.1 L351.0,213.9 L354.6,213.9Z" fill="none" stroke="#d6f1cd" stroke-width=".9"/><circle cx="352.8" cy="217.1" r="1.9" fill="#abd99f"/><path d="M358.2,226.5 L355.5,231.2 L350.1,231.2 L347.4,226.5 L350.1,221.8 L355.5,221.8Z" fill="#c9ebbe" stroke="#98cc8c" stroke-width=".45"/><path d="M356.5,226.5 L354.6,229.7 L351.0,229.7 L349.1,226.5 L351.0,223.3 L354.6,223.3Z" fill="none" stroke="#d6f1cd" stroke-width=".9"/><circle cx="352.8" cy="226.5" r="1.9" fill="#abd99f"/><path d="M366.3,174.8 L363.6,179.5 L358.2,179.5 L355.5,174.8 L358.2,170.1 L363.6,170.1Z" fill="#c9ebbe" stroke="#98cc8c" stroke-width=".45"/><path d="M364.6,174.8 L362.7,178.0 L359.1,178.0 L357.2,174.8 L359.1,171.6 L362.7,171.6Z" fill="none" stroke="#d6f1cd" stroke-width=".9"/><circle cx="360.9" cy="174.8" r="1.9" fill="#abd99f"/><path d="M366.3,184.2 L363.6,188.9 L358.2,188.9 L355.5,184.2 L358.2,179.5 L363.6,179.5Z" fill="#c9ebbe" stroke="#98cc8c" stroke-width=".45"/><path d="M364.6,184.2 L362.7,187.4 L359.1,187.4 L357.2,184.2 L359.1,181.0 L362.7,181.0Z" fill="none" stroke="#d6f1cd" stroke-width=".9"/><circle cx="360.9" cy="184.2" r="1.9" fill="#abd99f"/><path d="M366.3,193.6 L363.6,198.3 L358.2,198.3 L355.5,193.6 L358.2,188.9 L363.6,188.9Z" fill="#c9ebbe" stroke="#98cc8c" stroke-width=".45"/><path d="M364.6,193.6 L362.7,196.8 L359.1,196.8 L357.2,193.6 L359.1,190.4 L362.7,190.4Z" fill="none" stroke="#d6f1cd" stroke-width=".9"/><circle cx="360.9" cy="193.6" r="1.9" fill="#abd99f"/><path d="M366.3,203.0 L363.6,207.7 L358.2,207.7 L355.5,203.0 L358.2,198.3 L363.6,198.3Z" fill="#c9ebbe" stroke="#98cc8c" stroke-width=".45"/><path d="M364.6,203.0 L362.7,206.2 L359.1,206.2 L357.2,203.0 L359.1,199.8 L362.7,199.8Z" fill="none" stroke="#d6f1cd" stroke-width=".9"/><circle cx="360.9" cy="203.0" r="1.9" fill="#abd99f"/><path d="M366.3,212.4 L363.6,217.1 L358.2,217.1 L355.5,212.4 L358.2,207.7 L363.6,207.7Z" fill="#c9ebbe" stroke="#98cc8c" stroke-width=".45"/><path d="M364.6,212.4 L362.7,215.6 L359.1,215.6 L357.2,212.4 L359.1,209.2 L362.7,209.2Z" fill="none" stroke="#d6f1cd" stroke-width=".9"/><circle cx="360.9" cy="212.4" r="1.9" fill="#abd99f"/><path d="M366.3,221.8 L363.6,226.5 L358.2,226.5 L355.5,221.8 L358.2,217.1 L363.6,217.1Z" fill="#c9ebbe" stroke="#98cc8c" stroke-width=".45"/><path d="M364.6,221.8 L362.7,225.0 L359.1,225.0 L357.2,221.8 L359.1,218.6 L362.7,218.6Z" fill="none" stroke="#d6f1cd" stroke-width=".9"/><circle cx="360.9" cy="221.8" r="1.9" fill="#abd99f"/><path d="M366.3,231.2 L363.6,235.9 L358.2,235.9 L355.5,231.2 L358.2,226.5 L363.6,226.5Z" fill="#c9ebbe" stroke="#98cc8c" stroke-width=".45"/><path d="M364.6,231.2 L362.7,234.4 L359.1,234.4 L357.2,231.2 L359.1,228.0 L362.7,228.0Z" fill="none" stroke="#d6f1cd" stroke-width=".9"/><circle cx="360.9" cy="231.2" r="1.9" fill="#abd99f"/><path d="M374.4,179.5 L371.7,184.2 L366.3,184.2 L363.6,179.5 L366.3,174.8 L371.7,174.8Z" fill="#c9ebbe" stroke="#98cc8c" stroke-width=".45"/><path d="M372.7,179.5 L370.8,182.7 L367.2,182.7 L365.3,179.5 L367.2,176.3 L370.8,176.3Z" fill="none" stroke="#d6f1cd" stroke-width=".9"/><circle cx="369.0" cy="179.5" r="1.9" fill="#abd99f"/><path d="M374.4,188.9 L371.7,193.6 L366.3,193.6 L363.6,188.9 L366.3,184.2 L371.7,184.2Z" fill="#c9ebbe" stroke="#98cc8c" stroke-width=".45"/><path d="M372.7,188.9 L370.8,192.1 L367.2,192.1 L365.3,188.9 L367.2,185.7 L370.8,185.7Z" fill="none" stroke="#d6f1cd" stroke-width=".9"/><circle cx="369.0" cy="188.9" r="1.9" fill="#abd99f"/><path d="M374.4,198.3 L371.7,203.0 L366.3,203.0 L363.6,198.3 L366.3,193.6 L371.7,193.6Z" fill="#c9ebbe" stroke="#98cc8c" stroke-width=".45"/><path d="M372.7,198.3 L370.8,201.5 L367.2,201.5 L365.3,198.3 L367.2,195.1 L370.8,195.1Z" fill="none" stroke="#d6f1cd" stroke-width=".9"/><circle cx="369.0" cy="198.3" r="1.9" fill="#abd99f"/><path d="M374.4,207.7 L371.7,212.4 L366.3,212.4 L363.6,207.7 L366.3,203.0 L371.7,203.0Z" fill="#c9ebbe" stroke="#98cc8c" stroke-width=".45"/><path d="M372.7,207.7 L370.8,210.9 L367.2,210.9 L365.3,207.7 L367.2,204.5 L370.8,204.5Z" fill="none" stroke="#d6f1cd" stroke-width=".9"/><circle cx="369.0" cy="207.7" r="1.9" fill="#abd99f"/><path d="M374.4,217.1 L371.7,221.8 L366.3,221.8 L363.6,217.1 L366.3,212.4 L371.7,212.4Z" fill="#c9ebbe" stroke="#98cc8c" stroke-width=".45"/><path d="M372.7,217.1 L370.8,220.3 L367.2,220.3 L365.3,217.1 L367.2,213.9 L370.8,213.9Z" fill="none" stroke="#d6f1cd" stroke-width=".9"/><circle cx="369.0" cy="217.1" r="1.9" fill="#abd99f"/><path d="M374.4,226.5 L371.7,231.2 L366.3,231.2 L363.6,226.5 L366.3,221.8 L371.7,221.8Z" fill="#c9ebbe" stroke="#98cc8c" stroke-width=".45"/><path d="M372.7,226.5 L370.8,229.7 L367.2,229.7 L365.3,226.5 L367.2,223.3 L370.8,223.3Z" fill="none" stroke="#d6f1cd" stroke-width=".9"/><circle cx="369.0" cy="226.5" r="1.9" fill="#abd99f"/><path d="M382.5,174.8 L379.8,179.5 L374.4,179.5 L371.7,174.8 L374.4,170.1 L379.8,170.1Z" fill="#c9ebbe" stroke="#98cc8c" stroke-width=".45"/><path d="M380.8,174.8 L378.9,178.0 L375.3,178.0 L373.4,174.8 L375.3,171.6 L378.9,171.6Z" fill="none" stroke="#d6f1cd" stroke-width=".9"/><circle cx="377.1" cy="174.8" r="1.9" fill="#abd99f"/><path d="M382.5,184.2 L379.8,188.9 L374.4,188.9 L371.7,184.2 L374.4,179.5 L379.8,179.5Z" fill="#c9ebbe" stroke="#98cc8c" stroke-width=".45"/><path d="M380.8,184.2 L378.9,187.4 L375.3,187.4 L373.4,184.2 L375.3,181.0 L378.9,181.0Z" fill="none" stroke="#d6f1cd" stroke-width=".9"/><circle cx="377.1" cy="184.2" r="1.9" fill="#abd99f"/><path d="M382.5,193.6 L379.8,198.3 L374.4,198.3 L371.7,193.6 L374.4,188.9 L379.8,188.9Z" fill="#c9ebbe" stroke="#98cc8c" stroke-width=".45"/><path d="M380.8,193.6 L378.9,196.8 L375.3,196.8 L373.4,193.6 L375.3,190.4 L378.9,190.4Z" fill="none" stroke="#d6f1cd" stroke-width=".9"/><circle cx="377.1" cy="193.6" r="1.9" fill="#abd99f"/><path d="M382.5,203.0 L379.8,207.7 L374.4,207.7 L371.7,203.0 L374.4,198.3 L379.8,198.3Z" fill="#c9ebbe" stroke="#98cc8c" stroke-width=".45"/><path d="M380.8,203.0 L378.9,206.2 L375.3,206.2 L373.4,203.0 L375.3,199.8 L378.9,199.8Z" fill="none" stroke="#d6f1cd" stroke-width=".9"/><circle cx="377.1" cy="203.0" r="1.9" fill="#abd99f"/><path d="M382.5,212.4 L379.8,217.1 L374.4,217.1 L371.7,212.4 L374.4,207.7 L379.8,207.7Z" fill="#c9ebbe" stroke="#98cc8c" stroke-width=".45"/><path d="M380.8,212.4 L378.9,215.6 L375.3,215.6 L373.4,212.4 L375.3,209.2 L378.9,209.2Z" fill="none" stroke="#d6f1cd" stroke-width=".9"/><circle cx="377.1" cy="212.4" r="1.9" fill="#abd99f"/><path d="M382.5,221.8 L379.8,226.5 L374.4,226.5 L371.7,221.8 L374.4,217.1 L379.8,217.1Z" fill="#c9ebbe" stroke="#98cc8c" stroke-width=".45"/><path d="M380.8,221.8 L378.9,225.0 L375.3,225.0 L373.4,221.8 L375.3,218.6 L378.9,218.6Z" fill="none" stroke="#d6f1cd" stroke-width=".9"/><circle cx="377.1" cy="221.8" r="1.9" fill="#abd99f"/><path d="M382.5,231.2 L379.8,235.9 L374.4,235.9 L371.7,231.2 L374.4,226.5 L379.8,226.5Z" fill="#c9ebbe" stroke="#98cc8c" stroke-width=".45"/><path d="M380.8,231.2 L378.9,234.4 L375.3,234.4 L373.4,231.2 L375.3,228.0 L378.9,228.0Z" fill="none" stroke="#d6f1cd" stroke-width=".9"/><circle cx="377.1" cy="231.2" r="1.9" fill="#abd99f"/><path d="M390.6,179.5 L387.9,184.2 L382.5,184.2 L379.8,179.5 L382.5,174.8 L387.9,174.8Z" fill="#c9ebbe" stroke="#98cc8c" stroke-width=".45"/><path d="M388.9,179.5 L387.0,182.7 L383.4,182.7 L381.5,179.5 L383.4,176.3 L387.0,176.3Z" fill="none" stroke="#d6f1cd" stroke-width=".9"/><circle cx="385.2" cy="179.5" r="1.9" fill="#abd99f"/><path d="M390.6,188.9 L387.9,193.6 L382.5,193.6 L379.8,188.9 L382.5,184.2 L387.9,184.2Z" fill="#c9ebbe" stroke="#98cc8c" stroke-width=".45"/><path d="M388.9,188.9 L387.0,192.1 L383.4,192.1 L381.5,188.9 L383.4,185.7 L387.0,185.7Z" fill="none" stroke="#d6f1cd" stroke-width=".9"/><circle cx="385.2" cy="188.9" r="1.9" fill="#abd99f"/><path d="M390.6,198.3 L387.9,203.0 L382.5,203.0 L379.8,198.3 L382.5,193.6 L387.9,193.6Z" fill="#c9ebbe" stroke="#98cc8c" stroke-width=".45"/><path d="M388.9,198.3 L387.0,201.5 L383.4,201.5 L381.5,198.3 L383.4,195.1 L387.0,195.1Z" fill="none" stroke="#d6f1cd" stroke-width=".9"/><circle cx="385.2" cy="198.3" r="1.9" fill="#abd99f"/><path d="M390.6,207.7 L387.9,212.4 L382.5,212.4 L379.8,207.7 L382.5,203.0 L387.9,203.0Z" fill="#c9ebbe" stroke="#98cc8c" stroke-width=".45"/><path d="M388.9,207.7 L387.0,210.9 L383.4,210.9 L381.5,207.7 L383.4,204.5 L387.0,204.5Z" fill="none" stroke="#d6f1cd" stroke-width=".9"/><circle cx="385.2" cy="207.7" r="1.9" fill="#abd99f"/><path d="M390.6,217.1 L387.9,221.8 L382.5,221.8 L379.8,217.1 L382.5,212.4 L387.9,212.4Z" fill="#c9ebbe" stroke="#98cc8c" stroke-width=".45"/><path d="M388.9,217.1 L387.0,220.3 L383.4,220.3 L381.5,217.1 L383.4,213.9 L387.0,213.9Z" fill="none" stroke="#d6f1cd" stroke-width=".9"/><circle cx="385.2" cy="217.1" r="1.9" fill="#abd99f"/><path d="M390.6,226.5 L387.9,231.2 L382.5,231.2 L379.8,226.5 L382.5,221.8 L387.9,221.8Z" fill="#c9ebbe" stroke="#98cc8c" stroke-width=".45"/><path d="M388.9,226.5 L387.0,229.7 L383.4,229.7 L381.5,226.5 L383.4,223.3 L387.0,223.3Z" fill="none" stroke="#d6f1cd" stroke-width=".9"/><circle cx="385.2" cy="226.5" r="1.9" fill="#abd99f"/></g>
<g clip-path="url(#cph4)"><rect x="345.9" y="187.8" width="47.8" height="47.8" fill="#d0a2e1"/><path d="M351.3,187.8 L348.6,192.5 L343.2,192.5 L340.5,187.8 L343.2,183.1 L348.6,183.1Z" fill="#d0a2e1" stroke="#e2c8f0" stroke-width=".45"/><path d="M349.6,187.8 L347.7,191.0 L344.1,191.0 L342.2,187.8 L344.1,184.6 L347.7,184.6Z" fill="none" stroke="#d6aee8" stroke-width=".9"/><circle cx="345.9" cy="187.8" r="1.9" fill="#b982d4"/><path d="M351.3,197.2 L348.6,201.9 L343.2,201.9 L340.5,197.2 L343.2,192.5 L348.6,192.5Z" fill="#8c4ca6" stroke="#a670be" stroke-width=".45"/><path d="M349.6,197.2 L347.7,200.4 L344.1,200.4 L342.2,197.2 L344.1,194.0 L347.7,194.0Z" fill="none" stroke="#9c5eb6" stroke-width=".9"/><circle cx="345.9" cy="197.2" r="1.9" fill="#76368f"/><path d="M351.3,206.6 L348.6,211.3 L343.2,211.3 L340.5,206.6 L343.2,201.9 L348.6,201.9Z" fill="#d0a2e1" stroke="#e2c8f0" stroke-width=".45"/><path d="M349.6,206.6 L347.7,209.8 L344.1,209.8 L342.2,206.6 L344.1,203.4 L347.7,203.4Z" fill="none" stroke="#d6aee8" stroke-width=".9"/><circle cx="345.9" cy="206.6" r="1.9" fill="#b982d4"/><path d="M351.3,216.0 L348.6,220.7 L343.2,220.7 L340.5,216.0 L343.2,211.3 L348.6,211.3Z" fill="#d0a2e1" stroke="#e2c8f0" stroke-width=".45"/><path d="M349.6,216.0 L347.7,219.2 L344.1,219.2 L342.2,216.0 L344.1,212.8 L347.7,212.8Z" fill="none" stroke="#d6aee8" stroke-width=".9"/><circle cx="345.9" cy="216.0" r="1.9" fill="#b982d4"/><path d="M351.3,225.4 L348.6,230.1 L343.2,230.1 L340.5,225.4 L343.2,220.7 L348.6,220.7Z" fill="#d0a2e1" stroke="#e2c8f0" stroke-width=".45"/><path d="M349.6,225.4 L347.7,228.6 L344.1,228.6 L342.2,225.4 L344.1,222.2 L347.7,222.2Z" fill="none" stroke="#d6aee8" stroke-width=".9"/><circle cx="345.9" cy="225.4" r="1.9" fill="#b982d4"/><path d="M351.3,234.8 L348.6,239.5 L343.2,239.5 L340.5,234.8 L343.2,230.1 L348.6,230.1Z" fill="#8c4ca6" stroke="#a670be" stroke-width=".45"/><path d="M349.6,234.8 L347.7,238.0 L344.1,238.0 L342.2,234.8 L344.1,231.6 L347.7,231.6Z" fill="none" stroke="#9c5eb6" stroke-width=".9"/><circle cx="345.9" cy="234.8" r="1.9" fill="#76368f"/><path d="M359.4,183.1 L356.7,187.8 L351.3,187.8 L348.6,183.1 L351.3,178.4 L356.7,178.4Z" fill="#d0a2e1" stroke="#e2c8f0" stroke-width=".45"/><path d="M357.7,183.1 L355.8,186.3 L352.2,186.3 L350.3,183.1 L352.2,179.9 L355.8,179.9Z" fill="none" stroke="#d6aee8" stroke-width=".9"/><circle cx="354.0" cy="183.1" r="1.9" fill="#b982d4"/><path d="M359.4,192.5 L356.7,197.2 L351.3,197.2 L348.6,192.5 L351.3,187.8 L356.7,187.8Z" fill="#d0a2e1" stroke="#e2c8f0" stroke-width=".45"/><path d="M357.7,192.5 L355.8,195.7 L352.2,195.7 L350.3,192.5 L352.2,189.3 L355.8,189.3Z" fill="none" stroke="#d6aee8" stroke-width=".9"/><circle cx="354.0" cy="192.5" r="1.9" fill="#b982d4"/><path d="M359.4,201.9 L356.7,206.6 L351.3,206.6 L348.6,201.9 L351.3,197.2 L356.7,197.2Z" fill="#d0a2e1" stroke="#e2c8f0" stroke-width=".45"/><path d="M357.7,201.9 L355.8,205.1 L352.2,205.1 L350.3,201.9 L352.2,198.7 L355.8,198.7Z" fill="none" stroke="#d6aee8" stroke-width=".9"/><circle cx="354.0" cy="201.9" r="1.9" fill="#b982d4"/><path d="M359.4,211.3 L356.7,216.0 L351.3,216.0 L348.6,211.3 L351.3,206.6 L356.7,206.6Z" fill="#8c4ca6" stroke="#a670be" stroke-width=".45"/><path d="M357.7,211.3 L355.8,214.5 L352.2,214.5 L350.3,211.3 L352.2,208.1 L355.8,208.1Z" fill="none" stroke="#9c5eb6" stroke-width=".9"/><circle cx="354.0" cy="211.3" r="1.9" fill="#76368f"/><path d="M359.4,220.7 L356.7,225.4 L351.3,225.4 L348.6,220.7 L351.3,216.0 L356.7,216.0Z" fill="#d0a2e1" stroke="#e2c8f0" stroke-width=".45"/><path d="M357.7,220.7 L355.8,223.9 L352.2,223.9 L350.3,220.7 L352.2,217.5 L355.8,217.5Z" fill="none" stroke="#d6aee8" stroke-width=".9"/><circle cx="354.0" cy="220.7" r="1.9" fill="#b982d4"/><path d="M359.4,230.1 L356.7,234.8 L351.3,234.8 L348.6,230.1 L351.3,225.4 L356.7,225.4Z" fill="#d0a2e1" stroke="#e2c8f0" stroke-width=".45"/><path d="M357.7,230.1 L355.8,233.3 L352.2,233.3 L350.3,230.1 L352.2,226.9 L355.8,226.9Z" fill="none" stroke="#d6aee8" stroke-width=".9"/><circle cx="354.0" cy="230.1" r="1.9" fill="#b982d4"/><path d="M359.4,239.5 L356.7,244.2 L351.3,244.2 L348.6,239.5 L351.3,234.8 L356.7,234.8Z" fill="#d0a2e1" stroke="#e2c8f0" stroke-width=".45"/><path d="M357.7,239.5 L355.8,242.7 L352.2,242.7 L350.3,239.5 L352.2,236.3 L355.8,236.3Z" fill="none" stroke="#d6aee8" stroke-width=".9"/><circle cx="354.0" cy="239.5" r="1.9" fill="#b982d4"/><path d="M367.5,187.8 L364.8,192.5 L359.4,192.5 L356.7,187.8 L359.4,183.1 L364.8,183.1Z" fill="#8c4ca6" stroke="#a670be" stroke-width=".45"/><path d="M365.8,187.8 L363.9,191.0 L360.3,191.0 L358.4,187.8 L360.3,184.6 L363.9,184.6Z" fill="none" stroke="#9c5eb6" stroke-width=".9"/><circle cx="362.1" cy="187.8" r="1.9" fill="#76368f"/><path d="M367.5,197.2 L364.8,201.9 L359.4,201.9 L356.7,197.2 L359.4,192.5 L364.8,192.5Z" fill="#d0a2e1" stroke="#e2c8f0" stroke-width=".45"/><path d="M365.8,197.2 L363.9,200.4 L360.3,200.4 L358.4,197.2 L360.3,194.0 L363.9,194.0Z" fill="none" stroke="#d6aee8" stroke-width=".9"/><circle cx="362.1" cy="197.2" r="1.9" fill="#b982d4"/><path d="M367.5,206.6 L364.8,211.3 L359.4,211.3 L356.7,206.6 L359.4,201.9 L364.8,201.9Z" fill="#d0a2e1" stroke="#e2c8f0" stroke-width=".45"/><path d="M365.8,206.6 L363.9,209.8 L360.3,209.8 L358.4,206.6 L360.3,203.4 L363.9,203.4Z" fill="none" stroke="#d6aee8" stroke-width=".9"/><circle cx="362.1" cy="206.6" r="1.9" fill="#b982d4"/><path d="M367.5,216.0 L364.8,220.7 L359.4,220.7 L356.7,216.0 L359.4,211.3 L364.8,211.3Z" fill="#d0a2e1" stroke="#e2c8f0" stroke-width=".45"/><path d="M365.8,216.0 L363.9,219.2 L360.3,219.2 L358.4,216.0 L360.3,212.8 L363.9,212.8Z" fill="none" stroke="#d6aee8" stroke-width=".9"/><circle cx="362.1" cy="216.0" r="1.9" fill="#b982d4"/><path d="M367.5,225.4 L364.8,230.1 L359.4,230.1 L356.7,225.4 L359.4,220.7 L364.8,220.7Z" fill="#8c4ca6" stroke="#a670be" stroke-width=".45"/><path d="M365.8,225.4 L363.9,228.6 L360.3,228.6 L358.4,225.4 L360.3,222.2 L363.9,222.2Z" fill="none" stroke="#9c5eb6" stroke-width=".9"/><circle cx="362.1" cy="225.4" r="1.9" fill="#76368f"/><path d="M367.5,234.8 L364.8,239.5 L359.4,239.5 L356.7,234.8 L359.4,230.1 L364.8,230.1Z" fill="#d0a2e1" stroke="#e2c8f0" stroke-width=".45"/><path d="M365.8,234.8 L363.9,238.0 L360.3,238.0 L358.4,234.8 L360.3,231.6 L363.9,231.6Z" fill="none" stroke="#d6aee8" stroke-width=".9"/><circle cx="362.1" cy="234.8" r="1.9" fill="#b982d4"/><path d="M375.6,183.1 L372.9,187.8 L367.5,187.8 L364.8,183.1 L367.5,178.4 L372.9,178.4Z" fill="#d0a2e1" stroke="#e2c8f0" stroke-width=".45"/><path d="M373.9,183.1 L372.0,186.3 L368.4,186.3 L366.5,183.1 L368.4,179.9 L372.0,179.9Z" fill="none" stroke="#d6aee8" stroke-width=".9"/><circle cx="370.2" cy="183.1" r="1.9" fill="#b982d4"/><path d="M375.6,192.5 L372.9,197.2 L367.5,197.2 L364.8,192.5 L367.5,187.8 L372.9,187.8Z" fill="#d0a2e1" stroke="#e2c8f0" stroke-width=".45"/><path d="M373.9,192.5 L372.0,195.7 L368.4,195.7 L366.5,192.5 L368.4,189.3 L372.0,189.3Z" fill="none" stroke="#d6aee8" stroke-width=".9"/><circle cx="370.2" cy="192.5" r="1.9" fill="#b982d4"/><path d="M375.6,201.9 L372.9,206.6 L367.5,206.6 L364.8,201.9 L367.5,197.2 L372.9,197.2Z" fill="#8c4ca6" stroke="#a670be" stroke-width=".45"/><path d="M373.9,201.9 L372.0,205.1 L368.4,205.1 L366.5,201.9 L368.4,198.7 L372.0,198.7Z" fill="none" stroke="#9c5eb6" stroke-width=".9"/><circle cx="370.2" cy="201.9" r="1.9" fill="#76368f"/><path d="M375.6,211.3 L372.9,216.0 L367.5,216.0 L364.8,211.3 L367.5,206.6 L372.9,206.6Z" fill="#d0a2e1" stroke="#e2c8f0" stroke-width=".45"/><path d="M373.9,211.3 L372.0,214.5 L368.4,214.5 L366.5,211.3 L368.4,208.1 L372.0,208.1Z" fill="none" stroke="#d6aee8" stroke-width=".9"/><circle cx="370.2" cy="211.3" r="1.9" fill="#b982d4"/><path d="M375.6,220.7 L372.9,225.4 L367.5,225.4 L364.8,220.7 L367.5,216.0 L372.9,216.0Z" fill="#a262ba" stroke="#b683ca" stroke-width=".45"/><path d="M373.9,220.7 L372.0,223.9 L368.4,223.9 L366.5,220.7 L368.4,217.5 L372.0,217.5Z" fill="none" stroke="#b074c6" stroke-width=".9"/><circle cx="370.2" cy="220.7" r="1.9" fill="#8846a2"/><path d="M375.6,230.1 L372.9,234.8 L367.5,234.8 L364.8,230.1 L367.5,225.4 L372.9,225.4Z" fill="#d0a2e1" stroke="#e2c8f0" stroke-width=".45"/><path d="M373.9,230.1 L372.0,233.3 L368.4,233.3 L366.5,230.1 L368.4,226.9 L372.0,226.9Z" fill="none" stroke="#d6aee8" stroke-width=".9"/><circle cx="370.2" cy="230.1" r="1.9" fill="#b982d4"/><path d="M375.6,239.5 L372.9,244.2 L367.5,244.2 L364.8,239.5 L367.5,234.8 L372.9,234.8Z" fill="#d0a2e1" stroke="#e2c8f0" stroke-width=".45"/><path d="M373.9,239.5 L372.0,242.7 L368.4,242.7 L366.5,239.5 L368.4,236.3 L372.0,236.3Z" fill="none" stroke="#d6aee8" stroke-width=".9"/><circle cx="370.2" cy="239.5" r="1.9" fill="#b982d4"/><path d="M383.7,187.8 L381.0,192.5 L375.6,192.5 L372.9,187.8 L375.6,183.1 L381.0,183.1Z" fill="#8c4ca6" stroke="#a670be" stroke-width=".45"/><path d="M382.0,187.8 L380.1,191.0 L376.5,191.0 L374.6,187.8 L376.5,184.6 L380.1,184.6Z" fill="none" stroke="#9c5eb6" stroke-width=".9"/><circle cx="378.3" cy="187.8" r="1.9" fill="#76368f"/><path d="M383.7,197.2 L381.0,201.9 L375.6,201.9 L372.9,197.2 L375.6,192.5 L381.0,192.5Z" fill="#d0a2e1" stroke="#e2c8f0" stroke-width=".45"/><path d="M382.0,197.2 L380.1,200.4 L376.5,200.4 L374.6,197.2 L376.5,194.0 L380.1,194.0Z" fill="none" stroke="#d6aee8" stroke-width=".9"/><circle cx="378.3" cy="197.2" r="1.9" fill="#b982d4"/><path d="M383.7,206.6 L381.0,211.3 L375.6,211.3 L372.9,206.6 L375.6,201.9 L381.0,201.9Z" fill="#d0a2e1" stroke="#e2c8f0" stroke-width=".45"/><path d="M382.0,206.6 L380.1,209.8 L376.5,209.8 L374.6,206.6 L376.5,203.4 L380.1,203.4Z" fill="none" stroke="#d6aee8" stroke-width=".9"/><circle cx="378.3" cy="206.6" r="1.9" fill="#b982d4"/><path d="M383.7,216.0 L381.0,220.7 L375.6,220.7 L372.9,216.0 L375.6,211.3 L381.0,211.3Z" fill="#d0a2e1" stroke="#e2c8f0" stroke-width=".45"/><path d="M382.0,216.0 L380.1,219.2 L376.5,219.2 L374.6,216.0 L376.5,212.8 L380.1,212.8Z" fill="none" stroke="#d6aee8" stroke-width=".9"/><circle cx="378.3" cy="216.0" r="1.9" fill="#b982d4"/><path d="M383.7,225.4 L381.0,230.1 L375.6,230.1 L372.9,225.4 L375.6,220.7 L381.0,220.7Z" fill="#8c4ca6" stroke="#a670be" stroke-width=".45"/><path d="M382.0,225.4 L380.1,228.6 L376.5,228.6 L374.6,225.4 L376.5,222.2 L380.1,222.2Z" fill="none" stroke="#9c5eb6" stroke-width=".9"/><circle cx="378.3" cy="225.4" r="1.9" fill="#76368f"/><path d="M383.7,234.8 L381.0,239.5 L375.6,239.5 L372.9,234.8 L375.6,230.1 L381.0,230.1Z" fill="#d0a2e1" stroke="#e2c8f0" stroke-width=".45"/><path d="M382.0,234.8 L380.1,238.0 L376.5,238.0 L374.6,234.8 L376.5,231.6 L380.1,231.6Z" fill="none" stroke="#d6aee8" stroke-width=".9"/><circle cx="378.3" cy="234.8" r="1.9" fill="#b982d4"/><path d="M391.8,183.1 L389.1,187.8 L383.7,187.8 L381.0,183.1 L383.7,178.4 L389.1,178.4Z" fill="#d0a2e1" stroke="#e2c8f0" stroke-width=".45"/><path d="M390.1,183.1 L388.2,186.3 L384.6,186.3 L382.7,183.1 L384.6,179.9 L388.2,179.9Z" fill="none" stroke="#d6aee8" stroke-width=".9"/><circle cx="386.4" cy="183.1" r="1.9" fill="#b982d4"/><path d="M391.8,192.5 L389.1,197.2 L383.7,197.2 L381.0,192.5 L383.7,187.8 L389.1,187.8Z" fill="#d0a2e1" stroke="#e2c8f0" stroke-width=".45"/><path d="M390.1,192.5 L388.2,195.7 L384.6,195.7 L382.7,192.5 L384.6,189.3 L388.2,189.3Z" fill="none" stroke="#d6aee8" stroke-width=".9"/><circle cx="386.4" cy="192.5" r="1.9" fill="#b982d4"/><path d="M391.8,201.9 L389.1,206.6 L383.7,206.6 L381.0,201.9 L383.7,197.2 L389.1,197.2Z" fill="#d0a2e1" stroke="#e2c8f0" stroke-width=".45"/><path d="M390.1,201.9 L388.2,205.1 L384.6,205.1 L382.7,201.9 L384.6,198.7 L388.2,198.7Z" fill="none" stroke="#d6aee8" stroke-width=".9"/><circle cx="386.4" cy="201.9" r="1.9" fill="#b982d4"/><path d="M391.8,211.3 L389.1,216.0 L383.7,216.0 L381.0,211.3 L383.7,206.6 L389.1,206.6Z" fill="#d0a2e1" stroke="#e2c8f0" stroke-width=".45"/><path d="M390.1,211.3 L388.2,214.5 L384.6,214.5 L382.7,211.3 L384.6,208.1 L388.2,208.1Z" fill="none" stroke="#d6aee8" stroke-width=".9"/><circle cx="386.4" cy="211.3" r="1.9" fill="#b982d4"/><path d="M391.8,220.7 L389.1,225.4 L383.7,225.4 L381.0,220.7 L383.7,216.0 L389.1,216.0Z" fill="#d0a2e1" stroke="#e2c8f0" stroke-width=".45"/><path d="M390.1,220.7 L388.2,223.9 L384.6,223.9 L382.7,220.7 L384.6,217.5 L388.2,217.5Z" fill="none" stroke="#d6aee8" stroke-width=".9"/><circle cx="386.4" cy="220.7" r="1.9" fill="#b982d4"/><path d="M391.8,230.1 L389.1,234.8 L383.7,234.8 L381.0,230.1 L383.7,225.4 L389.1,225.4Z" fill="#8644a0" stroke="#9c62b4" stroke-width=".45"/><path d="M390.1,230.1 L388.2,233.3 L384.6,233.3 L382.7,230.1 L384.6,226.9 L388.2,226.9Z" fill="none" stroke="#9456ae" stroke-width=".9"/><circle cx="386.4" cy="230.1" r="1.9" fill="#6a2c84"/><path d="M391.8,239.5 L389.1,244.2 L383.7,244.2 L381.0,239.5 L383.7,234.8 L389.1,234.8Z" fill="#d0a2e1" stroke="#e2c8f0" stroke-width=".45"/><path d="M390.1,239.5 L388.2,242.7 L384.6,242.7 L382.7,239.5 L384.6,236.3 L388.2,236.3Z" fill="none" stroke="#d6aee8" stroke-width=".9"/><circle cx="386.4" cy="239.5" r="1.9" fill="#b982d4"/><path d="M399.9,187.8 L397.2,192.5 L391.8,192.5 L389.1,187.8 L391.8,183.1 L397.2,183.1Z" fill="#d0a2e1" stroke="#e2c8f0" stroke-width=".45"/><path d="M398.2,187.8 L396.3,191.0 L392.7,191.0 L390.8,187.8 L392.7,184.6 L396.3,184.6Z" fill="none" stroke="#d6aee8" stroke-width=".9"/><circle cx="394.5" cy="187.8" r="1.9" fill="#b982d4"/><path d="M399.9,197.2 L397.2,201.9 L391.8,201.9 L389.1,197.2 L391.8,192.5 L397.2,192.5Z" fill="#a262ba" stroke="#b683ca" stroke-width=".45"/><path d="M398.2,197.2 L396.3,200.4 L392.7,200.4 L390.8,197.2 L392.7,194.0 L396.3,194.0Z" fill="none" stroke="#b074c6" stroke-width=".9"/><circle cx="394.5" cy="197.2" r="1.9" fill="#8846a2"/><path d="M399.9,206.6 L397.2,211.3 L391.8,211.3 L389.1,206.6 L391.8,201.9 L397.2,201.9Z" fill="#d0a2e1" stroke="#e2c8f0" stroke-width=".45"/><path d="M398.2,206.6 L396.3,209.8 L392.7,209.8 L390.8,206.6 L392.7,203.4 L396.3,203.4Z" fill="none" stroke="#d6aee8" stroke-width=".9"/><circle cx="394.5" cy="206.6" r="1.9" fill="#b982d4"/><path d="M399.9,216.0 L397.2,220.7 L391.8,220.7 L389.1,216.0 L391.8,211.3 L397.2,211.3Z" fill="#d0a2e1" stroke="#e2c8f0" stroke-width=".45"/><path d="M398.2,216.0 L396.3,219.2 L392.7,219.2 L390.8,216.0 L392.7,212.8 L396.3,212.8Z" fill="none" stroke="#d6aee8" stroke-width=".9"/><circle cx="394.5" cy="216.0" r="1.9" fill="#b982d4"/><path d="M399.9,225.4 L397.2,230.1 L391.8,230.1 L389.1,225.4 L391.8,220.7 L397.2,220.7Z" fill="#d0a2e1" stroke="#e2c8f0" stroke-width=".45"/><path d="M398.2,225.4 L396.3,228.6 L392.7,228.6 L390.8,225.4 L392.7,222.2 L396.3,222.2Z" fill="none" stroke="#d6aee8" stroke-width=".9"/><circle cx="394.5" cy="225.4" r="1.9" fill="#b982d4"/><path d="M399.9,234.8 L397.2,239.5 L391.8,239.5 L389.1,234.8 L391.8,230.1 L397.2,230.1Z" fill="#d0a2e1" stroke="#e2c8f0" stroke-width=".45"/><path d="M398.2,234.8 L396.3,238.0 L392.7,238.0 L390.8,234.8 L392.7,231.6 L396.3,231.6Z" fill="none" stroke="#d6aee8" stroke-width=".9"/><circle cx="394.5" cy="234.8" r="1.9" fill="#b982d4"/></g>
<rect x="402.60" y="159.00" width="15.80" height="81.70" fill="#f5f5fd" stroke="#6583cd" stroke-width="1.35" stroke-dasharray="1.2 1.35" rx="7.9"/>
<text x="412.9" y="199.8" font-size="7.6" text-anchor="middle" fill="#1c1c1c" transform="rotate(-90 412.9 199.8)">Purity, cell types, ...</text>
<line x1="418.40" y1="199.90" x2="430.00" y2="199.90" stroke="#111" stroke-width="2.0"/>
<path d="M427.4,196.6 L435.2,199.9 L427.4,203.2 L429.2,199.9Z" fill="#111"/>
<line x1="438.40" y1="162.60" x2="438.40" y2="234.60" stroke="#666" stroke-width="0.6"/>
<line x1="438.20" y1="234.40" x2="506.20" y2="234.40" stroke="#666" stroke-width="0.6"/>
<line x1="461.50" y1="162.60" x2="461.50" y2="234.40" stroke="#777" stroke-width="0.5"/>
<line x1="485.20" y1="162.60" x2="485.20" y2="234.40" stroke="#777" stroke-width="0.5"/>
<circle cx="461.46" cy="185.65" r="1.30" fill="#cf4747" stroke="none" stroke-width="1"/>
<circle cx="458.75" cy="195.95" r="1.30" fill="#cf4747" stroke="none" stroke-width="1"/>
<circle cx="466.07" cy="195.95" r="1.30" fill="#cf4747" stroke="none" stroke-width="1"/>
<circle cx="451.17" cy="205.43" r="1.30" fill="#cf4747" stroke="none" stroke-width="1"/>
<circle cx="461.46" cy="205.16" r="1.30" fill="#cf4747" stroke="none" stroke-width="1"/>
<circle cx="461.46" cy="210.04" r="1.30" fill="#cf4747" stroke="none" stroke-width="1"/>
<circle cx="463.36" cy="210.85" r="1.30" fill="#cf4747" stroke="none" stroke-width="1"/>
<circle cx="468.24" cy="212.75" r="1.30" fill="#cf4747" stroke="none" stroke-width="1"/>
<circle cx="457.94" cy="214.11" r="1.30" fill="#cf4747" stroke="none" stroke-width="1"/>
<circle cx="461.46" cy="216.00" r="1.30" fill="#cf4747" stroke="none" stroke-width="1"/>
<circle cx="461.46" cy="218.17" r="1.30" fill="#cf4747" stroke="none" stroke-width="1"/>
<circle cx="453.33" cy="220.07" r="1.30" fill="#cf4747" stroke="none" stroke-width="1"/>
<circle cx="464.72" cy="220.07" r="1.30" fill="#cf4747" stroke="none" stroke-width="1"/>
<circle cx="457.94" cy="222.24" r="1.30" fill="#cf4747" stroke="none" stroke-width="1"/>
<circle cx="461.46" cy="222.24" r="1.30" fill="#cf4747" stroke="none" stroke-width="1"/>
<circle cx="468.24" cy="222.24" r="1.30" fill="#cf4747" stroke="none" stroke-width="1"/>
<circle cx="460.11" cy="225.49" r="1.30" fill="#cf4747" stroke="none" stroke-width="1"/>
<circle cx="464.17" cy="224.13" r="1.30" fill="#cf4747" stroke="none" stroke-width="1"/>
<circle cx="455.23" cy="226.30" r="1.30" fill="#cf4747" stroke="none" stroke-width="1"/>
<circle cx="467.43" cy="226.84" r="1.30" fill="#cf4747" stroke="none" stroke-width="1"/>
<circle cx="459.30" cy="228.20" r="1.30" fill="#cf4747" stroke="none" stroke-width="1"/>
<circle cx="463.36" cy="228.20" r="1.30" fill="#cf4747" stroke="none" stroke-width="1"/>
<circle cx="451.98" cy="229.55" r="1.30" fill="#cf4747" stroke="none" stroke-width="1"/>
<circle cx="457.13" cy="230.37" r="1.30" fill="#cf4747" stroke="none" stroke-width="1"/>
<circle cx="461.46" cy="230.37" r="1.30" fill="#cf4747" stroke="none" stroke-width="1"/>
<circle cx="466.07" cy="229.55" r="1.30" fill="#cf4747" stroke="none" stroke-width="1"/>
<circle cx="447.10" cy="232.26" r="1.30" fill="#cf4747" stroke="none" stroke-width="1"/>
<circle cx="456.04" cy="232.26" r="1.30" fill="#cf4747" stroke="none" stroke-width="1"/>
<circle cx="459.30" cy="232.26" r="1.30" fill="#cf4747" stroke="none" stroke-width="1"/>
<circle cx="462.55" cy="232.26" r="1.30" fill="#cf4747" stroke="none" stroke-width="1"/>
<circle cx="464.72" cy="232.26" r="1.30" fill="#cf4747" stroke="none" stroke-width="1"/>
<circle cx="470.68" cy="232.26" r="1.30" fill="#cf4747" stroke="none" stroke-width="1"/>
<circle cx="485.04" cy="176.98" r="1.30" fill="#cf4747" stroke="none" stroke-width="1"/>
<circle cx="485.04" cy="185.65" r="1.30" fill="#cf4747" stroke="none" stroke-width="1"/>
<circle cx="488.29" cy="196.49" r="1.30" fill="#cf4747" stroke="none" stroke-width="1"/>
<circle cx="482.87" cy="200.56" r="1.30" fill="#cf4747" stroke="none" stroke-width="1"/>
<circle cx="485.85" cy="203.27" r="1.30" fill="#cf4747" stroke="none" stroke-width="1"/>
<circle cx="480.16" cy="207.87" r="1.30" fill="#cf4747" stroke="none" stroke-width="1"/>
<circle cx="486.94" cy="210.04" r="1.30" fill="#cf4747" stroke="none" stroke-width="1"/>
<circle cx="477.72" cy="216.00" r="1.30" fill="#cf4747" stroke="none" stroke-width="1"/>
<circle cx="484.23" cy="216.82" r="1.30" fill="#cf4747" stroke="none" stroke-width="1"/>
<circle cx="488.56" cy="216.00" r="1.30" fill="#cf4747" stroke="none" stroke-width="1"/>
<circle cx="480.98" cy="219.53" r="1.30" fill="#cf4747" stroke="none" stroke-width="1"/>
<circle cx="487.75" cy="220.07" r="1.30" fill="#cf4747" stroke="none" stroke-width="1"/>
<circle cx="492.63" cy="220.88" r="1.30" fill="#cf4747" stroke="none" stroke-width="1"/>
<circle cx="485.04" cy="222.24" r="1.30" fill="#cf4747" stroke="none" stroke-width="1"/>
<circle cx="480.16" cy="224.13" r="1.30" fill="#cf4747" stroke="none" stroke-width="1"/>
<circle cx="489.11" cy="224.13" r="1.30" fill="#cf4747" stroke="none" stroke-width="1"/>
<circle cx="494.53" cy="224.95" r="1.30" fill="#cf4747" stroke="none" stroke-width="1"/>
<circle cx="483.69" cy="226.30" r="1.30" fill="#cf4747" stroke="none" stroke-width="1"/>
<circle cx="491.82" cy="226.84" r="1.30" fill="#cf4747" stroke="none" stroke-width="1"/>
<circle cx="480.98" cy="229.01" r="1.30" fill="#cf4747" stroke="none" stroke-width="1"/>
<circle cx="486.40" cy="229.01" r="1.30" fill="#cf4747" stroke="none" stroke-width="1"/>
<circle cx="489.92" cy="229.55" r="1.30" fill="#cf4747" stroke="none" stroke-width="1"/>
<circle cx="493.71" cy="229.55" r="1.30" fill="#cf4747" stroke="none" stroke-width="1"/>
<circle cx="478.27" cy="233.08" r="1.30" fill="#cf4747" stroke="none" stroke-width="1"/>
<circle cx="482.33" cy="232.26" r="1.30" fill="#cf4747" stroke="none" stroke-width="1"/>
<circle cx="485.85" cy="232.26" r="1.30" fill="#cf4747" stroke="none" stroke-width="1"/>
<circle cx="488.29" cy="233.08" r="1.30" fill="#cf4747" stroke="none" stroke-width="1"/>
<circle cx="491.00" cy="232.26" r="1.30" fill="#cf4747" stroke="none" stroke-width="1"/>
<circle cx="494.53" cy="231.18" r="1.30" fill="#cf4747" stroke="none" stroke-width="1"/>
<text x="460.9" y="243" font-size="7.0" text-anchor="middle" fill="#1c1c1c">R1</text>
<text x="484.7" y="243" font-size="7.0" text-anchor="middle" fill="#1c1c1c">R2</text>
<text x="-0.2" y="5.3" font-size="10.5" font-weight="bold" fill="#000" stroke="#000" stroke-width=".45">a</text>
<text x="-0.2" y="278.6" font-size="10.5" font-weight="bold" fill="#000" stroke="#000" stroke-width=".45">b</text>
<rect x="49.00" y="282.10" width="112.00" height="28.40" fill="#619cff" stroke="none" stroke-width="1"/>
<rect x="161.00" y="282.10" width="90.60" height="28.40" fill="#f8766d" stroke="none" stroke-width="1"/>
<rect x="49.00" y="318.10" width="19.10" height="28.30" fill="#f8766d" stroke="none" stroke-width="1"/>
<rect x="68.10" y="318.10" width="63.50" height="28.30" fill="#cd9600" stroke="none" stroke-width="1"/>
<rect x="131.60" y="318.10" width="8.20" height="28.30" fill="#0cb702" stroke="none" stroke-width="1"/>
<rect x="139.80" y="318.10" width="15.80" height="28.30" fill="#00bdb8" stroke="none" stroke-width="1"/>
<rect x="155.60" y="318.10" width="25.40" height="28.30" fill="#00a9ff" stroke="none" stroke-width="1"/>
<rect x="181.00" y="318.10" width="11.90" height="28.30" fill="#e76bf3" stroke="none" stroke-width="1"/>
<rect x="192.90" y="318.10" width="23.10" height="28.30" fill="#f2a582" stroke="none" stroke-width="1"/>
<rect x="216.00" y="318.10" width="28.00" height="28.30" fill="#f5a8c0" stroke="none" stroke-width="1"/>
<rect x="244.00" y="318.10" width="5.00" height="28.30" fill="#f6c12f" stroke="none" stroke-width="1"/>
<rect x="249.00" y="318.10" width="2.00" height="28.30" fill="#3b7d4a" stroke="none" stroke-width="1"/>
<rect x="251.00" y="318.10" width="0.60" height="28.30" fill="#5b8fd0" stroke="none" stroke-width="1"/>
<rect x="49.00" y="278.70" width="213.80" height="70.30" fill="none" stroke="#4d4d4d" stroke-width="0.5"/>
<line x1="46.20" y1="296.10" x2="49.00" y2="296.10" stroke="#333" stroke-width="0.5"/>
<text x="43.4" y="298.40000000000003" font-size="6.5" text-anchor="end" fill="#1a1a1a">Dataset</text>
<line x1="46.20" y1="334.30" x2="49.00" y2="334.30" stroke="#333" stroke-width="0.5"/>
<text x="43.4" y="336.6" font-size="6.5" text-anchor="end" fill="#1a1a1a">Tissue type</text>
<line x1="49.00" y1="349.00" x2="49.00" y2="351.80" stroke="#333" stroke-width="0.5"/>
<text x="49.0" y="360.9" font-size="6.5" text-anchor="middle" fill="#333">0</text>
<line x1="89.52" y1="349.00" x2="89.52" y2="351.80" stroke="#333" stroke-width="0.5"/>
<text x="89.52000000000001" y="360.9" font-size="6.5" text-anchor="middle" fill="#333">20</text>
<line x1="130.04" y1="349.00" x2="130.04" y2="351.80" stroke="#333" stroke-width="0.5"/>
<text x="130.04000000000002" y="360.9" font-size="6.5" text-anchor="middle" fill="#333">40</text>
<line x1="170.56" y1="349.00" x2="170.56" y2="351.80" stroke="#333" stroke-width="0.5"/>
<text x="170.56" y="360.9" font-size="6.5" text-anchor="middle" fill="#333">60</text>
<line x1="211.08" y1="349.00" x2="211.08" y2="351.80" stroke="#333" stroke-width="0.5"/>
<text x="211.08" y="360.9" font-size="6.5" text-anchor="middle" fill="#333">80</text>
<line x1="251.60" y1="349.00" x2="251.60" y2="351.80" stroke="#333" stroke-width="0.5"/>
<text x="251.60000000000002" y="360.9" font-size="6.5" text-anchor="middle" fill="#333">100</text>
<text x="144.8" y="369.5" font-size="7.5" text-anchor="middle" fill="#1a1a1a">Percent cell</text>
<text x="105.6" y="299.9" font-size="6.3" text-anchor="middle" fill="#1a1a1a">ST</text>
<text x="201.2" y="299.9" font-size="6.3" text-anchor="middle" fill="#1a1a1a">PUB</text>
<text x="60.3" y="333.6" font-size="6.3" text-anchor="middle" fill="#1a1a1a">App.</text>
<text x="90.9" y="333.6" font-size="6.3" text-anchor="middle" fill="#1a1a1a">Breast</text>
<text x="136" y="333.6" font-size="6.3" text-anchor="middle" fill="#1a1a1a">Col.</text>
<text x="150.2" y="333.6" font-size="6.3" text-anchor="middle" fill="#1a1a1a">Ile.</text>
<text x="168.2" y="333.6" font-size="6.3" text-anchor="middle" fill="#1a1a1a">Panc.</text>
<text x="188" y="333.6" font-size="6.3" text-anchor="middle" fill="#1a1a1a">Pr.</text>
<text x="202.8" y="333.6" font-size="6.3" text-anchor="middle" fill="#1a1a1a">Lung</text>
<text x="229.2" y="333.6" font-size="6.3" text-anchor="middle" fill="#1a1a1a">Brain</text>
<line x1="250.70" y1="319.40" x2="279.40" y2="302.90" stroke="#555" stroke-width="0.5"/>
<text x="282" y="304.6" font-size="7.5" fill="#1a1a1a">Lymph node</text>
<line x1="250.70" y1="323.70" x2="279.40" y2="311.20" stroke="#555" stroke-width="0.5"/>
<text x="282" y="312.6" font-size="7.5" fill="#1a1a1a">Kidney</text>
<line x1="250.70" y1="331.00" x2="279.40" y2="319.40" stroke="#555" stroke-width="0.5"/>
<text x="282" y="320.5" font-size="7.5" fill="#1a1a1a">Skin</text>
<text x="370.2" y="277.6" font-size="10.5" font-weight="bold" fill="#000" stroke="#000" stroke-width=".45">c</text>
<rect x="401.50" y="284.20" width="128.30" height="138.70" fill="#fff" stroke="#444" stroke-width="0.5"/>
<line x1="398.30" y1="294.40" x2="401.50" y2="294.40" stroke="#333" stroke-width="0.5"/>
<text x="394.9" y="296.79999999999995" font-size="6.8" text-anchor="end" fill="#333">0.25</text>
<line x1="398.30" y1="320.80" x2="401.50" y2="320.80" stroke="#333" stroke-width="0.5"/>
<text x="394.9" y="323.2" font-size="6.8" text-anchor="end" fill="#333">0.20</text>
<line x1="398.30" y1="347.10" x2="401.50" y2="347.10" stroke="#333" stroke-width="0.5"/>
<text x="394.9" y="349.5" font-size="6.8" text-anchor="end" fill="#333">0.15</text>
<line x1="398.30" y1="373.50" x2="401.50" y2="373.50" stroke="#333" stroke-width="0.5"/>
<text x="394.9" y="375.9" font-size="6.8" text-anchor="end" fill="#333">0.10</text>
<line x1="398.30" y1="399.80" x2="401.50" y2="399.80" stroke="#333" stroke-width="0.5"/>
<text x="394.9" y="402.2" font-size="6.8" text-anchor="end" fill="#333">0.05</text>
<line x1="436.20" y1="422.90" x2="436.20" y2="425.70" stroke="#333" stroke-width="0.5"/>
<text x="436.2" y="432.9" font-size="6.7" text-anchor="middle" fill="#333">CosMx</text>
<line x1="494.50" y1="422.90" x2="494.50" y2="425.70" stroke="#333" stroke-width="0.5"/>
<text x="494.5" y="432.9" font-size="6.7" text-anchor="middle" fill="#333">Xenium</text>
<text x="465.6" y="442.7" font-size="7.8" text-anchor="middle" fill="#1a1a1a">Platform</text>
<text x="376.1" y="354" font-size="7.4" text-anchor="middle" fill="#1a1a1a" transform="rotate(-90 376.1 354)">Normalized TPN</text>
<line x1="418.30" y1="395.80" x2="418.30" y2="400.30" stroke="#555" stroke-width="0.45"/>
<rect x="414.90" y="367.10" width="6.80" height="28.70" fill="#f8766d" stroke="#4a4a4a" stroke-width="0.4"/>
<line x1="414.90" y1="374.40" x2="421.70" y2="374.40" stroke="#111" stroke-width="1.0"/>
<line x1="425.40" y1="354.00" x2="425.40" y2="357.40" stroke="#555" stroke-width="0.45"/>
<line x1="425.40" y1="377.70" x2="425.40" y2="385.40" stroke="#555" stroke-width="0.45"/>
<rect x="422.10" y="357.40" width="6.60" height="20.30" fill="#b79f00" stroke="#4a4a4a" stroke-width="0.4"/>
<line x1="422.10" y1="366.70" x2="428.70" y2="366.70" stroke="#111" stroke-width="1.0"/>
<line x1="432.60" y1="373.00" x2="432.60" y2="382.30" stroke="#555" stroke-width="0.45"/>
<line x1="432.60" y1="392.60" x2="432.60" y2="394.40" stroke="#555" stroke-width="0.45"/>
<rect x="429.30" y="382.30" width="6.60" height="10.30" fill="#00ba38" stroke="#4a4a4a" stroke-width="0.4"/>
<line x1="429.30" y1="391.30" x2="435.90" y2="391.30" stroke="#111" stroke-width="1.0"/>
<line x1="440.00" y1="290.60" x2="440.00" y2="300.30" stroke="#555" stroke-width="0.45"/>
<line x1="440.00" y1="375.90" x2="440.00" y2="389.90" stroke="#555" stroke-width="0.45"/>
<rect x="436.60" y="300.30" width="6.80" height="75.60" fill="#00bfc4" stroke="#4a4a4a" stroke-width="0.4"/>
<line x1="436.60" y1="308.40" x2="443.40" y2="308.40" stroke="#111" stroke-width="1.0"/>
<line x1="447.20" y1="350.00" x2="447.20" y2="367.60" stroke="#555" stroke-width="0.45"/>
<line x1="447.20" y1="391.70" x2="447.20" y2="416.80" stroke="#555" stroke-width="0.45"/>
<rect x="443.80" y="367.60" width="6.80" height="24.10" fill="#619cff" stroke="#4a4a4a" stroke-width="0.4"/>
<line x1="443.80" y1="380.90" x2="450.60" y2="380.90" stroke="#111" stroke-width="1.0"/>
<line x1="454.50" y1="369.20" x2="454.50" y2="371.40" stroke="#555" stroke-width="0.45"/>
<line x1="454.50" y1="384.70" x2="454.50" y2="396.70" stroke="#555" stroke-width="0.45"/>
<rect x="451.00" y="371.40" width="7.00" height="13.30" fill="#f564e3" stroke="#4a4a4a" stroke-width="0.4"/>
<line x1="451.00" y1="376.40" x2="458.00" y2="376.40" stroke="#111" stroke-width="1.0"/>
<line x1="477.10" y1="361.90" x2="477.10" y2="370.30" stroke="#555" stroke-width="0.45"/>
<line x1="477.10" y1="384.50" x2="477.10" y2="396.70" stroke="#555" stroke-width="0.45"/>
<rect x="472.90" y="370.30" width="8.40" height="14.20" fill="#f8766d" stroke="#4a4a4a" stroke-width="0.4"/>
<line x1="472.90" y1="373.20" x2="481.30" y2="373.20" stroke="#111" stroke-width="1.0"/>
<line x1="485.80" y1="330.80" x2="485.80" y2="333.30" stroke="#555" stroke-width="0.45"/>
<line x1="485.80" y1="355.80" x2="485.80" y2="359.70" stroke="#555" stroke-width="0.45"/>
<rect x="481.70" y="333.30" width="8.20" height="22.50" fill="#b79f00" stroke="#4a4a4a" stroke-width="0.4"/>
<line x1="481.70" y1="344.60" x2="489.90" y2="344.60" stroke="#111" stroke-width="1.0"/>
<line x1="494.45" y1="334.90" x2="494.45" y2="346.10" stroke="#555" stroke-width="0.45"/>
<line x1="494.45" y1="360.60" x2="494.45" y2="363.50" stroke="#555" stroke-width="0.45"/>
<rect x="490.30" y="346.10" width="8.30" height="14.50" fill="#00bfc4" stroke="#4a4a4a" stroke-width="0.4"/>
<line x1="490.30" y1="350.90" x2="498.60" y2="350.90" stroke="#111" stroke-width="1.0"/>
<line x1="503.25" y1="345.70" x2="503.25" y2="351.30" stroke="#555" stroke-width="0.45"/>
<line x1="503.25" y1="374.60" x2="503.25" y2="388.40" stroke="#555" stroke-width="0.45"/>
<rect x="499.10" y="351.30" width="8.30" height="23.30" fill="#619cff" stroke="#4a4a4a" stroke-width="0.4"/>
<line x1="499.10" y1="361.30" x2="507.40" y2="361.30" stroke="#111" stroke-width="1.0"/>
<line x1="512.10" y1="366.50" x2="512.10" y2="367.60" stroke="#555" stroke-width="0.45"/>
<rect x="507.90" y="367.60" width="8.40" height="14.20" fill="#f564e3" stroke="#4a4a4a" stroke-width="0.4"/>
<line x1="507.90" y1="374.40" x2="516.30" y2="374.40" stroke="#111" stroke-width="1.0"/>
<circle cx="418.20" cy="306.00" r="1.00" fill="#111" stroke="none" stroke-width="1"/>
<text x="533.6" y="332.6" font-size="7.45" fill="#1a1a1a">Tissue type</text>
<line x1="537.10" y1="336.20" x2="537.10" y2="342.20" stroke="#555" stroke-width="0.4"/>
<rect x="534.40" y="337.30" width="5.40" height="3.80" fill="#f8766d" stroke="#4a4a4a" stroke-width="0.4"/>
<line x1="534.40" y1="339.20" x2="539.80" y2="339.20" stroke="#222" stroke-width="0.8"/>
<text x="543.5" y="341.70000000000005" font-size="7.25" fill="#1a1a1a">Appendix</text>
<line x1="537.10" y1="343.72" x2="537.10" y2="349.72" stroke="#555" stroke-width="0.4"/>
<rect x="534.40" y="344.82" width="5.40" height="3.80" fill="#b79f00" stroke="#4a4a4a" stroke-width="0.4"/>
<line x1="534.40" y1="346.72" x2="539.80" y2="346.72" stroke="#222" stroke-width="0.8"/>
<text x="543.5" y="349.22" font-size="7.25" fill="#1a1a1a">Breast</text>
<line x1="537.10" y1="351.24" x2="537.10" y2="357.24" stroke="#555" stroke-width="0.4"/>
<rect x="534.40" y="352.34" width="5.40" height="3.80" fill="#00ba38" stroke="#4a4a4a" stroke-width="0.4"/>
<line x1="534.40" y1="354.24" x2="539.80" y2="354.24" stroke="#222" stroke-width="0.8"/>
<text x="543.5" y="356.74000000000007" font-size="7.25" fill="#1a1a1a">Colon</text>
<line x1="537.10" y1="358.76" x2="537.10" y2="364.76" stroke="#555" stroke-width="0.4"/>
<rect x="534.40" y="359.86" width="5.40" height="3.80" fill="#00bfc4" stroke="#4a4a4a" stroke-width="0.4"/>
<line x1="534.40" y1="361.76" x2="539.80" y2="361.76" stroke="#222" stroke-width="0.8"/>
<text x="543.5" y="364.26000000000005" font-size="7.25" fill="#1a1a1a">Ileum</text>
<line x1="537.10" y1="366.28" x2="537.10" y2="372.28" stroke="#555" stroke-width="0.4"/>
<rect x="534.40" y="367.38" width="5.40" height="3.80" fill="#619cff" stroke="#4a4a4a" stroke-width="0.4"/>
<line x1="534.40" y1="369.28" x2="539.80" y2="369.28" stroke="#222" stroke-width="0.8"/>
<text x="543.5" y="371.78000000000003" font-size="7.25" fill="#1a1a1a">Pancreas</text>
<line x1="537.10" y1="373.80" x2="537.10" y2="379.80" stroke="#555" stroke-width="0.4"/>
<rect x="534.40" y="374.90" width="5.40" height="3.80" fill="#f564e3" stroke="#4a4a4a" stroke-width="0.4"/>
<line x1="534.40" y1="376.80" x2="539.80" y2="376.80" stroke="#222" stroke-width="0.8"/>
<text x="543.5" y="379.30000000000007" font-size="7.25" fill="#1a1a1a">Prostate</text>
<rect x="401.50" y="449.50" width="128.30" height="138.40" fill="#fff" stroke="#444" stroke-width="0.5"/>
<line x1="398.30" y1="463.60" x2="401.50" y2="463.60" stroke="#333" stroke-width="0.5"/>
<text x="394.9" y="466.0" font-size="6.8" text-anchor="end" fill="#333">0.5</text>
<line x1="398.30" y1="494.20" x2="401.50" y2="494.20" stroke="#333" stroke-width="0.5"/>
<text x="394.9" y="496.59999999999997" font-size="6.8" text-anchor="end" fill="#333">0.4</text>
<line x1="398.30" y1="524.90" x2="401.50" y2="524.90" stroke="#333" stroke-width="0.5"/>
<text x="394.9" y="527.3" font-size="6.8" text-anchor="end" fill="#333">0.3</text>
<line x1="398.30" y1="555.50" x2="401.50" y2="555.50" stroke="#333" stroke-width="0.5"/>
<text x="394.9" y="557.9" font-size="6.8" text-anchor="end" fill="#333">0.2</text>
<line x1="398.30" y1="586.10" x2="401.50" y2="586.10" stroke="#333" stroke-width="0.5"/>
<text x="394.9" y="588.5" font-size="6.8" text-anchor="end" fill="#333">0.1</text>
<line x1="436.20" y1="587.90" x2="436.20" y2="590.70" stroke="#333" stroke-width="0.5"/>
<text x="436.2" y="597.8" font-size="6.7" text-anchor="middle" fill="#333">CosMx</text>
<line x1="494.50" y1="587.90" x2="494.50" y2="590.70" stroke="#333" stroke-width="0.5"/>
<text x="494.5" y="597.8" font-size="6.7" text-anchor="middle" fill="#333">Xenium</text>
<text x="465.6" y="607.7" font-size="7.8" text-anchor="middle" fill="#1a1a1a">Platform</text>
<text x="376.1" y="518.6" font-size="7.4" text-anchor="middle" fill="#1a1a1a" transform="rotate(-90 376.1 518.6)">SNR</text>
<line x1="418.30" y1="522.20" x2="418.30" y2="539.40" stroke="#555" stroke-width="0.45"/>
<line x1="418.30" y1="559.70" x2="418.30" y2="581.80" stroke="#555" stroke-width="0.45"/>
<rect x="414.90" y="539.40" width="6.80" height="20.30" fill="#f8766d" stroke="#4a4a4a" stroke-width="0.4"/>
<line x1="414.90" y1="542.30" x2="421.70" y2="542.30" stroke="#111" stroke-width="1.0"/>
<line x1="425.40" y1="517.20" x2="425.40" y2="518.40" stroke="#555" stroke-width="0.45"/>
<line x1="425.40" y1="544.30" x2="425.40" y2="550.00" stroke="#555" stroke-width="0.45"/>
<rect x="422.10" y="518.40" width="6.60" height="25.90" fill="#b79f00" stroke="#4a4a4a" stroke-width="0.4"/>
<line x1="422.10" y1="530.60" x2="428.70" y2="530.60" stroke="#111" stroke-width="1.0"/>
<line x1="432.60" y1="548.40" x2="432.60" y2="554.00" stroke="#555" stroke-width="0.45"/>
<line x1="432.60" y1="562.80" x2="432.60" y2="566.00" stroke="#555" stroke-width="0.45"/>
<rect x="429.30" y="554.00" width="6.60" height="8.80" fill="#00ba38" stroke="#4a4a4a" stroke-width="0.4"/>
<line x1="429.30" y1="559.70" x2="435.90" y2="559.70" stroke="#111" stroke-width="1.0"/>
<line x1="440.00" y1="509.30" x2="440.00" y2="513.20" stroke="#555" stroke-width="0.45"/>
<line x1="440.00" y1="541.60" x2="440.00" y2="553.40" stroke="#555" stroke-width="0.45"/>
<rect x="436.60" y="513.20" width="6.80" height="28.40" fill="#00bfc4" stroke="#4a4a4a" stroke-width="0.4"/>
<line x1="436.60" y1="518.40" x2="443.40" y2="518.40" stroke="#111" stroke-width="1.0"/>
<line x1="447.20" y1="521.70" x2="447.20" y2="538.00" stroke="#555" stroke-width="0.45"/>
<line x1="447.20" y1="561.70" x2="447.20" y2="571.90" stroke="#555" stroke-width="0.45"/>
<rect x="443.80" y="538.00" width="6.80" height="23.70" fill="#619cff" stroke="#4a4a4a" stroke-width="0.4"/>
<line x1="443.80" y1="549.30" x2="450.60" y2="549.30" stroke="#111" stroke-width="1.0"/>
<line x1="454.50" y1="531.20" x2="454.50" y2="533.70" stroke="#555" stroke-width="0.45"/>
<rect x="451.00" y="533.70" width="7.00" height="8.80" fill="#f564e3" stroke="#4a4a4a" stroke-width="0.4"/>
<line x1="451.00" y1="534.80" x2="458.00" y2="534.80" stroke="#111" stroke-width="1.0"/>
<line x1="477.10" y1="503.70" x2="477.10" y2="513.20" stroke="#555" stroke-width="0.45"/>
<line x1="477.10" y1="532.60" x2="477.10" y2="537.60" stroke="#555" stroke-width="0.45"/>
<rect x="472.90" y="513.20" width="8.40" height="19.40" fill="#f8766d" stroke="#4a4a4a" stroke-width="0.4"/>
<line x1="472.90" y1="524.50" x2="481.30" y2="524.50" stroke="#111" stroke-width="1.0"/>
<line x1="485.80" y1="455.60" x2="485.80" y2="459.00" stroke="#555" stroke-width="0.45"/>
<line x1="485.80" y1="494.70" x2="485.80" y2="496.20" stroke="#555" stroke-width="0.45"/>
<rect x="481.70" y="459.00" width="8.20" height="35.70" fill="#b79f00" stroke="#4a4a4a" stroke-width="0.4"/>
<line x1="481.70" y1="477.30" x2="489.90" y2="477.30" stroke="#111" stroke-width="1.0"/>
<line x1="494.45" y1="492.00" x2="494.45" y2="500.30" stroke="#555" stroke-width="0.45"/>
<line x1="494.45" y1="505.50" x2="494.45" y2="512.30" stroke="#555" stroke-width="0.45"/>
<rect x="490.30" y="500.30" width="8.30" height="5.20" fill="#00bfc4" stroke="#4a4a4a" stroke-width="0.4"/>
<line x1="490.30" y1="503.00" x2="498.60" y2="503.00" stroke="#111" stroke-width="1.0"/>
<line x1="503.25" y1="530.80" x2="503.25" y2="537.10" stroke="#555" stroke-width="0.45"/>
<line x1="503.25" y1="548.80" x2="503.25" y2="563.50" stroke="#555" stroke-width="0.45"/>
<rect x="499.10" y="537.10" width="8.30" height="11.70" fill="#619cff" stroke="#4a4a4a" stroke-width="0.4"/>
<line x1="499.10" y1="542.30" x2="507.40" y2="542.30" stroke="#111" stroke-width="1.0"/>
<line x1="512.10" y1="520.20" x2="512.10" y2="525.10" stroke="#555" stroke-width="0.45"/>
<line x1="512.10" y1="537.60" x2="512.10" y2="539.40" stroke="#555" stroke-width="0.45"/>
<rect x="507.90" y="525.10" width="8.40" height="12.50" fill="#f564e3" stroke="#4a4a4a" stroke-width="0.4"/>
<line x1="507.90" y1="536.40" x2="516.30" y2="536.40" stroke="#111" stroke-width="1.0"/>
<circle cx="454.40" cy="562.80" r="1.00" fill="#111" stroke="none" stroke-width="1"/>
<circle cx="503.40" cy="512.00" r="1.00" fill="#111" stroke="none" stroke-width="1"/>
<text x="533.6" y="498.3" font-size="7.45" fill="#1a1a1a">Tissue type</text>
<line x1="537.10" y1="501.90" x2="537.10" y2="507.90" stroke="#555" stroke-width="0.4"/>
<rect x="534.40" y="503.00" width="5.40" height="3.80" fill="#f8766d" stroke="#4a4a4a" stroke-width="0.4"/>
<line x1="534.40" y1="504.90" x2="539.80" y2="504.90" stroke="#222" stroke-width="0.8"/>
<text x="543.5" y="507.40000000000003" font-size="7.25" fill="#1a1a1a">Appendix</text>
<line x1="537.10" y1="509.42" x2="537.10" y2="515.42" stroke="#555" stroke-width="0.4"/>
<rect x="534.40" y="510.52" width="5.40" height="3.80" fill="#b79f00" stroke="#4a4a4a" stroke-width="0.4"/>
<line x1="534.40" y1="512.42" x2="539.80" y2="512.42" stroke="#222" stroke-width="0.8"/>
<text x="543.5" y="514.9200000000001" font-size="7.25" fill="#1a1a1a">Breast</text>
<line x1="537.10" y1="516.94" x2="537.10" y2="522.94" stroke="#555" stroke-width="0.4"/>
<rect x="534.40" y="518.04" width="5.40" height="3.80" fill="#00ba38" stroke="#4a4a4a" stroke-width="0.4"/>
<line x1="534.40" y1="519.94" x2="539.80" y2="519.94" stroke="#222" stroke-width="0.8"/>
<text x="543.5" y="522.44" font-size="7.25" fill="#1a1a1a">Colon</text>
<line x1="537.10" y1="524.46" x2="537.10" y2="530.46" stroke="#555" stroke-width="0.4"/>
<rect x="534.40" y="525.56" width="5.40" height="3.80" fill="#00bfc4" stroke="#4a4a4a" stroke-width="0.4"/>
<line x1="534.40" y1="527.46" x2="539.80" y2="527.46" stroke="#222" stroke-width="0.8"/>
<text x="543.5" y="529.96" font-size="7.25" fill="#1a1a1a">Ileum</text>
<line x1="537.10" y1="531.98" x2="537.10" y2="537.98" stroke="#555" stroke-width="0.4"/>
<rect x="534.40" y="533.08" width="5.40" height="3.80" fill="#619cff" stroke="#4a4a4a" stroke-width="0.4"/>
<line x1="534.40" y1="534.98" x2="539.80" y2="534.98" stroke="#222" stroke-width="0.8"/>
<text x="543.5" y="537.48" font-size="7.25" fill="#1a1a1a">Pancreas</text>
<line x1="537.10" y1="539.50" x2="537.10" y2="545.50" stroke="#555" stroke-width="0.4"/>
<rect x="534.40" y="540.60" width="5.40" height="3.80" fill="#f564e3" stroke="#4a4a4a" stroke-width="0.4"/>
<line x1="534.40" y1="542.50" x2="539.80" y2="542.50" stroke="#222" stroke-width="0.8"/>
<text x="543.5" y="545.0" font-size="7.25" fill="#1a1a1a">Prostate</text>
<text x="-0.3" y="389.9" font-size="10.5" font-weight="bold" fill="#000" stroke="#000" stroke-width=".45">d</text>
<rect x="30.90" y="386.80" width="142.60" height="8.60" fill="#d9d9d9" stroke="#4d4d4d" stroke-width="0.5"/>
<text x="102.2" y="393.29999999999995" font-size="7.1" text-anchor="middle" fill="#1a1a1a">TPC</text>
<rect x="30.90" y="395.40" width="142.60" height="112.40" fill="#fff" stroke="#4d4d4d" stroke-width="0.5"/>
<line x1="28.10" y1="397.60" x2="30.90" y2="397.60" stroke="#333" stroke-width="0.5"/>
<text x="24.299999999999997" y="400.20000000000005" font-size="6.9" text-anchor="end" fill="#333">2,000</text>
<line x1="28.10" y1="424.30" x2="30.90" y2="424.30" stroke="#333" stroke-width="0.5"/>
<text x="24.299999999999997" y="426.90000000000003" font-size="6.9" text-anchor="end" fill="#333">1,500</text>
<line x1="28.10" y1="451.00" x2="30.90" y2="451.00" stroke="#333" stroke-width="0.5"/>
<text x="24.299999999999997" y="453.6" font-size="6.9" text-anchor="end" fill="#333">1,000</text>
<line x1="28.10" y1="477.70" x2="30.90" y2="477.70" stroke="#333" stroke-width="0.5"/>
<text x="24.299999999999997" y="480.3" font-size="6.9" text-anchor="end" fill="#333">500</text>
<line x1="28.10" y1="504.30" x2="30.90" y2="504.30" stroke="#333" stroke-width="0.5"/>
<text x="24.299999999999997" y="506.90000000000003" font-size="6.9" text-anchor="end" fill="#333">0</text>
<line x1="35.14" y1="498.26" x2="35.14" y2="501.74" stroke="#3a3a3a" stroke-width="0.5"/>
<rect x="32.49" y="499.31" width="5.29" height="1.39" fill="#7fcdf2" stroke="#4a3a3a" stroke-width="0.4"/>
<line x1="32.49" y1="500.00" x2="37.78" y2="500.00" stroke="#000" stroke-width="1.25"/>
<line x1="42.20" y1="490.62" x2="42.20" y2="498.61" stroke="#3a3a3a" stroke-width="0.5"/>
<rect x="39.55" y="494.44" width="5.29" height="3.12" fill="#7fcdf2" stroke="#4a3a3a" stroke-width="0.4"/>
<line x1="39.55" y1="496.53" x2="44.84" y2="496.53" stroke="#000" stroke-width="1.25"/>
<line x1="49.25" y1="494.79" x2="49.25" y2="499.31" stroke="#3a3a3a" stroke-width="0.5"/>
<rect x="46.61" y="496.53" width="5.29" height="2.08" fill="#7fcdf2" stroke="#4a3a3a" stroke-width="0.4"/>
<line x1="46.61" y1="497.92" x2="51.90" y2="497.92" stroke="#000" stroke-width="1.25"/>
<line x1="56.31" y1="494.10" x2="56.31" y2="499.65" stroke="#3a3a3a" stroke-width="0.5"/>
<rect x="53.67" y="495.83" width="5.29" height="3.12" fill="#7fcdf2" stroke="#4a3a3a" stroke-width="0.4"/>
<line x1="53.67" y1="498.26" x2="58.96" y2="498.26" stroke="#000" stroke-width="1.25"/>
<line x1="63.37" y1="491.32" x2="63.37" y2="500.00" stroke="#3a3a3a" stroke-width="0.5"/>
<rect x="60.73" y="494.79" width="5.29" height="3.47" fill="#7fcdf2" stroke="#4a3a3a" stroke-width="0.4"/>
<line x1="60.73" y1="496.88" x2="66.02" y2="496.88" stroke="#000" stroke-width="1.25"/>
<line x1="70.43" y1="495.83" x2="70.43" y2="500.69" stroke="#3a3a3a" stroke-width="0.5"/>
<rect x="67.79" y="497.57" width="5.29" height="2.43" fill="#7fcdf2" stroke="#4a3a3a" stroke-width="0.4"/>
<line x1="67.79" y1="499.31" x2="73.08" y2="499.31" stroke="#000" stroke-width="1.25"/>
<line x1="77.49" y1="467.71" x2="77.49" y2="501.74" stroke="#3a3a3a" stroke-width="0.5"/>
<rect x="74.84" y="485.42" width="5.29" height="15.28" fill="#f08484" stroke="#4a3a3a" stroke-width="0.4"/>
<line x1="74.84" y1="494.10" x2="80.14" y2="494.10" stroke="#000" stroke-width="1.25"/>
<line x1="84.55" y1="473.26" x2="84.55" y2="499.31" stroke="#3a3a3a" stroke-width="0.5"/>
<rect x="81.90" y="478.12" width="5.29" height="20.14" fill="#f08484" stroke="#4a3a3a" stroke-width="0.4"/>
<line x1="81.90" y1="497.22" x2="87.20" y2="497.22" stroke="#000" stroke-width="1.25"/>
<line x1="91.61" y1="481.25" x2="91.61" y2="497.57" stroke="#3a3a3a" stroke-width="0.5"/>
<rect x="88.96" y="483.68" width="5.29" height="10.07" fill="#f08484" stroke="#4a3a3a" stroke-width="0.4"/>
<line x1="88.96" y1="492.71" x2="94.26" y2="492.71" stroke="#000" stroke-width="1.25"/>
<line x1="96.02" y1="500.00" x2="101.32" y2="500.00" stroke="#000" stroke-width="1.25"/>
<line x1="103.08" y1="492.36" x2="108.38" y2="492.36" stroke="#000" stroke-width="1.25"/>
<line x1="110.14" y1="484.03" x2="115.44" y2="484.03" stroke="#000" stroke-width="1.25"/>
<line x1="119.85" y1="402.78" x2="119.85" y2="499.31" stroke="#bbb" stroke-width="0.9"/>
<rect x="117.20" y="440.97" width="5.29" height="51.39" fill="#f08484" stroke="#4a3a3a" stroke-width="0.4"/>
<line x1="117.20" y1="461.11" x2="122.50" y2="461.11" stroke="#000" stroke-width="1.25"/>
<line x1="124.26" y1="502.08" x2="129.56" y2="502.08" stroke="#000" stroke-width="1.25"/>
<line x1="131.32" y1="498.61" x2="136.61" y2="498.61" stroke="#000" stroke-width="1.25"/>
<line x1="141.03" y1="483.33" x2="141.03" y2="487.85" stroke="#3a3a3a" stroke-width="0.5"/>
<rect x="138.38" y="484.03" width="5.29" height="3.12" fill="#f08484" stroke="#4a3a3a" stroke-width="0.4"/>
<line x1="138.38" y1="485.76" x2="143.67" y2="485.76" stroke="#000" stroke-width="1.25"/>
<line x1="148.09" y1="439.58" x2="148.09" y2="498.61" stroke="#3a3a3a" stroke-width="0.5"/>
<rect x="145.44" y="468.75" width="5.29" height="29.51" fill="#f08484" stroke="#4a3a3a" stroke-width="0.4"/>
<line x1="145.44" y1="497.57" x2="150.73" y2="497.57" stroke="#000" stroke-width="1.25"/>
<line x1="155.15" y1="490.28" x2="155.15" y2="495.83" stroke="#3a3a3a" stroke-width="0.5"/>
<rect x="152.50" y="491.32" width="5.29" height="3.12" fill="#f08484" stroke="#4a3a3a" stroke-width="0.4"/>
<line x1="152.50" y1="492.71" x2="157.79" y2="492.71" stroke="#000" stroke-width="1.25"/>
<line x1="162.20" y1="489.93" x2="162.20" y2="495.83" stroke="#3a3a3a" stroke-width="0.5"/>
<rect x="159.56" y="490.62" width="5.29" height="2.78" fill="#f08484" stroke="#4a3a3a" stroke-width="0.4"/>
<line x1="159.56" y1="491.32" x2="164.85" y2="491.32" stroke="#000" stroke-width="1.25"/>
<line x1="169.26" y1="478.47" x2="169.26" y2="486.11" stroke="#3a3a3a" stroke-width="0.5"/>
<rect x="166.62" y="480.21" width="5.29" height="4.51" fill="#f08484" stroke="#4a3a3a" stroke-width="0.4"/>
<line x1="166.62" y1="482.29" x2="171.91" y2="482.29" stroke="#000" stroke-width="1.25"/>
<rect x="197.40" y="386.80" width="142.90" height="8.60" fill="#d9d9d9" stroke="#4d4d4d" stroke-width="0.5"/>
<text x="268.85" y="393.29999999999995" font-size="7.1" text-anchor="middle" fill="#1a1a1a">TPA</text>
<rect x="197.40" y="395.40" width="142.90" height="112.40" fill="#fff" stroke="#4d4d4d" stroke-width="0.5"/>
<line x1="194.60" y1="426.40" x2="197.40" y2="426.40" stroke="#333" stroke-width="0.5"/>
<text x="190.8" y="429.0" font-size="6.9" text-anchor="end" fill="#333">4</text>
<line x1="194.60" y1="464.20" x2="197.40" y2="464.20" stroke="#333" stroke-width="0.5"/>
<text x="190.8" y="466.8" font-size="6.9" text-anchor="end" fill="#333">2</text>
<line x1="194.60" y1="502.10" x2="197.40" y2="502.10" stroke="#333" stroke-width="0.5"/>
<text x="190.8" y="504.70000000000005" font-size="6.9" text-anchor="end" fill="#333">0</text>
<line x1="201.64" y1="475.69" x2="201.64" y2="492.36" stroke="#3a3a3a" stroke-width="0.5"/>
<rect x="198.99" y="476.39" width="5.31" height="10.42" fill="#7fcdf2" stroke="#4a3a3a" stroke-width="0.4"/>
<line x1="198.99" y1="484.38" x2="204.30" y2="484.38" stroke="#000" stroke-width="1.25"/>
<line x1="208.72" y1="461.81" x2="208.72" y2="493.06" stroke="#3a3a3a" stroke-width="0.5"/>
<rect x="206.07" y="479.17" width="5.31" height="12.15" fill="#7fcdf2" stroke="#4a3a3a" stroke-width="0.4"/>
<line x1="206.07" y1="486.46" x2="211.37" y2="486.46" stroke="#000" stroke-width="1.25"/>
<line x1="215.79" y1="455.21" x2="215.79" y2="473.96" stroke="#3a3a3a" stroke-width="0.5"/>
<rect x="213.14" y="462.15" width="5.31" height="10.07" fill="#7fcdf2" stroke="#4a3a3a" stroke-width="0.4"/>
<line x1="213.14" y1="468.75" x2="218.45" y2="468.75" stroke="#000" stroke-width="1.25"/>
<line x1="222.87" y1="449.65" x2="222.87" y2="490.28" stroke="#3a3a3a" stroke-width="0.5"/>
<rect x="220.21" y="464.58" width="5.31" height="14.58" fill="#7fcdf2" stroke="#4a3a3a" stroke-width="0.4"/>
<line x1="220.21" y1="474.31" x2="225.52" y2="474.31" stroke="#000" stroke-width="1.25"/>
<line x1="229.94" y1="448.96" x2="229.94" y2="491.32" stroke="#3a3a3a" stroke-width="0.5"/>
<rect x="227.29" y="466.32" width="5.31" height="16.32" fill="#7fcdf2" stroke="#4a3a3a" stroke-width="0.4"/>
<line x1="227.29" y1="477.43" x2="232.59" y2="477.43" stroke="#000" stroke-width="1.25"/>
<line x1="237.02" y1="472.92" x2="237.02" y2="493.06" stroke="#3a3a3a" stroke-width="0.5"/>
<rect x="234.36" y="481.60" width="5.31" height="10.76" fill="#7fcdf2" stroke="#4a3a3a" stroke-width="0.4"/>
<line x1="234.36" y1="489.58" x2="239.67" y2="489.58" stroke="#000" stroke-width="1.25"/>
<line x1="244.09" y1="448.96" x2="244.09" y2="501.74" stroke="#777" stroke-width="0.5"/>
<rect x="241.44" y="475.35" width="5.31" height="20.14" fill="#f08484" stroke="#4a3a3a" stroke-width="0.4"/>
<line x1="241.44" y1="481.60" x2="246.74" y2="481.60" stroke="#000" stroke-width="1.25"/>
<line x1="251.16" y1="478.12" x2="251.16" y2="483.68" stroke="#3a3a3a" stroke-width="0.5"/>
<rect x="248.51" y="478.47" width="5.31" height="4.86" fill="#f08484" stroke="#4a3a3a" stroke-width="0.4"/>
<line x1="248.51" y1="479.86" x2="253.82" y2="479.86" stroke="#000" stroke-width="1.25"/>
<line x1="255.59" y1="502.08" x2="260.89" y2="502.08" stroke="#333" stroke-width="0.5"/>
<line x1="265.31" y1="485.42" x2="265.31" y2="493.75" stroke="#3a3a3a" stroke-width="0.5"/>
<rect x="262.66" y="487.15" width="5.31" height="4.86" fill="#f08484" stroke="#4a3a3a" stroke-width="0.4"/>
<line x1="262.66" y1="489.58" x2="267.97" y2="489.58" stroke="#000" stroke-width="1.25"/>
<line x1="269.73" y1="468.40" x2="275.04" y2="468.40" stroke="#999" stroke-width="0.7"/>
<line x1="279.46" y1="460.76" x2="279.46" y2="465.28" stroke="#3a3a3a" stroke-width="0.5"/>
<rect x="276.81" y="461.46" width="5.31" height="3.12" fill="#f08484" stroke="#4a3a3a" stroke-width="0.4"/>
<line x1="276.81" y1="462.85" x2="282.11" y2="462.85" stroke="#000" stroke-width="1.25"/>
<line x1="286.54" y1="472.22" x2="286.54" y2="502.08" stroke="#3a3a3a" stroke-width="0.5"/>
<rect x="283.88" y="484.38" width="5.31" height="17.71" fill="#f08484" stroke="#4a3a3a" stroke-width="0.4"/>
<line x1="290.96" y1="478.12" x2="296.26" y2="478.12" stroke="#999" stroke-width="0.7"/>
<line x1="298.03" y1="492.01" x2="303.34" y2="492.01" stroke="#999" stroke-width="0.7"/>
<line x1="307.76" y1="427.78" x2="307.76" y2="441.67" stroke="#3a3a3a" stroke-width="0.5"/>
<rect x="305.11" y="430.56" width="5.31" height="10.42" fill="#f08484" stroke="#4a3a3a" stroke-width="0.4"/>
<line x1="305.11" y1="436.46" x2="310.41" y2="436.46" stroke="#000" stroke-width="1.25"/>
<line x1="314.83" y1="474.65" x2="314.83" y2="497.57" stroke="#3a3a3a" stroke-width="0.5"/>
<rect x="312.18" y="479.17" width="5.31" height="11.11" fill="#f08484" stroke="#4a3a3a" stroke-width="0.4"/>
<line x1="312.18" y1="482.99" x2="317.49" y2="482.99" stroke="#000" stroke-width="1.25"/>
<line x1="321.91" y1="449.65" x2="321.91" y2="469.79" stroke="#3a3a3a" stroke-width="0.5"/>
<rect x="319.25" y="454.86" width="5.31" height="10.42" fill="#f08484" stroke="#4a3a3a" stroke-width="0.4"/>
<line x1="319.25" y1="459.38" x2="324.56" y2="459.38" stroke="#000" stroke-width="1.25"/>
<line x1="328.98" y1="462.50" x2="328.98" y2="468.75" stroke="#3a3a3a" stroke-width="0.5"/>
<rect x="326.33" y="463.89" width="5.31" height="4.17" fill="#f08484" stroke="#4a3a3a" stroke-width="0.4"/>
<line x1="326.33" y1="465.97" x2="331.63" y2="465.97" stroke="#000" stroke-width="1.25"/>
<line x1="336.06" y1="404.51" x2="336.06" y2="427.08" stroke="#3a3a3a" stroke-width="0.5"/>
<rect x="333.40" y="410.07" width="5.31" height="11.11" fill="#f08484" stroke="#4a3a3a" stroke-width="0.4"/>
<line x1="333.40" y1="415.97" x2="338.71" y2="415.97" stroke="#000" stroke-width="1.25"/>
<rect x="30.90" y="510.50" width="142.60" height="8.50" fill="#d9d9d9" stroke="#4d4d4d" stroke-width="0.5"/>
<text x="102.2" y="516.9" font-size="7.1" text-anchor="middle" fill="#1a1a1a">Entropy</text>
<rect x="30.90" y="519.00" width="142.60" height="111.00" fill="#fff" stroke="#4d4d4d" stroke-width="0.5"/>
<line x1="28.10" y1="538.30" x2="30.90" y2="538.30" stroke="#333" stroke-width="0.5"/>
<text x="24.299999999999997" y="540.9" font-size="6.9" text-anchor="end" fill="#333">2.0</text>
<line x1="28.10" y1="561.90" x2="30.90" y2="561.90" stroke="#333" stroke-width="0.5"/>
<text x="24.299999999999997" y="564.5" font-size="6.9" text-anchor="end" fill="#333">1.5</text>
<line x1="28.10" y1="585.60" x2="30.90" y2="585.60" stroke="#333" stroke-width="0.5"/>
<text x="24.299999999999997" y="588.2" font-size="6.9" text-anchor="end" fill="#333">1.0</text>
<line x1="28.10" y1="609.20" x2="30.90" y2="609.20" stroke="#333" stroke-width="0.5"/>
<text x="24.299999999999997" y="611.8000000000001" font-size="6.9" text-anchor="end" fill="#333">0.5</text>
<line x1="35.14" y1="630.00" x2="35.14" y2="632.80" stroke="#333" stroke-width="0.5"/>
<line x1="35.14" y1="608.47" x2="35.14" y2="617.85" stroke="#3a3a3a" stroke-width="0.5"/>
<rect x="32.49" y="610.90" width="5.29" height="5.21" fill="#7fcdf2" stroke="#4a3a3a" stroke-width="0.4"/>
<line x1="32.49" y1="613.68" x2="37.78" y2="613.68" stroke="#000" stroke-width="1.25"/>
<line x1="42.20" y1="630.00" x2="42.20" y2="632.80" stroke="#333" stroke-width="0.5"/>
<line x1="42.20" y1="601.18" x2="42.20" y2="613.33" stroke="#3a3a3a" stroke-width="0.5"/>
<rect x="39.55" y="604.65" width="5.29" height="6.25" fill="#7fcdf2" stroke="#4a3a3a" stroke-width="0.4"/>
<line x1="39.55" y1="607.43" x2="44.84" y2="607.43" stroke="#000" stroke-width="1.25"/>
<line x1="49.25" y1="630.00" x2="49.25" y2="632.80" stroke="#333" stroke-width="0.5"/>
<line x1="49.25" y1="610.90" x2="49.25" y2="616.11" stroke="#3a3a3a" stroke-width="0.5"/>
<rect x="46.61" y="612.64" width="5.29" height="2.78" fill="#7fcdf2" stroke="#4a3a3a" stroke-width="0.4"/>
<line x1="46.61" y1="614.03" x2="51.90" y2="614.03" stroke="#000" stroke-width="1.25"/>
<line x1="56.31" y1="630.00" x2="56.31" y2="632.80" stroke="#333" stroke-width="0.5"/>
<line x1="56.31" y1="605.69" x2="56.31" y2="609.86" stroke="#3a3a3a" stroke-width="0.5"/>
<rect x="53.67" y="607.43" width="5.29" height="1.74" fill="#7fcdf2" stroke="#4a3a3a" stroke-width="0.4"/>
<line x1="53.67" y1="608.12" x2="58.96" y2="608.12" stroke="#000" stroke-width="1.25"/>
<line x1="63.37" y1="630.00" x2="63.37" y2="632.80" stroke="#333" stroke-width="0.5"/>
<line x1="63.37" y1="606.39" x2="63.37" y2="618.89" stroke="#3a3a3a" stroke-width="0.5"/>
<rect x="60.73" y="609.17" width="5.29" height="6.25" fill="#7fcdf2" stroke="#4a3a3a" stroke-width="0.4"/>
<line x1="60.73" y1="611.94" x2="66.02" y2="611.94" stroke="#000" stroke-width="1.25"/>
<line x1="70.43" y1="630.00" x2="70.43" y2="632.80" stroke="#333" stroke-width="0.5"/>
<line x1="70.43" y1="609.86" x2="70.43" y2="618.89" stroke="#3a3a3a" stroke-width="0.5"/>
<rect x="67.79" y="611.60" width="5.29" height="3.47" fill="#7fcdf2" stroke="#4a3a3a" stroke-width="0.4"/>
<line x1="67.79" y1="613.33" x2="73.08" y2="613.33" stroke="#000" stroke-width="1.25"/>
<line x1="77.49" y1="630.00" x2="77.49" y2="632.80" stroke="#333" stroke-width="0.5"/>
<line x1="77.49" y1="538.68" x2="77.49" y2="624.10" stroke="#3a3a3a" stroke-width="0.5"/>
<rect x="74.84" y="577.92" width="5.29" height="35.42" fill="#f08484" stroke="#4a3a3a" stroke-width="0.4"/>
<line x1="74.84" y1="597.01" x2="80.14" y2="597.01" stroke="#000" stroke-width="1.25"/>
<line x1="84.55" y1="630.00" x2="84.55" y2="632.80" stroke="#333" stroke-width="0.5"/>
<line x1="84.55" y1="565.76" x2="84.55" y2="605.69" stroke="#3a3a3a" stroke-width="0.5"/>
<rect x="81.90" y="584.17" width="5.29" height="18.06" fill="#f08484" stroke="#4a3a3a" stroke-width="0.4"/>
<line x1="81.90" y1="598.75" x2="87.20" y2="598.75" stroke="#000" stroke-width="1.25"/>
<line x1="91.61" y1="630.00" x2="91.61" y2="632.80" stroke="#333" stroke-width="0.5"/>
<line x1="91.61" y1="573.75" x2="91.61" y2="612.64" stroke="#3a3a3a" stroke-width="0.5"/>
<rect x="88.96" y="591.11" width="5.29" height="12.15" fill="#f08484" stroke="#4a3a3a" stroke-width="0.4"/>
<line x1="88.96" y1="600.49" x2="94.26" y2="600.49" stroke="#000" stroke-width="1.25"/>
<line x1="98.67" y1="630.00" x2="98.67" y2="632.80" stroke="#333" stroke-width="0.5"/>
<line x1="98.67" y1="607.43" x2="98.67" y2="614.38" stroke="#3a3a3a" stroke-width="0.5"/>
<rect x="96.02" y="609.17" width="5.29" height="3.47" fill="#f08484" stroke="#4a3a3a" stroke-width="0.4"/>
<line x1="96.02" y1="610.90" x2="101.32" y2="610.90" stroke="#000" stroke-width="1.25"/>
<line x1="105.73" y1="630.00" x2="105.73" y2="632.80" stroke="#333" stroke-width="0.5"/>
<line x1="103.08" y1="596.67" x2="108.38" y2="596.67" stroke="#000" stroke-width="1.25"/>
<line x1="112.79" y1="630.00" x2="112.79" y2="632.80" stroke="#333" stroke-width="0.5"/>
<line x1="110.14" y1="582.08" x2="115.44" y2="582.08" stroke="#000" stroke-width="1.25"/>
<line x1="119.85" y1="630.00" x2="119.85" y2="632.80" stroke="#333" stroke-width="0.5"/>
<line x1="119.85" y1="544.93" x2="119.85" y2="625.49" stroke="#bbb" stroke-width="0.9"/>
<rect x="117.20" y="577.22" width="5.29" height="22.22" fill="#f08484" stroke="#4a3a3a" stroke-width="0.4"/>
<line x1="117.20" y1="590.07" x2="122.50" y2="590.07" stroke="#000" stroke-width="1.25"/>
<line x1="126.91" y1="630.00" x2="126.91" y2="632.80" stroke="#333" stroke-width="0.5"/>
<line x1="124.26" y1="615.42" x2="129.56" y2="615.42" stroke="#000" stroke-width="1.25"/>
<line x1="133.97" y1="630.00" x2="133.97" y2="632.80" stroke="#333" stroke-width="0.5"/>
<line x1="131.32" y1="595.28" x2="136.61" y2="595.28" stroke="#000" stroke-width="1.25"/>
<line x1="141.03" y1="630.00" x2="141.03" y2="632.80" stroke="#333" stroke-width="0.5"/>
<line x1="141.03" y1="570.28" x2="141.03" y2="578.96" stroke="#3a3a3a" stroke-width="0.5"/>
<rect x="138.38" y="571.67" width="5.29" height="6.25" fill="#f08484" stroke="#4a3a3a" stroke-width="0.4"/>
<line x1="138.38" y1="575.14" x2="143.67" y2="575.14" stroke="#000" stroke-width="1.25"/>
<line x1="148.09" y1="630.00" x2="148.09" y2="632.80" stroke="#333" stroke-width="0.5"/>
<line x1="148.09" y1="599.44" x2="148.09" y2="624.10" stroke="#3a3a3a" stroke-width="0.5"/>
<rect x="145.44" y="603.26" width="5.29" height="12.85" fill="#f08484" stroke="#4a3a3a" stroke-width="0.4"/>
<line x1="145.44" y1="607.43" x2="150.73" y2="607.43" stroke="#000" stroke-width="1.25"/>
<line x1="155.15" y1="630.00" x2="155.15" y2="632.80" stroke="#333" stroke-width="0.5"/>
<line x1="155.15" y1="585.90" x2="155.15" y2="594.24" stroke="#3a3a3a" stroke-width="0.5"/>
<rect x="152.50" y="588.33" width="5.29" height="3.47" fill="#f08484" stroke="#4a3a3a" stroke-width="0.4"/>
<line x1="152.50" y1="590.07" x2="157.79" y2="590.07" stroke="#000" stroke-width="1.25"/>
<line x1="162.20" y1="630.00" x2="162.20" y2="632.80" stroke="#333" stroke-width="0.5"/>
<line x1="162.20" y1="584.17" x2="162.20" y2="598.75" stroke="#3a3a3a" stroke-width="0.5"/>
<rect x="159.56" y="585.56" width="5.29" height="7.29" fill="#f08484" stroke="#4a3a3a" stroke-width="0.4"/>
<line x1="159.56" y1="587.29" x2="164.85" y2="587.29" stroke="#000" stroke-width="1.25"/>
<line x1="169.26" y1="630.00" x2="169.26" y2="632.80" stroke="#333" stroke-width="0.5"/>
<line x1="169.26" y1="562.29" x2="169.26" y2="574.44" stroke="#3a3a3a" stroke-width="0.5"/>
<rect x="166.62" y="565.42" width="5.29" height="5.56" fill="#f08484" stroke="#4a3a3a" stroke-width="0.4"/>
<line x1="166.62" y1="568.19" x2="171.91" y2="568.19" stroke="#000" stroke-width="1.25"/>
<rect x="197.40" y="510.50" width="142.90" height="8.50" fill="#d9d9d9" stroke="#4d4d4d" stroke-width="0.5"/>
<text x="268.85" y="516.9" font-size="7.1" text-anchor="middle" fill="#1a1a1a">MECR</text>
<rect x="197.40" y="519.00" width="142.90" height="111.00" fill="#fff" stroke="#4d4d4d" stroke-width="0.5"/>
<line x1="194.60" y1="518.90" x2="197.40" y2="518.90" stroke="#333" stroke-width="0.5"/>
<text x="190.8" y="521.5" font-size="6.9" text-anchor="end" fill="#333">1.00</text>
<line x1="194.60" y1="545.80" x2="197.40" y2="545.80" stroke="#333" stroke-width="0.5"/>
<text x="190.8" y="548.4" font-size="6.9" text-anchor="end" fill="#333">0.75</text>
<line x1="194.60" y1="572.80" x2="197.40" y2="572.80" stroke="#333" stroke-width="0.5"/>
<text x="190.8" y="575.4" font-size="6.9" text-anchor="end" fill="#333">0.50</text>
<line x1="194.60" y1="599.80" x2="197.40" y2="599.80" stroke="#333" stroke-width="0.5"/>
<text x="190.8" y="602.4" font-size="6.9" text-anchor="end" fill="#333">0.25</text>
<line x1="194.60" y1="626.90" x2="197.40" y2="626.90" stroke="#333" stroke-width="0.5"/>
<text x="190.8" y="629.5" font-size="6.9" text-anchor="end" fill="#333">0</text>
<line x1="201.64" y1="630.00" x2="201.64" y2="632.80" stroke="#333" stroke-width="0.5"/>
<line x1="201.64" y1="614.38" x2="201.64" y2="624.10" stroke="#3a3a3a" stroke-width="0.5"/>
<rect x="198.99" y="616.81" width="5.31" height="5.21" fill="#7fcdf2" stroke="#4a3a3a" stroke-width="0.4"/>
<line x1="198.99" y1="618.89" x2="204.30" y2="618.89" stroke="#000" stroke-width="1.25"/>
<line x1="208.72" y1="630.00" x2="208.72" y2="632.80" stroke="#333" stroke-width="0.5"/>
<line x1="206.07" y1="622.36" x2="211.37" y2="622.36" stroke="#000" stroke-width="1.25"/>
<line x1="215.79" y1="630.00" x2="215.79" y2="632.80" stroke="#333" stroke-width="0.5"/>
<line x1="213.14" y1="623.40" x2="218.45" y2="623.40" stroke="#000" stroke-width="1.25"/>
<line x1="222.87" y1="630.00" x2="222.87" y2="632.80" stroke="#333" stroke-width="0.5"/>
<line x1="222.87" y1="613.68" x2="222.87" y2="622.36" stroke="#3a3a3a" stroke-width="0.5"/>
<rect x="220.21" y="615.76" width="5.31" height="3.82" fill="#7fcdf2" stroke="#4a3a3a" stroke-width="0.4"/>
<line x1="220.21" y1="617.50" x2="225.52" y2="617.50" stroke="#000" stroke-width="1.25"/>
<line x1="229.94" y1="630.00" x2="229.94" y2="632.80" stroke="#333" stroke-width="0.5"/>
<line x1="229.94" y1="620.62" x2="229.94" y2="624.10" stroke="#3a3a3a" stroke-width="0.5"/>
<rect x="227.29" y="622.01" width="5.31" height="1.74" fill="#7fcdf2" stroke="#4a3a3a" stroke-width="0.4"/>
<line x1="227.29" y1="623.06" x2="232.59" y2="623.06" stroke="#000" stroke-width="1.25"/>
<line x1="237.02" y1="630.00" x2="237.02" y2="632.80" stroke="#333" stroke-width="0.5"/>
<line x1="237.02" y1="620.28" x2="237.02" y2="623.75" stroke="#3a3a3a" stroke-width="0.5"/>
<rect x="234.36" y="620.62" width="5.31" height="2.78" fill="#7fcdf2" stroke="#4a3a3a" stroke-width="0.4"/>
<line x1="234.36" y1="622.01" x2="239.67" y2="622.01" stroke="#000" stroke-width="1.25"/>
<line x1="244.09" y1="630.00" x2="244.09" y2="632.80" stroke="#333" stroke-width="0.5"/>
<line x1="244.09" y1="608.12" x2="244.09" y2="624.79" stroke="#3a3a3a" stroke-width="0.5"/>
<rect x="241.44" y="613.68" width="5.31" height="10.07" fill="#f08484" stroke="#4a3a3a" stroke-width="0.4"/>
<line x1="241.44" y1="622.01" x2="246.74" y2="622.01" stroke="#000" stroke-width="1.25"/>
<line x1="251.16" y1="630.00" x2="251.16" y2="632.80" stroke="#333" stroke-width="0.5"/>
<line x1="251.16" y1="619.93" x2="251.16" y2="622.71" stroke="#3a3a3a" stroke-width="0.5"/>
<rect x="248.51" y="620.28" width="5.31" height="2.08" fill="#f08484" stroke="#4a3a3a" stroke-width="0.4"/>
<line x1="248.51" y1="621.32" x2="253.82" y2="621.32" stroke="#000" stroke-width="1.25"/>
<line x1="258.24" y1="630.00" x2="258.24" y2="632.80" stroke="#333" stroke-width="0.5"/>
<line x1="258.24" y1="617.15" x2="258.24" y2="619.58" stroke="#3a3a3a" stroke-width="0.5"/>
<rect x="255.59" y="617.50" width="5.31" height="1.74" fill="#f08484" stroke="#4a3a3a" stroke-width="0.4"/>
<line x1="255.59" y1="618.19" x2="260.89" y2="618.19" stroke="#000" stroke-width="1.25"/>
<line x1="265.31" y1="630.00" x2="265.31" y2="632.80" stroke="#333" stroke-width="0.5"/>
<line x1="265.31" y1="617.85" x2="265.31" y2="622.36" stroke="#3a3a3a" stroke-width="0.5"/>
<rect x="262.66" y="619.24" width="5.31" height="2.43" fill="#f08484" stroke="#4a3a3a" stroke-width="0.4"/>
<line x1="262.66" y1="620.28" x2="267.97" y2="620.28" stroke="#000" stroke-width="1.25"/>
<line x1="272.39" y1="630.00" x2="272.39" y2="632.80" stroke="#333" stroke-width="0.5"/>
<line x1="269.73" y1="617.15" x2="275.04" y2="617.15" stroke="#000" stroke-width="1.25"/>
<line x1="279.46" y1="630.00" x2="279.46" y2="632.80" stroke="#333" stroke-width="0.5"/>
<line x1="276.81" y1="617.15" x2="282.11" y2="617.15" stroke="#000" stroke-width="1.25"/>
<line x1="286.54" y1="630.00" x2="286.54" y2="632.80" stroke="#333" stroke-width="0.5"/>
<line x1="286.54" y1="603.96" x2="286.54" y2="621.67" stroke="#3a3a3a" stroke-width="0.5"/>
<rect x="283.88" y="611.25" width="5.31" height="6.94" fill="#f08484" stroke="#4a3a3a" stroke-width="0.4"/>
<line x1="283.88" y1="615.07" x2="289.19" y2="615.07" stroke="#000" stroke-width="1.25"/>
<line x1="293.61" y1="630.00" x2="293.61" y2="632.80" stroke="#333" stroke-width="0.5"/>
<line x1="290.96" y1="619.58" x2="296.26" y2="619.58" stroke="#000" stroke-width="1.25"/>
<line x1="300.68" y1="630.00" x2="300.68" y2="632.80" stroke="#333" stroke-width="0.5"/>
<line x1="298.03" y1="612.99" x2="303.34" y2="612.99" stroke="#000" stroke-width="1.25"/>
<line x1="307.76" y1="630.00" x2="307.76" y2="632.80" stroke="#333" stroke-width="0.5"/>
<line x1="305.11" y1="620.28" x2="310.41" y2="620.28" stroke="#000" stroke-width="1.25"/>
<line x1="314.83" y1="630.00" x2="314.83" y2="632.80" stroke="#333" stroke-width="0.5"/>
<line x1="314.83" y1="620.28" x2="314.83" y2="625.49" stroke="#3a3a3a" stroke-width="0.5"/>
<rect x="312.18" y="621.32" width="5.31" height="3.12" fill="#f08484" stroke="#4a3a3a" stroke-width="0.4"/>
<line x1="312.18" y1="623.06" x2="317.49" y2="623.06" stroke="#000" stroke-width="1.25"/>
<line x1="321.91" y1="630.00" x2="321.91" y2="632.80" stroke="#333" stroke-width="0.5"/>
<line x1="321.91" y1="619.58" x2="321.91" y2="622.01" stroke="#3a3a3a" stroke-width="0.5"/>
<rect x="319.25" y="619.93" width="5.31" height="1.74" fill="#f08484" stroke="#4a3a3a" stroke-width="0.4"/>
<line x1="319.25" y1="620.62" x2="324.56" y2="620.62" stroke="#000" stroke-width="1.25"/>
<line x1="328.98" y1="630.00" x2="328.98" y2="632.80" stroke="#333" stroke-width="0.5"/>
<line x1="328.98" y1="617.15" x2="328.98" y2="619.93" stroke="#3a3a3a" stroke-width="0.5"/>
<rect x="326.33" y="617.50" width="5.31" height="2.08" fill="#f08484" stroke="#4a3a3a" stroke-width="0.4"/>
<line x1="326.33" y1="618.54" x2="331.63" y2="618.54" stroke="#000" stroke-width="1.25"/>
<line x1="336.06" y1="630.00" x2="336.06" y2="632.80" stroke="#333" stroke-width="0.5"/>
<line x1="336.06" y1="614.38" x2="336.06" y2="616.81" stroke="#3a3a3a" stroke-width="0.5"/>
<rect x="333.40" y="614.72" width="5.31" height="1.74" fill="#f08484" stroke="#4a3a3a" stroke-width="0.4"/>
<line x1="333.40" y1="615.42" x2="338.71" y2="615.42" stroke="#000" stroke-width="1.25"/>
<text x="37.43564356435643" y="636.4" font-size="6.55" text-anchor="end" fill="#222" transform="rotate(-90 37.43564356435643 636.4)">Appendix ST</text>
<text x="44.495049504950494" y="636.4" font-size="6.55" text-anchor="end" fill="#222" transform="rotate(-90 44.495049504950494 636.4)">Breast ST</text>
<text x="51.55445544554455" y="636.4" font-size="6.55" text-anchor="end" fill="#222" transform="rotate(-90 51.55445544554455 636.4)">Colon ST</text>
<text x="58.61386138613861" y="636.4" font-size="6.55" text-anchor="end" fill="#222" transform="rotate(-90 58.61386138613861 636.4)">Ileum ST</text>
<text x="65.67326732673267" y="636.4" font-size="6.55" text-anchor="end" fill="#222" transform="rotate(-90 65.67326732673267 636.4)">Pancreas ST</text>
<text x="72.73267326732672" y="636.4" font-size="6.55" text-anchor="end" fill="#222" transform="rotate(-90 72.73267326732672 636.4)">Prostate ST</text>
<text x="79.79207920792079" y="636.4" font-size="6.55" text-anchor="end" fill="#222" transform="rotate(-90 79.79207920792079 636.4)">Brain PUB</text>
<text x="86.85148514851484" y="636.4" font-size="6.55" text-anchor="end" fill="#222" transform="rotate(-90 86.85148514851484 636.4)">Breast PUB</text>
<text x="93.9108910891089" y="636.4" font-size="6.55" text-anchor="end" fill="#222" transform="rotate(-90 93.9108910891089 636.4)">Colon PUB</text>
<text x="100.97029702970296" y="636.4" font-size="6.55" text-anchor="end" fill="#222" transform="rotate(-90 100.97029702970296 636.4)">Kidney PUB</text>
<text x="108.02970297029701" y="636.4" font-size="6.55" text-anchor="end" fill="#222" transform="rotate(-90 108.02970297029701 636.4)">Larynx PUB</text>
<text x="115.08910891089108" y="636.4" font-size="6.55" text-anchor="end" fill="#222" transform="rotate(-90 115.08910891089108 636.4)">Liver PUB</text>
<text x="122.14851485148513" y="636.4" font-size="6.55" text-anchor="end" fill="#222" transform="rotate(-90 122.14851485148513 636.4)">Lung PUB</text>
<text x="129.20792079207922" y="636.4" font-size="6.55" text-anchor="end" fill="#222" transform="rotate(-90 129.20792079207922 636.4)" textLength="48" lengthAdjust="spacingAndGlyphs">Lymph node PUB</text>
<text x="136.26732673267327" y="636.4" font-size="6.55" text-anchor="end" fill="#222" transform="rotate(-90 136.26732673267327 636.4)">Nerve PUB</text>
<text x="143.32673267326734" y="636.4" font-size="6.55" text-anchor="end" fill="#222" transform="rotate(-90 143.32673267326734 636.4)">Ovary PUB</text>
<text x="150.38613861386142" y="636.4" font-size="6.55" text-anchor="end" fill="#222" transform="rotate(-90 150.38613861386142 636.4)">Pancreas PUB</text>
<text x="157.44554455445547" y="636.4" font-size="6.55" text-anchor="end" fill="#222" transform="rotate(-90 157.44554455445547 636.4)">Prostate PUB</text>
<text x="164.50495049504954" y="636.4" font-size="6.55" text-anchor="end" fill="#222" transform="rotate(-90 164.50495049504954 636.4)">Skin PUB</text>
<text x="171.5643564356436" y="636.4" font-size="6.55" text-anchor="end" fill="#222" transform="rotate(-90 171.5643564356436 636.4)">Uterus PUB</text>
<text x="203.94455445544557" y="636.4" font-size="6.55" text-anchor="end" fill="#222" transform="rotate(-90 203.94455445544557 636.4)">Appendix ST</text>
<text x="211.01881188118813" y="636.4" font-size="6.55" text-anchor="end" fill="#222" transform="rotate(-90 211.01881188118813 636.4)">Breast ST</text>
<text x="218.09306930693072" y="636.4" font-size="6.55" text-anchor="end" fill="#222" transform="rotate(-90 218.09306930693072 636.4)">Colon ST</text>
<text x="225.1673267326733" y="636.4" font-size="6.55" text-anchor="end" fill="#222" transform="rotate(-90 225.1673267326733 636.4)">Ileum ST</text>
<text x="232.24158415841586" y="636.4" font-size="6.55" text-anchor="end" fill="#222" transform="rotate(-90 232.24158415841586 636.4)">Pancreas ST</text>
<text x="239.31584158415842" y="636.4" font-size="6.55" text-anchor="end" fill="#222" transform="rotate(-90 239.31584158415842 636.4)">Prostate ST</text>
<text x="246.390099009901" y="636.4" font-size="6.55" text-anchor="end" fill="#222" transform="rotate(-90 246.390099009901 636.4)">Brain PUB</text>
<text x="253.4643564356436" y="636.4" font-size="6.55" text-anchor="end" fill="#222" transform="rotate(-90 253.4643564356436 636.4)">Breast PUB</text>
<text x="260.5386138613862" y="636.4" font-size="6.55" text-anchor="end" fill="#222" transform="rotate(-90 260.5386138613862 636.4)">Colon PUB</text>
<text x="267.6128712871287" y="636.4" font-size="6.55" text-anchor="end" fill="#222" transform="rotate(-90 267.6128712871287 636.4)">Kidney PUB</text>
<text x="274.6871287128713" y="636.4" font-size="6.55" text-anchor="end" fill="#222" transform="rotate(-90 274.6871287128713 636.4)">Larynx PUB</text>
<text x="281.7613861386139" y="636.4" font-size="6.55" text-anchor="end" fill="#222" transform="rotate(-90 281.7613861386139 636.4)">Liver PUB</text>
<text x="288.8356435643565" y="636.4" font-size="6.55" text-anchor="end" fill="#222" transform="rotate(-90 288.8356435643565 636.4)">Lung PUB</text>
<text x="295.90990099009906" y="636.4" font-size="6.55" text-anchor="end" fill="#222" transform="rotate(-90 295.90990099009906 636.4)" textLength="48" lengthAdjust="spacingAndGlyphs">Lymph node PUB</text>
<text x="302.9841584158416" y="636.4" font-size="6.55" text-anchor="end" fill="#222" transform="rotate(-90 302.9841584158416 636.4)">Nerve PUB</text>
<text x="310.0584158415842" y="636.4" font-size="6.55" text-anchor="end" fill="#222" transform="rotate(-90 310.0584158415842 636.4)">Ovary PUB</text>
<text x="317.13267326732677" y="636.4" font-size="6.55" text-anchor="end" fill="#222" transform="rotate(-90 317.13267326732677 636.4)">Pancreas PUB</text>
<text x="324.20693069306935" y="636.4" font-size="6.55" text-anchor="end" fill="#222" transform="rotate(-90 324.20693069306935 636.4)">Prostate PUB</text>
<text x="331.28118811881194" y="636.4" font-size="6.55" text-anchor="end" fill="#222" transform="rotate(-90 331.28118811881194 636.4)">Skin PUB</text>
<text x="338.35544554455447" y="636.4" font-size="6.55" text-anchor="end" fill="#222" transform="rotate(-90 338.35544554455447 636.4)">Uterus PUB</text>
<text x="342" y="503.8" font-size="5.15" fill="#1a1a1a">Dataset</text>
<line x1="346.30" y1="508.10" x2="346.30" y2="514.50" stroke="#555" stroke-width="0.4"/>
<rect x="343.20" y="509.00" width="6.20" height="4.60" fill="#7fcdf2" stroke="#4a4a4a" stroke-width="0.4"/>
<line x1="343.20" y1="511.30" x2="349.40" y2="511.30" stroke="#111" stroke-width="1.1"/>
<text x="352.8" y="512.9" font-size="5.8" fill="#1a1a1a">ST</text>
<line x1="346.30" y1="516.30" x2="346.30" y2="522.70" stroke="#555" stroke-width="0.4"/>
<rect x="343.20" y="517.20" width="6.20" height="4.60" fill="#f08484" stroke="#4a4a4a" stroke-width="0.4"/>
<line x1="343.20" y1="519.50" x2="349.40" y2="519.50" stroke="#111" stroke-width="1.1"/>
<text x="352.8" y="521.1" font-size="5.8" fill="#1a1a1a">PUB</text>
</svg>
</body></html>
